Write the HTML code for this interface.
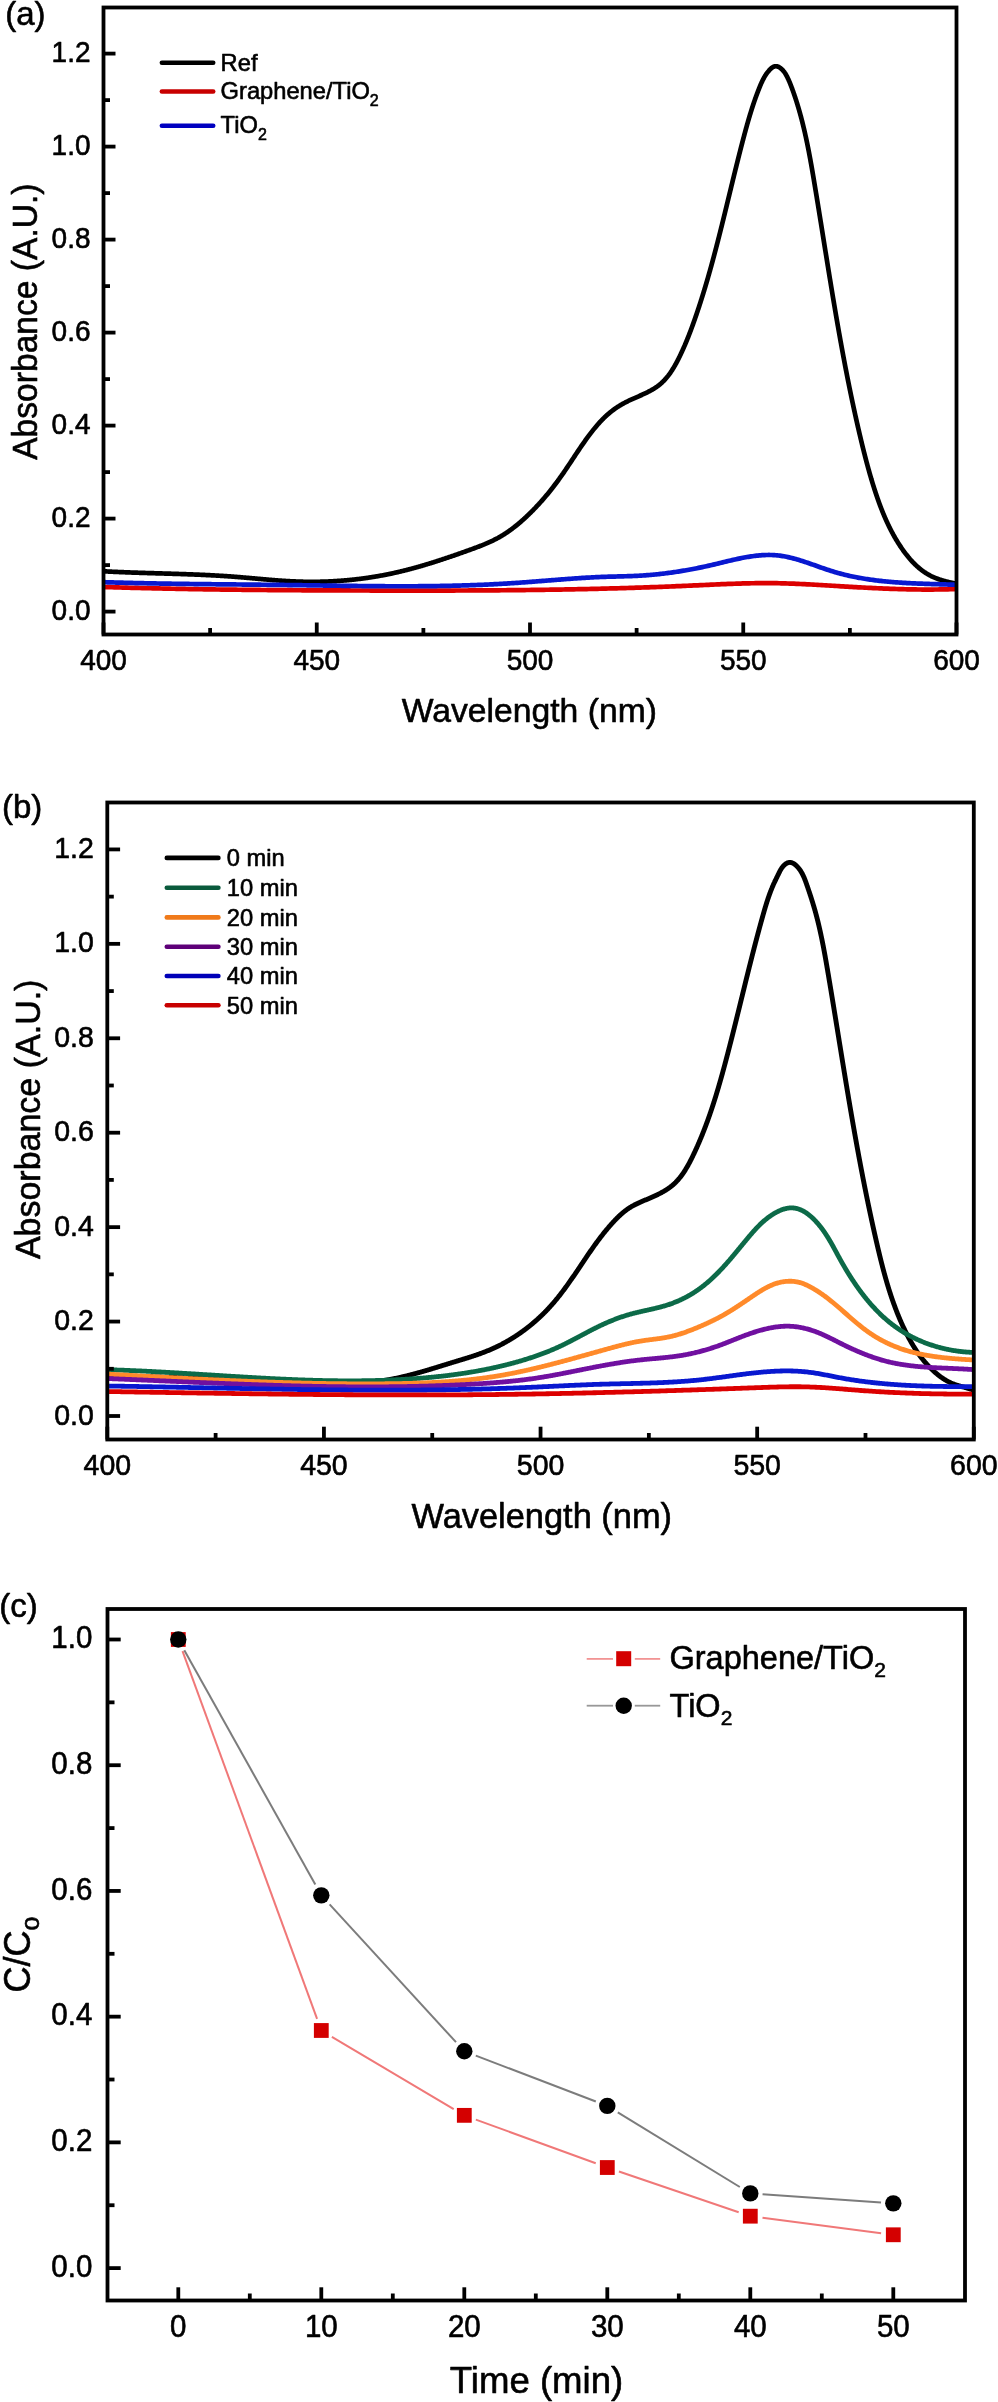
<!DOCTYPE html>
<html><head><meta charset="utf-8"><title>Figure</title>
<style>html,body{margin:0;padding:0;background:#fff;width:998px;height:2402px;overflow:hidden;font-family:"Liberation Sans",sans-serif}svg{display:block;filter:blur(0.45px)}</style>
</head><body>
<svg width="998" height="2402" viewBox="0 0 998 2402" font-family='&quot;Liberation Sans&quot;, sans-serif' fill="#000"><defs><clipPath id="ca"><rect x="103.50" y="7.50" width="853.00" height="627.00"/></clipPath><clipPath id="cb"><rect x="107.30" y="802.50" width="866.50" height="637.00"/></clipPath></defs><path d="M103.50 571.28L104.13 571.31L104.76 571.35L105.39 571.38L106.02 571.41L106.65 571.45L107.28 571.48L107.90 571.51L108.53 571.54L109.16 571.57L109.79 571.61L110.42 571.64L111.05 571.67L111.68 571.70L112.31 571.73L112.94 571.76L113.57 571.79L114.20 571.82L114.83 571.85L115.46 571.87L116.09 571.90L116.72 571.93L117.35 571.96L117.98 571.99L118.61 572.01L119.24 572.04L119.86 572.07L120.49 572.09L121.12 572.12L121.75 572.14L122.38 572.17L123.01 572.20L123.64 572.22L124.27 572.25L124.90 572.27L125.53 572.29L126.16 572.32L126.79 572.34L127.42 572.37L128.05 572.39L128.68 572.41L129.31 572.44L129.94 572.46L130.57 572.48L131.20 572.51L131.83 572.53L132.46 572.55L133.09 572.57L133.72 572.59L134.35 572.62L134.98 572.64L135.61 572.66L136.24 572.68L136.87 572.70L137.50 572.72L138.13 572.74L138.76 572.76L139.39 572.78L140.02 572.80L140.65 572.82L141.27 572.84L141.90 572.86L142.53 572.88L143.16 572.90L143.79 572.92L144.42 572.94L145.05 572.96L145.68 572.98L146.31 573.00L146.94 573.02L147.57 573.04L148.20 573.06L148.83 573.08L149.46 573.09L150.09 573.11L150.72 573.13L151.35 573.15L151.98 573.17L152.61 573.19L153.24 573.21L153.87 573.22L154.50 573.24L155.13 573.26L155.76 573.28L156.39 573.30L157.02 573.32L157.65 573.34L158.28 573.35L158.91 573.37L159.54 573.39L160.17 573.41L160.80 573.43L161.43 573.44L162.06 573.46L162.69 573.48L163.32 573.50L163.95 573.52L164.58 573.54L165.21 573.56L165.84 573.57L166.47 573.59L167.10 573.61L167.73 573.63L168.36 573.65L168.99 573.67L169.62 573.69L170.25 573.70L170.87 573.72L171.50 573.74L172.13 573.76L172.76 573.78L173.39 573.80L174.02 573.82L174.65 573.84L175.28 573.86L175.91 573.88L176.54 573.90L177.17 573.92L177.80 573.94L178.43 573.96L179.06 573.98L179.69 574.00L180.32 574.02L180.95 574.04L181.58 574.06L182.21 574.08L182.84 574.10L183.47 574.12L184.10 574.15L184.73 574.17L185.36 574.19L185.99 574.21L186.61 574.23L187.24 574.26L187.87 574.28L188.50 574.30L189.13 574.32L189.76 574.35L190.39 574.37L191.02 574.39L191.65 574.42L192.28 574.44L192.91 574.46L193.54 574.49L194.17 574.51L194.80 574.54L195.43 574.56L196.06 574.59L196.69 574.61L197.31 574.64L197.94 574.67L198.57 574.69L199.20 574.72L199.83 574.75L200.46 574.77L201.09 574.80L201.72 574.83L202.35 574.86L202.98 574.88L203.61 574.91L204.24 574.94L204.86 574.97L205.49 575.00L206.12 575.03L206.75 575.06L207.38 575.09L208.01 575.12L208.64 575.15L209.27 575.18L209.90 575.21L210.53 575.25L211.15 575.28L211.78 575.31L212.41 575.34L213.04 575.38L213.67 575.41L214.30 575.45L214.93 575.48L215.56 575.51L216.19 575.55L216.81 575.59L217.44 575.62L218.07 575.66L218.70 575.69L219.33 575.73L219.96 575.77L220.59 575.81L221.21 575.85L221.84 575.88L222.47 575.92L223.10 575.96L223.73 576.00L224.36 576.04L224.99 576.08L225.61 576.13L226.24 576.17L226.87 576.21L227.50 576.25L228.13 576.30L228.76 576.34L229.38 576.38L230.01 576.43L230.64 576.47L231.27 576.52L231.90 576.56L232.53 576.61L233.15 576.66L233.78 576.70L234.41 576.75L235.04 576.80L235.67 576.85L236.29 576.90L236.92 576.95L237.55 577.00L238.18 577.05L238.81 577.10L239.43 577.15L240.06 577.20L240.69 577.26L241.32 577.31L241.94 577.36L242.57 577.41L243.20 577.47L243.83 577.52L244.46 577.57L245.08 577.63L245.71 577.68L246.34 577.74L246.97 577.79L247.59 577.85L248.22 577.90L248.85 577.96L249.48 578.01L250.11 578.07L250.73 578.12L251.36 578.18L251.99 578.24L252.62 578.29L253.24 578.35L253.87 578.40L254.50 578.46L255.13 578.52L255.75 578.57L256.38 578.63L257.01 578.68L257.64 578.74L258.27 578.80L258.89 578.85L259.52 578.91L260.15 578.96L260.78 579.02L261.40 579.08L262.03 579.13L262.66 579.19L263.29 579.24L263.91 579.30L264.54 579.35L265.17 579.40L265.80 579.46L266.43 579.51L267.05 579.57L267.68 579.62L268.31 579.67L268.94 579.73L269.56 579.78L270.19 579.83L270.82 579.88L271.45 579.93L272.08 579.98L272.70 580.04L273.33 580.09L273.96 580.14L274.59 580.18L275.22 580.23L275.84 580.28L276.47 580.33L277.10 580.38L277.73 580.42L278.36 580.47L278.99 580.52L279.61 580.56L280.24 580.61L280.87 580.65L281.50 580.69L282.13 580.74L282.76 580.78L283.38 580.82L284.01 580.86L284.64 580.90L285.27 580.94L285.90 580.98L286.53 581.02L287.15 581.06L287.78 581.09L288.41 581.13L289.04 581.16L289.67 581.20L290.30 581.23L290.93 581.27L291.56 581.30L292.19 581.33L292.81 581.36L293.44 581.39L294.07 581.42L294.70 581.44L295.33 581.47L295.96 581.50L296.59 581.52L297.22 581.54L297.85 581.57L298.48 581.59L299.11 581.61L299.74 581.63L300.37 581.65L301.00 581.67L301.63 581.68L302.26 581.70L302.89 581.71L303.52 581.73L304.14 581.74L304.77 581.75L305.40 581.76L306.03 581.77L306.66 581.78L307.29 581.79L307.92 581.79L308.55 581.80L309.18 581.80L309.81 581.81L310.44 581.81L311.07 581.81L311.70 581.81L312.33 581.81L312.97 581.81L313.60 581.81L314.23 581.81L314.86 581.80L315.49 581.80L316.12 581.79L316.75 581.78L317.38 581.77L318.01 581.76L318.64 581.75L319.27 581.74L319.90 581.73L320.53 581.72L321.16 581.70L321.79 581.69L322.42 581.67L323.05 581.65L323.68 581.63L324.31 581.61L324.94 581.59L325.57 581.57L326.20 581.55L326.83 581.53L327.46 581.50L328.09 581.48L328.72 581.45L329.34 581.42L329.97 581.39L330.60 581.36L331.23 581.33L331.86 581.30L332.49 581.27L333.12 581.23L333.75 581.20L334.38 581.16L335.01 581.13L335.64 581.09L336.27 581.05L336.90 581.01L337.53 580.97L338.15 580.93L338.78 580.88L339.41 580.84L340.04 580.79L340.67 580.75L341.30 580.70L341.93 580.65L342.55 580.60L343.18 580.55L343.81 580.50L344.44 580.45L345.07 580.40L345.69 580.34L346.32 580.29L346.95 580.23L347.58 580.17L348.21 580.12L348.83 580.06L349.46 580.00L350.09 579.94L350.71 579.87L351.34 579.81L351.97 579.74L352.59 579.68L353.22 579.61L353.85 579.55L354.47 579.48L355.10 579.41L355.73 579.34L356.35 579.26L356.98 579.19L357.60 579.12L358.23 579.04L358.86 578.97L359.48 578.89L360.11 578.81L360.73 578.73L361.36 578.65L361.98 578.57L362.61 578.49L363.23 578.41L363.85 578.32L364.48 578.24L365.10 578.15L365.73 578.07L366.35 577.98L366.97 577.89L367.60 577.80L368.22 577.71L368.84 577.61L369.47 577.52L370.09 577.43L370.71 577.33L371.33 577.24L371.96 577.14L372.58 577.04L373.20 576.94L373.82 576.84L374.44 576.74L375.07 576.64L375.69 576.53L376.31 576.43L376.93 576.32L377.55 576.21L378.17 576.11L378.79 576.00L379.41 575.89L380.03 575.78L380.65 575.66L381.27 575.55L381.89 575.44L382.51 575.32L383.13 575.21L383.74 575.09L384.36 574.97L384.98 574.85L385.60 574.73L386.22 574.61L386.83 574.49L387.45 574.36L388.07 574.24L388.69 574.11L389.30 573.99L389.92 573.86L390.53 573.73L391.15 573.60L391.77 573.47L392.38 573.34L393.00 573.21L393.61 573.07L394.23 572.94L394.84 572.80L395.46 572.66L396.07 572.53L396.68 572.39L397.30 572.25L397.91 572.11L398.52 571.96L399.14 571.82L399.75 571.68L400.36 571.53L400.97 571.38L401.58 571.24L402.20 571.09L402.81 570.94L403.42 570.79L404.03 570.64L404.64 570.49L405.25 570.33L405.86 570.18L406.47 570.02L407.08 569.87L407.69 569.71L408.30 569.55L408.91 569.39L409.52 569.24L410.12 569.07L410.73 568.91L411.34 568.75L411.95 568.59L412.56 568.42L413.16 568.26L413.77 568.09L414.38 567.93L414.99 567.76L415.59 567.59L416.20 567.42L416.81 567.25L417.41 567.08L418.02 566.91L418.62 566.74L419.23 566.57L419.83 566.39L420.44 566.22L421.04 566.04L421.65 565.87L422.25 565.69L422.86 565.51L423.46 565.34L424.07 565.16L424.67 564.98L425.27 564.80L425.88 564.62L426.48 564.43L427.08 564.25L427.68 564.07L428.29 563.88L428.89 563.70L429.49 563.52L430.09 563.33L430.70 563.14L431.30 562.96L431.90 562.77L432.50 562.58L433.10 562.39L433.70 562.20L434.30 562.01L434.91 561.82L435.51 561.63L436.11 561.44L436.71 561.24L437.31 561.05L437.91 560.86L438.51 560.66L439.11 560.47L439.71 560.27L440.31 560.08L440.90 559.88L441.50 559.68L442.10 559.49L442.70 559.29L443.30 559.09L443.90 558.89L444.50 558.69L445.10 558.49L445.69 558.29L446.29 558.09L446.89 557.89L447.49 557.69L448.08 557.49L448.68 557.28L449.28 557.08L449.88 556.88L450.47 556.67L451.07 556.47L451.67 556.26L452.26 556.06L452.86 555.85L453.46 555.65L454.05 555.44L454.65 555.24L455.25 555.03L455.84 554.82L456.44 554.61L457.03 554.41L457.63 554.20L458.22 553.99L458.82 553.78L459.42 553.57L460.01 553.36L460.61 553.15L461.20 552.94L461.80 552.73L462.39 552.52L462.99 552.31L463.58 552.10L464.17 551.89L464.77 551.68L465.36 551.46L465.96 551.25L466.55 551.04L467.15 550.83L467.74 550.61L468.33 550.40L468.93 550.19L469.52 549.97L470.11 549.76L470.71 549.55L471.30 549.33L471.89 549.12L472.49 548.90L473.08 548.68L473.67 548.47L474.26 548.25L474.85 548.03L475.44 547.81L476.03 547.59L476.62 547.37L477.21 547.15L477.80 546.92L478.39 546.70L478.98 546.47L479.56 546.24L480.15 546.02L480.74 545.79L481.32 545.56L481.90 545.32L482.49 545.09L483.07 544.85L483.65 544.61L484.23 544.38L484.81 544.13L485.39 543.89L485.97 543.65L486.55 543.40L487.12 543.15L487.70 542.90L488.27 542.65L488.84 542.39L489.42 542.14L489.99 541.88L490.56 541.62L491.12 541.35L491.69 541.08L492.26 540.82L492.82 540.54L493.38 540.27L493.95 539.99L494.51 539.71L495.06 539.43L495.62 539.15L496.18 538.86L496.73 538.57L497.28 538.27L497.84 537.98L498.38 537.68L498.93 537.37L499.48 537.07L500.02 536.76L500.57 536.44L501.11 536.13L501.65 535.81L502.19 535.48L502.72 535.16L503.26 534.83L503.79 534.50L504.32 534.16L504.85 533.82L505.38 533.48L505.90 533.14L506.43 532.79L506.95 532.44L507.47 532.08L507.99 531.73L508.51 531.37L509.03 531.01L509.54 530.64L510.05 530.28L510.56 529.91L511.07 529.54L511.58 529.16L512.09 528.79L512.60 528.41L513.10 528.02L513.60 527.64L514.10 527.25L514.60 526.86L515.10 526.47L515.59 526.08L516.09 525.68L516.58 525.29L517.07 524.89L517.56 524.48L518.05 524.08L518.54 523.67L519.02 523.27L519.51 522.86L519.99 522.44L520.47 522.03L520.95 521.61L521.43 521.20L521.91 520.78L522.38 520.36L522.85 519.93L523.33 519.51L523.80 519.08L524.27 518.66L524.74 518.23L525.20 517.80L525.67 517.36L526.13 516.93L526.59 516.50L527.06 516.06L527.52 515.62L527.97 515.18L528.43 514.74L528.89 514.30L529.34 513.86L529.79 513.42L530.25 512.97L530.70 512.53L531.15 512.08L531.59 511.63L532.04 511.19L532.48 510.74L532.93 510.28L533.37 509.83L533.81 509.38L534.25 508.93L534.69 508.47L535.13 508.02L535.56 507.56L536.00 507.10L536.43 506.64L536.86 506.18L537.30 505.72L537.73 505.26L538.15 504.80L538.58 504.33L539.01 503.87L539.43 503.40L539.86 502.94L540.28 502.47L540.70 502.00L541.12 501.53L541.54 501.06L541.95 500.59L542.37 500.12L542.78 499.64L543.20 499.17L543.61 498.69L544.02 498.22L544.43 497.74L544.84 497.26L545.25 496.78L545.65 496.30L546.06 495.82L546.46 495.34L546.87 494.86L547.27 494.38L547.67 493.89L548.07 493.41L548.47 492.92L548.86 492.44L549.26 491.95L549.65 491.46L550.05 490.97L550.44 490.48L550.83 489.99L551.22 489.50L551.61 489.01L552.00 488.51L552.39 488.02L552.77 487.52L553.16 487.03L553.54 486.53L553.92 486.03L554.30 485.53L554.68 485.03L555.06 484.53L555.44 484.03L555.82 483.53L556.19 483.03L556.57 482.53L556.94 482.02L557.32 481.52L557.69 481.01L558.06 480.51L558.43 480.00L558.79 479.49L559.16 478.98L559.53 478.48L559.89 477.97L560.26 477.45L560.62 476.94L560.98 476.43L561.34 475.92L561.71 475.41L562.06 474.89L562.42 474.38L562.78 473.86L563.14 473.35L563.49 472.83L563.85 472.31L564.20 471.80L564.56 471.28L564.91 470.76L565.26 470.24L565.62 469.72L565.97 469.20L566.32 468.68L566.67 468.16L567.02 467.64L567.37 467.12L567.72 466.60L568.07 466.07L568.42 465.55L568.77 465.03L569.11 464.51L569.46 463.98L569.81 463.46L570.16 462.94L570.50 462.41L570.85 461.89L571.20 461.37L571.54 460.84L571.89 460.32L572.24 459.79L572.58 459.27L572.93 458.74L573.28 458.22L573.62 457.70L573.97 457.17L574.32 456.65L574.66 456.12L575.01 455.60L575.36 455.07L575.71 454.55L576.06 454.02L576.40 453.50L576.75 452.98L577.10 452.45L577.45 451.93L577.80 451.41L578.15 450.88L578.50 450.36L578.86 449.84L579.21 449.32L579.56 448.79L579.91 448.27L580.27 447.75L580.62 447.23L580.98 446.71L581.34 446.19L581.69 445.67L582.05 445.15L582.41 444.63L582.77 444.11L583.13 443.59L583.49 443.08L583.85 442.56L584.22 442.04L584.58 441.53L584.94 441.01L585.31 440.50L585.68 439.98L586.05 439.47L586.42 438.96L586.79 438.44L587.16 437.93L587.53 437.42L587.91 436.91L588.28 436.40L588.66 435.89L589.04 435.39L589.42 434.88L589.80 434.37L590.18 433.87L590.57 433.36L590.95 432.86L591.34 432.36L591.73 431.86L592.12 431.36L592.51 430.86L592.91 430.36L593.30 429.86L593.70 429.37L594.10 428.87L594.50 428.38L594.90 427.89L595.31 427.40L595.71 426.92L596.12 426.43L596.53 425.95L596.94 425.47L597.35 424.99L597.77 424.51L598.19 424.04L598.61 423.57L599.03 423.09L599.45 422.63L599.88 422.16L600.31 421.70L600.73 421.24L601.17 420.78L601.60 420.33L602.04 419.87L602.48 419.42L602.92 418.98L603.36 418.53L603.81 418.09L604.25 417.66L604.70 417.22L605.16 416.79L605.61 416.36L606.07 415.94L606.53 415.52L606.99 415.10L607.45 414.69L607.92 414.28L608.39 413.87L608.86 413.47L609.34 413.07L609.82 412.67L610.30 412.28L610.78 411.89L611.26 411.51L611.75 411.12L612.24 410.74L612.73 410.37L613.23 410.00L613.73 409.63L614.23 409.27L614.73 408.90L615.24 408.55L615.75 408.19L616.26 407.84L616.77 407.49L617.29 407.15L617.81 406.81L618.33 406.47L618.86 406.14L619.39 405.81L619.92 405.49L620.45 405.16L620.99 404.85L621.53 404.53L622.07 404.22L622.61 403.91L623.16 403.61L623.71 403.30L624.27 403.01L624.82 402.71L625.38 402.42L625.94 402.13L626.51 401.85L627.07 401.57L627.64 401.29L628.21 401.01L628.79 400.74L629.36 400.47L629.94 400.20L630.51 399.93L631.09 399.66L631.67 399.40L632.26 399.13L632.84 398.87L633.42 398.61L634.00 398.35L634.59 398.09L635.17 397.83L635.76 397.58L636.35 397.32L636.93 397.06L637.52 396.80L638.10 396.55L638.69 396.29L639.27 396.03L639.86 395.77L640.44 395.51L641.03 395.25L641.61 394.99L642.19 394.73L642.77 394.46L643.35 394.20L643.93 393.93L644.50 393.66L645.08 393.39L645.65 393.12L646.22 392.84L646.79 392.56L647.35 392.28L647.92 392.00L648.48 391.71L649.04 391.42L649.59 391.13L650.15 390.83L650.70 390.53L651.24 390.23L651.79 389.92L652.33 389.61L652.87 389.29L653.40 388.97L653.93 388.65L654.46 388.32L654.98 387.98L655.50 387.64L656.01 387.30L656.52 386.95L657.02 386.60L657.52 386.23L658.02 385.87L658.51 385.50L659.00 385.12L659.48 384.73L659.95 384.34L660.42 383.94L660.89 383.54L661.35 383.13L661.80 382.72L662.25 382.30L662.70 381.87L663.14 381.44L663.57 381.00L664.00 380.56L664.43 380.11L664.85 379.65L665.27 379.19L665.68 378.73L666.09 378.26L666.49 377.79L666.89 377.31L667.29 376.83L667.68 376.34L668.07 375.85L668.45 375.35L668.83 374.85L669.20 374.35L669.58 373.84L669.94 373.33L670.31 372.81L670.67 372.30L671.02 371.77L671.38 371.25L671.73 370.72L672.07 370.19L672.42 369.65L672.76 369.11L673.09 368.57L673.42 368.03L673.76 367.48L674.08 366.93L674.41 366.38L674.73 365.83L675.05 365.27L675.36 364.71L675.67 364.15L675.98 363.59L676.29 363.03L676.60 362.46L676.90 361.89L677.20 361.33L677.50 360.76L677.79 360.19L678.08 359.61L678.37 359.04L678.66 358.46L678.95 357.89L679.23 357.31L679.52 356.74L679.80 356.16L680.08 355.58L680.35 355.00L680.63 354.43L680.90 353.85L681.17 353.27L681.44 352.69L681.71 352.11L681.98 351.53L682.24 350.95L682.51 350.37L682.77 349.79L683.03 349.21L683.29 348.63L683.55 348.05L683.80 347.47L684.06 346.89L684.31 346.31L684.56 345.73L684.82 345.15L685.06 344.57L685.31 343.99L685.56 343.40L685.80 342.82L686.05 342.24L686.29 341.66L686.53 341.07L686.77 340.49L687.01 339.91L687.25 339.32L687.48 338.74L687.72 338.16L687.95 337.57L688.19 336.99L688.42 336.40L688.65 335.82L688.88 335.23L689.11 334.65L689.33 334.06L689.56 333.48L689.79 332.89L690.01 332.31L690.23 331.72L690.46 331.13L690.68 330.55L690.90 329.96L691.12 329.37L691.34 328.78L691.55 328.20L691.77 327.61L691.99 327.02L692.20 326.43L692.42 325.84L692.63 325.25L692.85 324.66L693.06 324.08L693.27 323.49L693.48 322.90L693.69 322.31L693.90 321.72L694.11 321.12L694.32 320.53L694.53 319.94L694.74 319.35L694.94 318.76L695.15 318.17L695.36 317.58L695.56 316.98L695.77 316.39L695.97 315.80L696.17 315.20L696.38 314.61L696.58 314.02L696.78 313.42L696.98 312.83L697.18 312.24L697.38 311.64L697.58 311.05L697.78 310.45L697.98 309.86L698.18 309.26L698.38 308.67L698.58 308.07L698.77 307.47L698.97 306.88L699.16 306.28L699.36 305.68L699.55 305.09L699.75 304.49L699.94 303.89L700.14 303.30L700.33 302.70L700.52 302.10L700.71 301.50L700.90 300.90L701.09 300.30L701.28 299.71L701.47 299.11L701.66 298.51L701.85 297.91L702.04 297.31L702.23 296.71L702.42 296.11L702.60 295.51L702.79 294.91L702.98 294.31L703.16 293.71L703.35 293.11L703.53 292.51L703.72 291.90L703.90 291.30L704.08 290.70L704.27 290.10L704.45 289.50L704.63 288.90L704.81 288.29L705.00 287.69L705.18 287.09L705.36 286.49L705.54 285.88L705.72 285.28L705.90 284.68L706.07 284.07L706.25 283.47L706.43 282.87L706.61 282.26L706.79 281.66L706.96 281.05L707.14 280.45L707.32 279.84L707.49 279.24L707.67 278.64L707.84 278.03L708.02 277.42L708.19 276.82L708.36 276.21L708.54 275.61L708.71 275.00L708.88 274.40L709.06 273.79L709.23 273.18L709.40 272.58L709.57 271.97L709.74 271.37L709.91 270.76L710.08 270.15L710.25 269.55L710.42 268.94L710.59 268.33L710.76 267.72L710.93 267.12L711.10 266.51L711.27 265.90L711.43 265.29L711.60 264.69L711.77 264.08L711.93 263.47L712.10 262.86L712.27 262.25L712.43 261.64L712.60 261.04L712.76 260.43L712.93 259.82L713.09 259.21L713.26 258.60L713.42 257.99L713.58 257.38L713.75 256.77L713.91 256.16L714.07 255.55L714.24 254.94L714.40 254.33L714.56 253.72L714.72 253.11L714.88 252.50L715.04 251.89L715.20 251.28L715.37 250.67L715.53 250.06L715.69 249.45L715.85 248.84L716.01 248.23L716.16 247.62L716.32 247.01L716.48 246.40L716.64 245.79L716.80 245.18L716.96 244.57L717.12 243.96L717.27 243.34L717.43 242.73L717.59 242.12L717.75 241.51L717.90 240.90L718.06 240.29L718.22 239.68L718.37 239.06L718.53 238.45L718.68 237.84L718.84 237.23L719.00 236.62L719.15 236.01L719.31 235.39L719.46 234.78L719.62 234.17L719.77 233.56L719.92 232.95L720.08 232.33L720.23 231.72L720.39 231.11L720.54 230.50L720.69 229.88L720.85 229.27L721.00 228.66L721.15 228.05L721.31 227.43L721.46 226.82L721.61 226.21L721.76 225.60L721.92 224.98L722.07 224.37L722.22 223.76L722.37 223.15L722.52 222.53L722.68 221.92L722.83 221.31L722.98 220.70L723.13 220.08L723.28 219.47L723.43 218.86L723.58 218.25L723.73 217.63L723.88 217.02L724.04 216.41L724.19 215.79L724.34 215.18L724.49 214.57L724.64 213.96L724.79 213.34L724.94 212.73L725.09 212.12L725.24 211.50L725.39 210.89L725.54 210.28L725.69 209.67L725.84 209.05L725.98 208.44L726.13 207.83L726.28 207.22L726.43 206.60L726.58 205.99L726.73 205.38L726.88 204.77L727.03 204.15L727.18 203.54L727.33 202.93L727.48 202.31L727.63 201.70L727.77 201.09L727.92 200.48L728.07 199.87L728.22 199.25L728.37 198.64L728.52 198.03L728.67 197.42L728.82 196.80L728.96 196.19L729.11 195.58L729.26 194.97L729.41 194.36L729.56 193.74L729.71 193.13L729.86 192.52L730.00 191.91L730.15 191.30L730.30 190.68L730.45 190.07L730.60 189.46L730.75 188.85L730.90 188.24L731.05 187.62L731.19 187.01L731.34 186.40L731.49 185.79L731.64 185.18L731.79 184.57L731.94 183.95L732.09 183.34L732.24 182.73L732.39 182.12L732.53 181.51L732.68 180.90L732.83 180.29L732.98 179.68L733.13 179.06L733.28 178.45L733.43 177.84L733.58 177.23L733.73 176.62L733.88 176.01L734.03 175.40L734.18 174.79L734.33 174.18L734.48 173.56L734.63 172.95L734.78 172.34L734.93 171.73L735.08 171.12L735.23 170.51L735.38 169.90L735.53 169.29L735.68 168.68L735.84 168.07L735.99 167.46L736.14 166.85L736.29 166.24L736.44 165.63L736.59 165.02L736.75 164.41L736.90 163.80L737.05 163.19L737.20 162.58L737.35 161.97L737.51 161.36L737.66 160.75L737.81 160.14L737.97 159.53L738.12 158.92L738.27 158.31L738.43 157.70L738.58 157.09L738.73 156.48L738.89 155.87L739.04 155.26L739.20 154.65L739.35 154.04L739.50 153.43L739.66 152.82L739.81 152.21L739.97 151.60L740.13 150.99L740.28 150.38L740.44 149.77L740.59 149.16L740.75 148.55L740.91 147.94L741.06 147.33L741.22 146.73L741.38 146.12L741.53 145.51L741.69 144.90L741.85 144.29L742.01 143.68L742.17 143.07L742.33 142.46L742.48 141.85L742.64 141.25L742.80 140.64L742.96 140.03L743.12 139.42L743.28 138.81L743.44 138.20L743.60 137.59L743.76 136.99L743.92 136.38L744.09 135.77L744.25 135.16L744.41 134.55L744.57 133.95L744.74 133.34L744.90 132.73L745.06 132.12L745.23 131.51L745.39 130.91L745.56 130.30L745.72 129.69L745.89 129.09L746.06 128.48L746.22 127.87L746.39 127.27L746.56 126.66L746.73 126.05L746.90 125.45L747.07 124.84L747.24 124.23L747.41 123.63L747.58 123.02L747.76 122.42L747.93 121.81L748.10 121.21L748.28 120.60L748.45 120.00L748.63 119.39L748.81 118.79L748.98 118.19L749.16 117.58L749.34 116.98L749.52 116.37L749.70 115.77L749.88 115.17L750.07 114.57L750.25 113.96L750.43 113.36L750.62 112.76L750.81 112.16L750.99 111.56L751.18 110.96L751.37 110.36L751.56 109.75L751.75 109.15L751.94 108.55L752.13 107.95L752.33 107.36L752.52 106.76L752.72 106.16L752.91 105.56L753.11 104.96L753.31 104.36L753.51 103.77L753.71 103.17L753.91 102.57L754.12 101.98L754.32 101.38L754.53 100.78L754.74 100.19L754.94 99.59L755.15 99.00L755.36 98.40L755.57 97.81L755.79 97.22L756.00 96.62L756.22 96.03L756.43 95.44L756.65 94.85L756.87 94.26L757.09 93.66L757.32 93.07L757.54 92.48L757.76 91.89L757.99 91.30L758.22 90.71L758.45 90.13L758.68 89.54L758.91 88.95L759.14 88.36L759.38 87.78L759.61 87.19L759.85 86.60L760.09 86.02L760.34 85.44L760.58 84.85L760.83 84.27L761.08 83.69L761.34 83.11L761.60 82.54L761.86 81.96L762.13 81.39L762.40 80.82L762.68 80.25L762.96 79.69L763.25 79.12L763.55 78.56L763.85 78.01L764.16 77.45L764.48 76.90L764.80 76.36L765.13 75.82L765.47 75.28L765.82 74.74L766.17 74.21L766.54 73.69L766.91 73.17L767.30 72.65L767.69 72.14L768.09 71.64L768.51 71.14L768.93 70.64L769.37 70.15L769.81 69.67L770.27 69.20L770.74 68.75L771.21 68.33L771.70 67.93L772.19 67.56L772.69 67.22L773.21 66.93L773.72 66.68L774.25 66.48L774.78 66.34L775.32 66.25L775.86 66.23L776.41 66.27L776.97 66.36L777.52 66.51L778.07 66.71L778.62 66.96L779.16 67.24L779.70 67.57L780.23 67.93L780.75 68.33L781.26 68.75L781.76 69.20L782.24 69.66L782.70 70.15L783.15 70.64L783.58 71.15L783.99 71.67L784.38 72.20L784.76 72.74L785.13 73.28L785.48 73.84L785.82 74.39L786.15 74.96L786.47 75.53L786.77 76.10L787.07 76.68L787.36 77.26L787.65 77.84L787.93 78.42L788.20 79.01L788.47 79.59L788.73 80.17L788.99 80.76L789.24 81.34L789.49 81.93L789.74 82.52L789.98 83.10L790.22 83.69L790.45 84.28L790.69 84.87L790.91 85.46L791.14 86.05L791.36 86.64L791.59 87.23L791.81 87.82L792.03 88.41L792.24 89.00L792.46 89.59L792.67 90.19L792.89 90.78L793.10 91.37L793.31 91.97L793.52 92.56L793.73 93.16L793.93 93.75L794.14 94.35L794.34 94.94L794.55 95.54L794.75 96.13L794.95 96.73L795.15 97.33L795.34 97.92L795.54 98.52L795.74 99.12L795.93 99.72L796.12 100.31L796.31 100.91L796.50 101.51L796.69 102.11L796.88 102.71L797.07 103.31L797.25 103.91L797.44 104.51L797.62 105.11L797.80 105.72L797.98 106.32L798.16 106.92L798.34 107.52L798.52 108.12L798.70 108.73L798.87 109.33L799.05 109.93L799.22 110.54L799.39 111.14L799.56 111.75L799.73 112.35L799.90 112.95L800.07 113.56L800.24 114.17L800.40 114.77L800.57 115.38L800.73 115.98L800.90 116.59L801.06 117.20L801.22 117.80L801.38 118.41L801.54 119.02L801.70 119.63L801.85 120.23L802.01 120.84L802.17 121.45L802.32 122.06L802.47 122.67L802.63 123.28L802.78 123.89L802.93 124.50L803.08 125.11L803.23 125.72L803.38 126.33L803.52 126.94L803.67 127.55L803.81 128.16L803.96 128.77L804.10 129.38L804.25 129.99L804.39 130.61L804.53 131.22L804.67 131.83L804.81 132.44L804.95 133.06L805.09 133.67L805.23 134.28L805.36 134.90L805.50 135.51L805.63 136.12L805.77 136.74L805.90 137.35L806.04 137.97L806.17 138.58L806.30 139.20L806.43 139.81L806.56 140.43L806.69 141.04L806.82 141.66L806.95 142.27L807.08 142.89L807.21 143.50L807.33 144.12L807.46 144.74L807.58 145.35L807.71 145.97L807.83 146.59L807.96 147.20L808.08 147.82L808.20 148.44L808.32 149.06L808.45 149.67L808.57 150.29L808.69 150.91L808.81 151.53L808.93 152.14L809.04 152.76L809.16 153.38L809.28 154.00L809.40 154.62L809.51 155.24L809.63 155.86L809.75 156.47L809.86 157.09L809.98 157.71L810.09 158.33L810.20 158.95L810.32 159.57L810.43 160.19L810.54 160.81L810.66 161.43L810.77 162.05L810.88 162.67L810.99 163.29L811.10 163.91L811.21 164.53L811.32 165.15L811.43 165.77L811.54 166.39L811.65 167.01L811.76 167.63L811.87 168.25L811.98 168.88L812.09 169.50L812.19 170.12L812.30 170.74L812.41 171.36L812.52 171.98L812.62 172.60L812.73 173.22L812.83 173.84L812.94 174.47L813.05 175.09L813.15 175.71L813.26 176.33L813.36 176.95L813.47 177.57L813.57 178.20L813.68 178.82L813.78 179.44L813.89 180.06L813.99 180.68L814.09 181.30L814.20 181.93L814.30 182.55L814.40 183.17L814.51 183.79L814.61 184.41L814.72 185.04L814.82 185.66L814.92 186.28L815.03 186.90L815.13 187.52L815.23 188.15L815.33 188.77L815.44 189.39L815.54 190.01L815.64 190.63L815.75 191.26L815.85 191.88L815.95 192.50L816.05 193.12L816.16 193.75L816.26 194.37L816.36 194.99L816.46 195.61L816.56 196.23L816.67 196.86L816.77 197.48L816.87 198.10L816.97 198.72L817.07 199.35L817.18 199.97L817.28 200.59L817.38 201.21L817.48 201.83L817.58 202.46L817.68 203.08L817.79 203.70L817.89 204.32L817.99 204.95L818.09 205.57L818.19 206.19L818.29 206.81L818.39 207.43L818.49 208.06L818.60 208.68L818.70 209.30L818.80 209.92L818.90 210.55L819.00 211.17L819.10 211.79L819.20 212.41L819.30 213.04L819.40 213.66L819.50 214.28L819.60 214.90L819.70 215.53L819.81 216.15L819.91 216.77L820.01 217.39L820.11 218.02L820.21 218.64L820.31 219.26L820.41 219.88L820.51 220.51L820.61 221.13L820.71 221.75L820.81 222.37L820.91 222.99L821.01 223.62L821.11 224.24L821.21 224.86L821.31 225.48L821.41 226.11L821.51 226.73L821.61 227.35L821.71 227.97L821.81 228.60L821.91 229.22L822.01 229.84L822.11 230.46L822.21 231.09L822.31 231.71L822.41 232.33L822.51 232.95L822.61 233.58L822.71 234.20L822.81 234.82L822.91 235.44L823.01 236.07L823.11 236.69L823.21 237.31L823.31 237.93L823.41 238.56L823.51 239.18L823.61 239.80L823.71 240.42L823.81 241.05L823.91 241.67L824.01 242.29L824.11 242.91L824.21 243.54L824.31 244.16L824.41 244.78L824.51 245.40L824.61 246.03L824.71 246.65L824.81 247.27L824.91 247.89L825.01 248.51L825.11 249.14L825.21 249.76L825.31 250.38L825.41 251.00L825.51 251.63L825.61 252.25L825.71 252.87L825.81 253.49L825.91 254.12L826.01 254.74L826.12 255.36L826.22 255.98L826.32 256.61L826.42 257.23L826.52 257.85L826.62 258.47L826.72 259.09L826.82 259.72L826.92 260.34L827.02 260.96L827.12 261.58L827.22 262.21L827.32 262.83L827.42 263.45L827.52 264.07L827.62 264.69L827.72 265.32L827.82 265.94L827.93 266.56L828.03 267.18L828.13 267.80L828.23 268.43L828.33 269.05L828.43 269.67L828.53 270.29L828.63 270.92L828.73 271.54L828.83 272.16L828.94 272.78L829.04 273.40L829.14 274.03L829.24 274.65L829.34 275.27L829.44 275.89L829.54 276.51L829.65 277.14L829.75 277.76L829.85 278.38L829.95 279.00L830.05 279.62L830.16 280.25L830.26 280.87L830.36 281.49L830.46 282.11L830.56 282.73L830.67 283.35L830.77 283.98L830.87 284.60L830.97 285.22L831.07 285.84L831.18 286.46L831.28 287.09L831.38 287.71L831.49 288.33L831.59 288.95L831.69 289.57L831.79 290.19L831.90 290.82L832.00 291.44L832.10 292.06L832.21 292.68L832.31 293.30L832.41 293.92L832.52 294.54L832.62 295.17L832.72 295.79L832.83 296.41L832.93 297.03L833.04 297.65L833.14 298.27L833.24 298.89L833.35 299.52L833.45 300.14L833.56 300.76L833.66 301.38L833.77 302.00L833.87 302.62L833.97 303.24L834.08 303.87L834.18 304.49L834.29 305.11L834.39 305.73L834.50 306.35L834.60 306.97L834.71 307.59L834.82 308.21L834.92 308.83L835.03 309.46L835.13 310.08L835.24 310.70L835.34 311.32L835.45 311.94L835.56 312.56L835.66 313.18L835.77 313.80L835.88 314.42L835.98 315.04L836.09 315.66L836.20 316.29L836.30 316.91L836.41 317.53L836.52 318.15L836.62 318.77L836.73 319.39L836.84 320.01L836.95 320.63L837.05 321.25L837.16 321.87L837.27 322.49L837.38 323.11L837.49 323.73L837.59 324.35L837.70 324.97L837.81 325.59L837.92 326.22L838.03 326.84L838.14 327.46L838.25 328.08L838.36 328.70L838.46 329.32L838.57 329.94L838.68 330.56L838.79 331.18L838.90 331.80L839.01 332.42L839.12 333.04L839.23 333.66L839.34 334.28L839.45 334.90L839.56 335.52L839.68 336.14L839.79 336.76L839.90 337.38L840.01 338.00L840.12 338.62L840.23 339.24L840.34 339.86L840.45 340.48L840.57 341.10L840.68 341.72L840.79 342.34L840.90 342.96L841.02 343.57L841.13 344.19L841.24 344.81L841.35 345.43L841.47 346.05L841.58 346.67L841.69 347.29L841.81 347.91L841.92 348.53L842.03 349.15L842.15 349.77L842.26 350.39L842.38 351.01L842.49 351.63L842.61 352.25L842.72 352.86L842.84 353.48L842.95 354.10L843.07 354.72L843.18 355.34L843.30 355.96L843.41 356.58L843.53 357.20L843.65 357.82L843.76 358.43L843.88 359.05L844.00 359.67L844.11 360.29L844.23 360.91L844.35 361.53L844.46 362.15L844.58 362.77L844.70 363.38L844.82 364.00L844.93 364.62L845.05 365.24L845.17 365.86L845.29 366.48L845.41 367.09L845.53 367.71L845.65 368.33L845.77 368.95L845.89 369.57L846.01 370.18L846.13 370.80L846.25 371.42L846.37 372.04L846.49 372.66L846.61 373.27L846.73 373.89L846.85 374.51L846.97 375.13L847.09 375.75L847.21 376.36L847.34 376.98L847.46 377.60L847.58 378.22L847.70 378.83L847.82 379.45L847.95 380.07L848.07 380.69L848.19 381.30L848.32 381.92L848.44 382.54L848.56 383.15L848.69 383.77L848.81 384.39L848.94 385.01L849.06 385.62L849.19 386.24L849.31 386.86L849.44 387.47L849.56 388.09L849.69 388.71L849.81 389.32L849.94 389.94L850.07 390.56L850.19 391.17L850.32 391.79L850.45 392.41L850.57 393.02L850.70 393.64L850.83 394.26L850.96 394.87L851.09 395.49L851.21 396.11L851.34 396.72L851.47 397.34L851.60 397.95L851.73 398.57L851.86 399.19L851.99 399.80L852.12 400.42L852.25 401.03L852.38 401.65L852.51 402.27L852.64 402.88L852.77 403.50L852.90 404.11L853.04 404.73L853.17 405.34L853.30 405.96L853.43 406.57L853.56 407.19L853.70 407.81L853.83 408.42L853.96 409.04L854.10 409.65L854.23 410.27L854.37 410.88L854.50 411.50L854.63 412.11L854.77 412.73L854.90 413.34L855.04 413.96L855.17 414.57L855.31 415.19L855.45 415.80L855.58 416.42L855.72 417.03L855.86 417.64L855.99 418.26L856.13 418.87L856.27 419.49L856.41 420.10L856.54 420.72L856.68 421.33L856.82 421.94L856.96 422.56L857.10 423.17L857.24 423.79L857.38 424.40L857.52 425.01L857.66 425.63L857.80 426.24L857.94 426.86L858.08 427.47L858.22 428.08L858.36 428.70L858.50 429.31L858.65 429.92L858.79 430.54L858.93 431.15L859.07 431.76L859.22 432.38L859.36 432.99L859.50 433.60L859.65 434.22L859.79 434.83L859.94 435.44L860.08 436.06L860.23 436.67L860.37 437.28L860.52 437.89L860.66 438.51L860.81 439.12L860.96 439.73L861.10 440.34L861.25 440.96L861.40 441.57L861.55 442.18L861.70 442.79L861.84 443.41L861.99 444.02L862.14 444.63L862.29 445.24L862.44 445.85L862.59 446.47L862.74 447.08L862.89 447.69L863.04 448.30L863.19 448.91L863.35 449.52L863.50 450.13L863.65 450.75L863.81 451.36L863.96 451.97L864.11 452.58L864.27 453.19L864.42 453.80L864.58 454.41L864.73 455.02L864.89 455.63L865.05 456.24L865.20 456.85L865.36 457.46L865.52 458.07L865.68 458.68L865.84 459.29L866.00 459.90L866.16 460.51L866.32 461.12L866.48 461.73L866.64 462.34L866.80 462.95L866.97 463.55L867.13 464.16L867.29 464.77L867.46 465.38L867.62 465.99L867.79 466.60L867.95 467.20L868.12 467.81L868.29 468.42L868.46 469.03L868.63 469.63L868.80 470.24L868.97 470.85L869.14 471.45L869.31 472.06L869.48 472.67L869.65 473.27L869.82 473.88L870.00 474.48L870.17 475.09L870.35 475.69L870.52 476.30L870.70 476.90L870.88 477.51L871.06 478.11L871.24 478.72L871.41 479.32L871.60 479.93L871.78 480.53L871.96 481.13L872.14 481.74L872.32 482.34L872.51 482.94L872.69 483.55L872.88 484.15L873.06 484.75L873.25 485.35L873.44 485.95L873.63 486.56L873.82 487.16L874.01 487.76L874.20 488.36L874.39 488.96L874.58 489.56L874.78 490.16L874.97 490.76L875.17 491.36L875.37 491.96L875.56 492.56L875.76 493.16L875.96 493.76L876.16 494.35L876.36 494.95L876.56 495.55L876.77 496.15L876.97 496.74L877.18 497.34L877.38 497.94L877.59 498.53L877.80 499.13L878.01 499.72L878.22 500.32L878.43 500.91L878.64 501.51L878.86 502.10L879.07 502.69L879.29 503.28L879.50 503.88L879.72 504.47L879.94 505.06L880.16 505.65L880.39 506.24L880.61 506.83L880.83 507.42L881.06 508.01L881.29 508.59L881.52 509.18L881.75 509.77L881.98 510.35L882.21 510.94L882.44 511.52L882.68 512.11L882.92 512.69L883.15 513.27L883.39 513.86L883.64 514.44L883.88 515.02L884.12 515.60L884.37 516.18L884.61 516.76L884.86 517.33L885.11 517.91L885.37 518.49L885.62 519.06L885.87 519.64L886.13 520.21L886.39 520.79L886.65 521.36L886.91 521.93L887.17 522.50L887.44 523.07L887.70 523.64L887.97 524.21L888.24 524.78L888.51 525.34L888.79 525.91L889.06 526.47L889.34 527.04L889.62 527.60L889.90 528.16L890.18 528.72L890.46 529.28L890.75 529.84L891.04 530.40L891.33 530.96L891.62 531.52L891.91 532.07L892.21 532.63L892.50 533.18L892.80 533.73L893.10 534.28L893.41 534.83L893.71 535.38L894.02 535.93L894.33 536.48L894.64 537.02L894.95 537.57L895.27 538.11L895.58 538.65L895.90 539.20L896.23 539.74L896.55 540.28L896.87 540.81L897.20 541.35L897.53 541.89L897.86 542.42L898.20 542.95L898.54 543.49L898.88 544.02L899.22 544.55L899.56 545.07L899.91 545.60L900.25 546.13L900.60 546.65L900.96 547.17L901.31 547.70L901.67 548.22L902.03 548.74L902.39 549.25L902.75 549.77L903.12 550.29L903.49 550.80L903.86 551.31L904.24 551.82L904.61 552.33L904.99 552.84L905.37 553.34L905.76 553.85L906.15 554.35L906.53 554.85L906.93 555.34L907.32 555.84L907.72 556.33L908.12 556.82L908.52 557.31L908.93 557.79L909.34 558.28L909.75 558.76L910.17 559.23L910.58 559.71L911.00 560.18L911.43 560.65L911.85 561.11L912.28 561.58L912.72 562.03L913.15 562.49L913.59 562.94L914.03 563.39L914.48 563.84L914.93 564.28L915.38 564.71L915.83 565.15L916.29 565.58L916.75 566.00L917.22 566.43L917.69 566.84L918.16 567.26L918.63 567.67L919.11 568.07L919.59 568.47L920.08 568.87L920.57 569.26L921.06 569.65L921.56 570.03L922.05 570.41L922.56 570.78L923.06 571.15L923.58 571.51L924.09 571.87L924.61 572.22L925.13 572.57L925.66 572.91L926.18 573.25L926.72 573.58L927.26 573.91L927.80 574.23L928.34 574.54L928.89 574.85L929.44 575.15L930.00 575.45L930.56 575.74L931.13 576.02L931.69 576.30L932.27 576.57L932.84 576.84L933.42 577.10L934.00 577.36L934.59 577.61L935.17 577.85L935.77 578.09L936.36 578.33L936.95 578.56L937.55 578.78L938.15 579.00L938.75 579.22L939.36 579.43L939.96 579.63L940.57 579.83L941.18 580.03L941.79 580.22L942.40 580.41L943.01 580.59L943.62 580.77L944.24 580.94L944.85 581.11L945.47 581.27L946.08 581.44L946.70 581.59L947.31 581.75L947.93 581.89L948.54 582.04L949.16 582.18L949.77 582.32L950.39 582.45L951.00 582.58L951.61 582.71L952.22 582.84L952.84 582.96L953.44 583.07L954.05 583.19L954.66 583.30L955.26 583.41L955.87 583.51L956.47 583.62" fill="none" stroke="#000000" stroke-width="4.70" stroke-linejoin="round" stroke-linecap="round" clip-path="url(#ca)"/><path d="M103.50 587.01L105.64 587.07L107.78 587.14L109.91 587.20L112.05 587.27L114.19 587.33L116.33 587.39L118.47 587.45L120.61 587.51L122.74 587.57L124.88 587.63L127.02 587.69L129.16 587.75L131.30 587.80L133.43 587.86L135.57 587.91L137.71 587.97L139.85 588.02L141.99 588.07L144.12 588.12L146.26 588.17L148.40 588.23L150.54 588.27L152.68 588.32L154.82 588.37L156.95 588.42L159.09 588.47L161.23 588.51L163.37 588.56L165.51 588.60L167.65 588.65L169.78 588.69L171.92 588.73L174.06 588.77L176.20 588.81L178.34 588.85L180.47 588.89L182.61 588.93L184.75 588.97L186.89 589.01L189.03 589.05L191.17 589.08L193.30 589.12L195.44 589.16L197.58 589.19L199.72 589.23L201.86 589.26L204.00 589.29L206.13 589.32L208.27 589.36L210.41 589.39L212.55 589.42L214.69 589.45L216.83 589.48L218.96 589.51L221.10 589.54L223.24 589.56L225.38 589.59L227.52 589.62L229.66 589.65L231.80 589.67L233.93 589.70L236.07 589.72L238.21 589.75L240.35 589.77L242.49 589.79L244.63 589.82L246.76 589.84L248.90 589.86L251.04 589.88L253.18 589.90L255.32 589.92L257.46 589.94L259.60 589.96L261.73 589.98L263.87 590.00L266.01 590.02L268.15 590.04L270.29 590.06L272.43 590.07L274.56 590.09L276.70 590.11L278.84 590.12L280.98 590.14L283.12 590.15L285.26 590.17L287.40 590.18L289.53 590.20L291.67 590.21L293.81 590.23L295.95 590.24L298.09 590.25L300.23 590.26L302.37 590.28L304.50 590.29L306.64 590.30L308.78 590.31L310.92 590.32L313.06 590.33L315.20 590.34L317.34 590.35L319.48 590.36L321.61 590.37L323.75 590.38L325.89 590.39L328.03 590.40L330.17 590.41L332.31 590.42L334.45 590.42L336.58 590.43L338.72 590.44L340.86 590.45L343.00 590.45L345.14 590.46L347.28 590.47L349.42 590.47L351.56 590.48L353.69 590.48L355.83 590.49L357.97 590.50L360.11 590.50L362.25 590.51L364.39 590.51L366.53 590.52L368.66 590.52L370.80 590.53L372.94 590.53L375.08 590.54L377.22 590.54L379.36 590.54L381.50 590.55L383.64 590.55L385.77 590.56L387.91 590.56L390.05 590.56L392.19 590.56L394.33 590.57L396.47 590.57L398.61 590.57L400.75 590.57L402.89 590.58L405.02 590.58L407.16 590.58L409.30 590.58L411.44 590.58L413.58 590.58L415.72 590.58L417.86 590.58L420.00 590.58L422.13 590.58L424.27 590.58L426.41 590.58L428.55 590.58L430.69 590.57L432.83 590.57L434.97 590.57L437.11 590.57L439.24 590.56L441.38 590.56L443.52 590.55L445.66 590.55L447.80 590.54L449.94 590.54L452.08 590.53L454.22 590.53L456.35 590.52L458.49 590.51L460.63 590.51L462.77 590.50L464.91 590.49L467.05 590.48L469.19 590.47L471.33 590.46L473.46 590.45L475.60 590.44L477.74 590.43L479.88 590.42L482.02 590.41L484.16 590.39L486.30 590.38L488.43 590.37L490.57 590.35L492.71 590.34L494.85 590.32L496.99 590.30L499.13 590.29L501.27 590.27L503.41 590.25L505.54 590.23L507.68 590.22L509.82 590.20L511.96 590.18L514.10 590.16L516.24 590.13L518.38 590.11L520.51 590.09L522.65 590.07L524.79 590.04L526.93 590.02L529.07 589.99L531.21 589.97L533.34 589.94L535.48 589.91L537.62 589.88L539.76 589.86L541.90 589.83L544.04 589.80L546.17 589.76L548.31 589.73L550.45 589.70L552.59 589.67L554.73 589.63L556.87 589.60L559.00 589.56L561.14 589.53L563.28 589.49L565.42 589.45L567.56 589.41L569.70 589.37L571.83 589.33L573.97 589.29L576.11 589.25L578.25 589.21L580.39 589.17L582.52 589.12L584.66 589.08L586.80 589.03L588.94 588.98L591.08 588.94L593.21 588.89L595.35 588.84L597.49 588.79L599.63 588.74L601.77 588.68L603.90 588.63L606.04 588.58L608.18 588.52L610.32 588.47L612.46 588.41L614.59 588.35L616.73 588.29L618.87 588.23L621.01 588.17L623.15 588.11L625.28 588.05L627.42 587.98L629.56 587.92L631.70 587.85L633.83 587.79L635.97 587.72L638.11 587.65L640.25 587.58L642.38 587.51L644.52 587.44L646.66 587.36L648.80 587.29L650.93 587.21L653.07 587.14L655.21 587.06L657.35 586.98L659.48 586.90L661.62 586.82L663.76 586.74L665.90 586.66L668.03 586.57L670.17 586.49L672.31 586.40L674.44 586.31L676.58 586.22L678.72 586.13L680.86 586.04L682.99 585.95L685.13 585.86L687.27 585.76L689.40 585.67L691.54 585.57L693.68 585.47L695.81 585.37L697.95 585.28L700.09 585.18L702.22 585.08L704.36 584.98L706.50 584.88L708.63 584.78L710.77 584.68L712.91 584.59L715.04 584.49L717.18 584.40L719.32 584.31L721.45 584.22L723.59 584.13L725.73 584.04L727.86 583.96L730.00 583.88L732.14 583.80L734.27 583.73L736.41 583.66L738.55 583.59L740.68 583.53L742.82 583.47L744.95 583.41L747.09 583.36L749.23 583.31L751.36 583.27L753.50 583.23L755.64 583.20L757.77 583.18L759.91 583.16L762.04 583.14L764.18 583.13L766.32 583.13L768.45 583.13L770.59 583.14L772.72 583.16L774.86 583.19L777.00 583.22L779.13 583.26L781.27 583.30L783.40 583.36L785.54 583.41L787.68 583.48L789.81 583.55L791.95 583.63L794.08 583.71L796.22 583.79L798.35 583.88L800.49 583.98L802.63 584.08L804.76 584.18L806.90 584.29L809.03 584.40L811.17 584.51L813.30 584.63L815.44 584.75L817.58 584.87L819.71 584.99L821.85 585.12L823.98 585.24L826.12 585.37L828.25 585.50L830.39 585.63L832.53 585.76L834.66 585.89L836.80 586.02L838.93 586.15L841.07 586.28L843.21 586.41L845.34 586.54L847.48 586.67L849.61 586.80L851.75 586.92L853.89 587.04L856.02 587.17L858.16 587.29L860.29 587.40L862.43 587.52L864.57 587.63L866.70 587.75L868.84 587.86L870.98 587.96L873.11 588.07L875.25 588.17L877.38 588.27L879.52 588.37L881.66 588.46L883.79 588.55L885.93 588.64L888.07 588.72L890.21 588.80L892.34 588.88L894.48 588.95L896.62 589.02L898.75 589.09L900.89 589.15L903.03 589.21L905.17 589.26L907.30 589.31L909.44 589.36L911.58 589.40L913.72 589.44L915.86 589.47L917.99 589.49L920.13 589.52L922.27 589.53L924.41 589.54L926.55 589.55L928.69 589.55L930.83 589.55L932.96 589.54L935.10 589.52L937.24 589.50L939.38 589.47L941.52 589.44L943.66 589.40L945.80 589.35L947.94 589.30L950.08 589.24L952.22 589.17L954.36 589.10L956.50 589.02" fill="none" stroke="#dc0000" stroke-width="4.70" stroke-linejoin="round" stroke-linecap="round" clip-path="url(#ca)"/><path d="M103.49 582.16L104.87 582.20L106.25 582.25L107.63 582.29L109.00 582.33L110.38 582.37L111.76 582.41L113.14 582.46L114.51 582.50L115.89 582.53L117.27 582.57L118.64 582.61L120.02 582.65L121.40 582.69L122.77 582.72L124.15 582.76L125.53 582.79L126.90 582.83L128.28 582.86L129.66 582.90L131.03 582.93L132.41 582.96L133.79 583.00L135.16 583.03L136.54 583.06L137.92 583.09L139.29 583.12L140.67 583.15L142.04 583.18L143.42 583.21L144.80 583.24L146.17 583.27L147.55 583.30L148.93 583.32L150.30 583.35L151.68 583.38L153.05 583.40L154.43 583.43L155.80 583.45L157.18 583.48L158.56 583.50L159.93 583.53L161.31 583.55L162.68 583.58L164.06 583.60L165.44 583.62L166.81 583.64L168.19 583.67L169.56 583.69L170.94 583.71L172.31 583.73L173.69 583.75L175.06 583.77L176.44 583.79L177.82 583.81L179.19 583.83L180.57 583.85L181.94 583.87L183.32 583.89L184.69 583.91L186.07 583.93L187.44 583.94L188.82 583.96L190.20 583.98L191.57 584.00L192.95 584.01L194.32 584.03L195.70 584.05L197.07 584.06L198.45 584.08L199.82 584.10L201.20 584.11L202.57 584.13L203.95 584.14L205.32 584.16L206.70 584.17L208.07 584.19L209.45 584.20L210.83 584.22L212.20 584.23L213.58 584.25L214.95 584.26L216.33 584.28L217.70 584.29L219.08 584.31L220.45 584.32L221.83 584.33L223.20 584.35L224.58 584.36L225.95 584.38L227.33 584.39L228.71 584.40L230.08 584.42L231.46 584.43L232.83 584.44L234.21 584.46L235.58 584.47L236.96 584.48L238.33 584.50L239.71 584.51L241.08 584.52L242.46 584.54L243.84 584.55L245.21 584.56L246.59 584.58L247.96 584.59L249.34 584.60L250.71 584.62L252.09 584.63L253.46 584.65L254.84 584.66L256.22 584.67L257.59 584.69L258.97 584.70L260.34 584.72L261.72 584.73L263.10 584.74L264.47 584.76L265.85 584.77L267.22 584.79L268.60 584.80L269.98 584.82L271.35 584.83L272.73 584.85L274.10 584.86L275.48 584.88L276.86 584.89L278.23 584.91L279.61 584.93L280.98 584.94L282.36 584.96L283.74 584.97L285.11 584.99L286.49 585.01L287.87 585.03L289.24 585.04L290.62 585.06L292.00 585.08L293.37 585.10L294.75 585.11L296.13 585.13L297.50 585.15L298.88 585.17L300.26 585.19L301.63 585.21L303.01 585.23L304.39 585.25L305.76 585.27L307.14 585.29L308.52 585.31L309.90 585.33L311.27 585.35L312.65 585.37L314.03 585.39L315.40 585.41L316.78 585.43L318.16 585.45L319.54 585.47L320.91 585.49L322.29 585.51L323.67 585.53L325.04 585.55L326.42 585.57L327.80 585.59L329.18 585.61L330.55 585.63L331.93 585.65L333.31 585.67L334.69 585.69L336.06 585.71L337.44 585.73L338.82 585.74L340.20 585.76L341.57 585.78L342.95 585.80L344.33 585.82L345.71 585.84L347.08 585.85L348.46 585.87L349.84 585.89L351.22 585.91L352.59 585.92L353.97 585.94L355.35 585.96L356.73 585.97L358.10 585.99L359.48 586.01L360.86 586.02L362.24 586.04L363.61 586.05L364.99 586.06L366.37 586.08L367.75 586.09L369.12 586.10L370.50 586.12L371.88 586.13L373.26 586.14L374.63 586.15L376.01 586.16L377.39 586.17L378.77 586.18L380.14 586.19L381.52 586.20L382.90 586.21L384.28 586.22L385.65 586.23L387.03 586.23L388.41 586.24L389.79 586.25L391.16 586.25L392.54 586.26L393.92 586.26L395.29 586.26L396.67 586.27L398.05 586.27L399.43 586.27L400.80 586.27L402.18 586.27L403.56 586.27L404.93 586.27L406.31 586.27L407.69 586.27L409.06 586.26L410.44 586.26L411.82 586.25L413.19 586.25L414.57 586.24L415.95 586.24L417.32 586.23L418.70 586.22L420.08 586.21L421.45 586.20L422.83 586.19L424.21 586.18L425.58 586.16L426.96 586.15L428.34 586.14L429.71 586.12L431.09 586.11L432.47 586.09L433.84 586.07L435.22 586.05L436.59 586.03L437.97 586.01L439.35 585.99L440.72 585.97L442.10 585.94L443.47 585.92L444.85 585.89L446.22 585.87L447.60 585.84L448.98 585.81L450.35 585.78L451.73 585.75L453.10 585.72L454.48 585.69L455.85 585.65L457.23 585.62L458.60 585.58L459.98 585.54L461.35 585.51L462.73 585.47L464.10 585.42L465.48 585.38L466.85 585.34L468.23 585.30L469.60 585.25L470.98 585.20L472.35 585.16L473.72 585.11L475.10 585.06L476.47 585.00L477.85 584.95L479.22 584.90L480.59 584.84L481.97 584.79L483.34 584.73L484.72 584.67L486.09 584.61L487.46 584.55L488.84 584.48L490.21 584.42L491.58 584.35L492.96 584.28L494.33 584.21L495.70 584.14L497.08 584.07L498.45 584.00L499.82 583.92L501.19 583.85L502.57 583.77L503.94 583.69L505.31 583.61L506.68 583.53L508.06 583.45L509.43 583.36L510.80 583.27L512.17 583.19L513.54 583.10L514.91 583.00L516.29 582.91L517.66 582.82L519.03 582.72L520.40 582.63L521.77 582.53L523.14 582.43L524.51 582.33L525.88 582.23L527.26 582.12L528.63 582.02L530.00 581.92L531.37 581.81L532.74 581.70L534.11 581.60L535.48 581.49L536.85 581.38L538.22 581.27L539.59 581.17L540.97 581.06L542.34 580.95L543.71 580.84L545.08 580.73L546.45 580.62L547.82 580.51L549.19 580.40L550.56 580.29L551.93 580.18L553.31 580.08L554.68 579.97L556.05 579.86L557.42 579.75L558.79 579.64L560.17 579.54L561.54 579.43L562.91 579.33L564.28 579.22L565.65 579.12L567.03 579.02L568.40 578.92L569.77 578.82L571.15 578.72L572.52 578.62L573.89 578.52L575.27 578.43L576.64 578.33L578.02 578.24L579.39 578.15L580.76 578.06L582.14 577.97L583.51 577.89L584.89 577.80L586.27 577.72L587.64 577.64L589.02 577.56L590.39 577.49L591.77 577.41L593.15 577.34L594.52 577.27L595.90 577.21L597.28 577.14L598.66 577.08L600.04 577.02L601.42 576.96L602.79 576.91L604.17 576.86L605.55 576.81L606.93 576.76L608.31 576.72L609.69 576.68L611.08 576.64L612.46 576.60L613.84 576.56L615.22 576.53L616.60 576.49L617.98 576.45L619.36 576.42L620.74 576.38L622.12 576.35L623.50 576.31L624.88 576.27L626.26 576.23L627.64 576.19L629.02 576.14L630.40 576.09L631.77 576.04L633.15 575.99L634.52 575.93L635.90 575.87L637.27 575.80L638.65 575.73L640.02 575.66L641.39 575.58L642.76 575.49L644.13 575.40L645.50 575.31L646.87 575.21L648.24 575.10L649.60 574.99L650.97 574.88L652.33 574.76L653.70 574.63L655.06 574.50L656.42 574.37L657.78 574.23L659.14 574.08L660.50 573.94L661.86 573.78L663.22 573.62L664.58 573.46L665.94 573.29L667.29 573.12L668.65 572.94L670.01 572.76L671.36 572.57L672.72 572.38L674.07 572.19L675.43 571.99L676.78 571.78L678.13 571.57L679.48 571.36L680.84 571.14L682.19 570.92L683.54 570.69L684.89 570.46L686.24 570.23L687.59 569.99L688.94 569.74L690.29 569.49L691.64 569.24L692.99 568.99L694.34 568.72L695.69 568.46L697.04 568.19L698.39 567.92L699.74 567.64L701.09 567.36L702.44 567.08L703.79 566.79L705.13 566.49L706.48 566.20L707.83 565.90L709.18 565.59L710.53 565.28L711.88 564.97L713.23 564.65L714.58 564.34L715.93 564.01L717.28 563.69L718.62 563.36L719.97 563.03L721.32 562.71L722.68 562.38L724.03 562.05L725.38 561.72L726.73 561.40L728.08 561.07L729.43 560.75L730.79 560.43L732.14 560.12L733.49 559.81L734.85 559.50L736.20 559.20L737.56 558.91L738.92 558.62L740.27 558.34L741.63 558.06L742.99 557.80L744.35 557.54L745.71 557.29L747.07 557.05L748.43 556.82L749.79 556.60L751.16 556.40L752.52 556.20L753.89 556.02L755.26 555.85L756.62 555.69L757.99 555.55L759.36 555.42L760.74 555.30L762.11 555.20L763.48 555.12L764.85 555.05L766.23 555.01L767.60 554.98L768.97 554.97L770.34 554.98L771.71 555.01L773.07 555.06L774.43 555.14L775.79 555.24L777.15 555.36L778.50 555.51L779.85 555.67L781.19 555.86L782.53 556.07L783.87 556.29L785.21 556.54L786.54 556.80L787.88 557.08L789.20 557.38L790.53 557.69L791.86 558.01L793.18 558.35L794.50 558.71L795.82 559.07L797.14 559.45L798.45 559.84L799.77 560.24L801.08 560.65L802.39 561.07L803.70 561.49L805.01 561.92L806.32 562.36L807.63 562.81L808.94 563.26L810.25 563.71L811.55 564.17L812.86 564.63L814.17 565.09L815.47 565.56L816.78 566.02L818.09 566.49L819.40 566.95L820.71 567.41L822.01 567.87L823.32 568.32L824.63 568.78L825.94 569.22L827.26 569.66L828.57 570.10L829.89 570.53L831.20 570.95L832.52 571.36L833.84 571.76L835.16 572.16L836.48 572.54L837.81 572.92L839.14 573.28L840.46 573.64L841.79 573.99L843.12 574.33L844.46 574.67L845.79 574.99L847.12 575.31L848.46 575.62L849.80 575.92L851.14 576.21L852.48 576.50L853.82 576.78L855.16 577.05L856.51 577.31L857.86 577.57L859.20 577.82L860.55 578.06L861.90 578.30L863.25 578.53L864.60 578.75L865.96 578.96L867.31 579.17L868.67 579.38L870.02 579.58L871.38 579.77L872.74 579.95L874.10 580.13L875.46 580.31L876.82 580.48L878.18 580.64L879.54 580.80L880.91 580.95L882.27 581.10L883.64 581.24L885.00 581.38L886.37 581.51L887.74 581.64L889.10 581.77L890.47 581.89L891.84 582.00L893.21 582.12L894.58 582.22L895.95 582.33L897.33 582.43L898.70 582.52L900.07 582.62L901.45 582.71L902.82 582.79L904.19 582.88L905.57 582.95L906.94 583.03L908.32 583.11L909.70 583.18L911.07 583.25L912.45 583.31L913.82 583.38L915.20 583.44L916.58 583.50L917.96 583.55L919.33 583.61L920.71 583.66L922.09 583.72L923.47 583.77L924.85 583.81L926.22 583.86L927.60 583.91L928.98 583.95L930.36 584.00L931.74 584.04L933.12 584.08L934.49 584.13L935.87 584.17L937.25 584.21L938.63 584.25L940.00 584.29L941.38 584.33L942.76 584.37L944.14 584.41L945.51 584.45L946.89 584.49L948.26 584.54L949.64 584.58L951.01 584.62L952.39 584.66L953.76 584.71L955.14 584.76L956.51 584.80" fill="none" stroke="#0818d0" stroke-width="4.70" stroke-linejoin="round" stroke-linecap="round" clip-path="url(#ca)"/><g stroke="#000" stroke-width="3.8" stroke-linecap="butt"><line x1="103.50" y1="634.50" x2="103.50" y2="622.50"/><line x1="316.75" y1="634.50" x2="316.75" y2="622.50"/><line x1="530.00" y1="634.50" x2="530.00" y2="622.50"/><line x1="743.25" y1="634.50" x2="743.25" y2="622.50"/><line x1="956.50" y1="634.50" x2="956.50" y2="622.50"/><line x1="210.12" y1="634.50" x2="210.12" y2="628.00"/><line x1="423.38" y1="634.50" x2="423.38" y2="628.00"/><line x1="636.62" y1="634.50" x2="636.62" y2="628.00"/><line x1="849.88" y1="634.50" x2="849.88" y2="628.00"/><line x1="103.50" y1="611.60" x2="115.50" y2="611.60"/><line x1="103.50" y1="518.60" x2="115.50" y2="518.60"/><line x1="103.50" y1="425.60" x2="115.50" y2="425.60"/><line x1="103.50" y1="332.60" x2="115.50" y2="332.60"/><line x1="103.50" y1="239.60" x2="115.50" y2="239.60"/><line x1="103.50" y1="146.60" x2="115.50" y2="146.60"/><line x1="103.50" y1="53.60" x2="115.50" y2="53.60"/><line x1="103.50" y1="565.10" x2="110.00" y2="565.10"/><line x1="103.50" y1="472.10" x2="110.00" y2="472.10"/><line x1="103.50" y1="379.10" x2="110.00" y2="379.10"/><line x1="103.50" y1="286.10" x2="110.00" y2="286.10"/><line x1="103.50" y1="193.10" x2="110.00" y2="193.10"/><line x1="103.50" y1="100.10" x2="110.00" y2="100.10"/><rect x="103.50" y="7.50" width="853.00" height="627.00" fill="none"/></g><line x1="161.9" y1="62.70" x2="213.2" y2="62.70" stroke="#000000" stroke-width="4.6" stroke-linecap="round"/><line x1="161.9" y1="91.50" x2="213.2" y2="91.50" stroke="#c80000" stroke-width="4.6" stroke-linecap="round"/><line x1="161.9" y1="125.80" x2="213.2" y2="125.80" stroke="#0000c0" stroke-width="4.6" stroke-linecap="round"/><path d="M107.31 1375.08L107.90 1375.11L108.50 1375.14L109.10 1375.17L109.69 1375.20L110.29 1375.23L110.88 1375.25L111.48 1375.28L112.08 1375.31L112.67 1375.34L113.27 1375.36L113.87 1375.39L114.46 1375.42L115.06 1375.45L115.66 1375.47L116.25 1375.50L116.85 1375.52L117.45 1375.55L118.04 1375.58L118.64 1375.60L119.24 1375.63L119.83 1375.65L120.43 1375.68L121.03 1375.70L121.62 1375.72L122.22 1375.75L122.82 1375.77L123.41 1375.80L124.01 1375.82L124.61 1375.84L125.21 1375.87L125.80 1375.89L126.40 1375.91L127.00 1375.94L127.59 1375.96L128.19 1375.98L128.79 1376.00L129.39 1376.03L129.98 1376.05L130.58 1376.07L131.18 1376.09L131.77 1376.11L132.37 1376.14L132.97 1376.16L133.57 1376.18L134.16 1376.20L134.76 1376.22L135.36 1376.24L135.96 1376.26L136.55 1376.28L137.15 1376.30L137.75 1376.33L138.35 1376.35L138.94 1376.37L139.54 1376.39L140.14 1376.41L140.74 1376.43L141.34 1376.45L141.93 1376.47L142.53 1376.49L143.13 1376.51L143.73 1376.53L144.32 1376.54L144.92 1376.56L145.52 1376.58L146.12 1376.60L146.72 1376.62L147.31 1376.64L147.91 1376.66L148.51 1376.68L149.11 1376.70L149.70 1376.72L150.30 1376.74L150.90 1376.76L151.50 1376.77L152.10 1376.79L152.69 1376.81L153.29 1376.83L153.89 1376.85L154.49 1376.87L155.09 1376.89L155.68 1376.91L156.28 1376.92L156.88 1376.94L157.48 1376.96L158.08 1376.98L158.67 1377.00L159.27 1377.02L159.87 1377.04L160.47 1377.05L161.07 1377.07L161.66 1377.09L162.26 1377.11L162.86 1377.13L163.46 1377.15L164.06 1377.17L164.65 1377.18L165.25 1377.20L165.85 1377.22L166.45 1377.24L167.05 1377.26L167.64 1377.28L168.24 1377.30L168.84 1377.32L169.44 1377.33L170.04 1377.35L170.64 1377.37L171.23 1377.39L171.83 1377.41L172.43 1377.43L173.03 1377.45L173.63 1377.47L174.22 1377.49L174.82 1377.51L175.42 1377.53L176.02 1377.55L176.62 1377.57L177.21 1377.58L177.81 1377.60L178.41 1377.62L179.01 1377.64L179.61 1377.66L180.20 1377.68L180.80 1377.70L181.40 1377.73L182.00 1377.75L182.60 1377.77L183.19 1377.79L183.79 1377.81L184.39 1377.83L184.99 1377.85L185.59 1377.87L186.18 1377.89L186.78 1377.91L187.38 1377.93L187.98 1377.96L188.58 1377.98L189.17 1378.00L189.77 1378.02L190.37 1378.04L190.97 1378.07L191.57 1378.09L192.16 1378.11L192.76 1378.13L193.36 1378.16L193.96 1378.18L194.55 1378.20L195.15 1378.23L195.75 1378.25L196.35 1378.27L196.95 1378.30L197.54 1378.32L198.14 1378.35L198.74 1378.37L199.34 1378.40L199.93 1378.42L200.53 1378.45L201.13 1378.47L201.73 1378.50L202.32 1378.52L202.92 1378.55L203.52 1378.57L204.12 1378.60L204.71 1378.63L205.31 1378.65L205.91 1378.68L206.51 1378.71L207.10 1378.73L207.70 1378.76L208.30 1378.79L208.90 1378.82L209.49 1378.84L210.09 1378.87L210.69 1378.90L211.29 1378.93L211.88 1378.96L212.48 1378.99L213.08 1379.02L213.67 1379.05L214.27 1379.08L214.87 1379.11L215.47 1379.14L216.06 1379.17L216.66 1379.20L217.26 1379.23L217.85 1379.27L218.45 1379.30L219.05 1379.33L219.64 1379.36L220.24 1379.39L220.84 1379.43L221.43 1379.46L222.03 1379.50L222.63 1379.53L223.22 1379.56L223.82 1379.60L224.42 1379.63L225.01 1379.67L225.61 1379.70L226.21 1379.74L226.80 1379.78L227.40 1379.81L228.00 1379.85L228.59 1379.89L229.19 1379.92L229.79 1379.96L230.38 1380.00L230.98 1380.04L231.57 1380.08L232.17 1380.12L232.77 1380.15L233.36 1380.19L233.96 1380.23L234.56 1380.28L235.15 1380.32L235.75 1380.36L236.34 1380.40L236.94 1380.44L237.53 1380.48L238.13 1380.53L238.73 1380.57L239.32 1380.61L239.92 1380.66L240.51 1380.70L241.11 1380.74L241.70 1380.79L242.30 1380.83L242.89 1380.88L243.49 1380.93L244.09 1380.97L244.68 1381.02L245.28 1381.07L245.87 1381.11L246.47 1381.16L247.06 1381.21L247.66 1381.26L248.25 1381.30L248.85 1381.35L249.44 1381.40L250.04 1381.45L250.63 1381.50L251.23 1381.55L251.82 1381.60L252.42 1381.65L253.01 1381.70L253.61 1381.74L254.20 1381.79L254.80 1381.84L255.39 1381.89L255.99 1381.95L256.58 1382.00L257.18 1382.05L257.77 1382.10L258.37 1382.15L258.96 1382.20L259.56 1382.25L260.15 1382.30L260.75 1382.35L261.34 1382.40L261.94 1382.45L262.53 1382.50L263.13 1382.55L263.72 1382.60L264.32 1382.65L264.91 1382.70L265.50 1382.75L266.10 1382.80L266.69 1382.85L267.29 1382.90L267.88 1382.95L268.48 1383.00L269.07 1383.05L269.67 1383.10L270.26 1383.15L270.86 1383.20L271.45 1383.25L272.05 1383.30L272.64 1383.35L273.24 1383.40L273.83 1383.44L274.43 1383.49L275.02 1383.54L275.62 1383.59L276.21 1383.63L276.81 1383.68L277.40 1383.73L278.00 1383.77L278.59 1383.82L279.19 1383.87L279.78 1383.91L280.38 1383.96L280.98 1384.00L281.57 1384.05L282.17 1384.09L282.76 1384.13L283.36 1384.18L283.95 1384.22L284.55 1384.26L285.14 1384.30L285.74 1384.35L286.33 1384.39L286.93 1384.43L287.53 1384.47L288.12 1384.51L288.72 1384.55L289.31 1384.59L289.91 1384.62L290.51 1384.66L291.10 1384.70L291.70 1384.73L292.29 1384.77L292.89 1384.81L293.49 1384.84L294.08 1384.88L294.68 1384.91L295.28 1384.94L295.87 1384.97L296.47 1385.01L297.07 1385.04L297.66 1385.07L298.26 1385.10L298.86 1385.13L299.45 1385.16L300.05 1385.18L300.65 1385.21L301.24 1385.24L301.84 1385.26L302.44 1385.29L303.03 1385.31L303.63 1385.34L304.23 1385.36L304.83 1385.38L305.42 1385.40L306.02 1385.42L306.62 1385.44L307.22 1385.46L307.82 1385.48L308.41 1385.50L309.01 1385.51L309.61 1385.53L310.21 1385.54L310.81 1385.56L311.40 1385.57L312.00 1385.58L312.60 1385.59L313.20 1385.61L313.80 1385.61L314.40 1385.62L315.00 1385.63L315.59 1385.64L316.19 1385.65L316.79 1385.65L317.39 1385.66L317.99 1385.66L318.59 1385.66L319.19 1385.67L319.79 1385.67L320.38 1385.67L320.98 1385.67L321.58 1385.67L322.18 1385.67L322.78 1385.66L323.38 1385.66L323.98 1385.66L324.58 1385.65L325.18 1385.65L325.77 1385.64L326.37 1385.63L326.97 1385.62L327.57 1385.61L328.17 1385.60L328.77 1385.59L329.37 1385.58L329.97 1385.57L330.57 1385.55L331.17 1385.54L331.76 1385.52L332.36 1385.51L332.96 1385.49L333.56 1385.47L334.16 1385.45L334.76 1385.43L335.36 1385.41L335.96 1385.39L336.55 1385.37L337.15 1385.35L337.75 1385.32L338.35 1385.30L338.95 1385.27L339.55 1385.24L340.15 1385.21L340.74 1385.19L341.34 1385.16L341.94 1385.13L342.54 1385.09L343.14 1385.06L343.74 1385.03L344.33 1384.99L344.93 1384.96L345.53 1384.92L346.13 1384.89L346.72 1384.85L347.32 1384.81L347.92 1384.77L348.52 1384.73L349.11 1384.69L349.71 1384.64L350.31 1384.60L350.91 1384.56L351.50 1384.51L352.10 1384.46L352.70 1384.42L353.29 1384.37L353.89 1384.32L354.49 1384.27L355.08 1384.22L355.68 1384.17L356.28 1384.11L356.87 1384.06L357.47 1384.00L358.07 1383.95L358.66 1383.89L359.26 1383.83L359.85 1383.78L360.45 1383.72L361.04 1383.65L361.64 1383.59L362.23 1383.53L362.83 1383.47L363.42 1383.40L364.02 1383.34L364.61 1383.27L365.21 1383.20L365.80 1383.13L366.40 1383.06L366.99 1382.99L367.59 1382.92L368.18 1382.85L368.77 1382.78L369.37 1382.70L369.96 1382.63L370.55 1382.55L371.15 1382.47L371.74 1382.39L372.33 1382.31L372.92 1382.23L373.52 1382.15L374.11 1382.07L374.70 1381.99L375.29 1381.90L375.88 1381.82L376.48 1381.73L377.07 1381.64L377.66 1381.55L378.25 1381.46L378.84 1381.37L379.43 1381.28L380.02 1381.19L380.61 1381.09L381.20 1381.00L381.79 1380.90L382.38 1380.81L382.97 1380.71L383.56 1380.61L384.15 1380.51L384.74 1380.41L385.32 1380.30L385.91 1380.20L386.50 1380.10L387.09 1379.99L387.68 1379.89L388.26 1379.78L388.85 1379.67L389.44 1379.56L390.02 1379.45L390.61 1379.34L391.20 1379.22L391.78 1379.11L392.37 1379.00L392.95 1378.88L393.54 1378.76L394.13 1378.64L394.71 1378.52L395.29 1378.40L395.88 1378.28L396.46 1378.16L397.05 1378.04L397.63 1377.91L398.21 1377.79L398.80 1377.66L399.38 1377.53L399.96 1377.40L400.54 1377.27L401.13 1377.14L401.71 1377.01L402.29 1376.87L402.87 1376.74L403.45 1376.60L404.03 1376.47L404.61 1376.33L405.19 1376.19L405.77 1376.05L406.35 1375.91L406.93 1375.77L407.51 1375.62L408.09 1375.48L408.67 1375.33L409.25 1375.19L409.82 1375.04L410.40 1374.89L410.98 1374.74L411.56 1374.59L412.13 1374.44L412.71 1374.29L413.29 1374.13L413.86 1373.98L414.44 1373.83L415.02 1373.67L415.59 1373.51L416.17 1373.36L416.74 1373.20L417.32 1373.04L417.89 1372.88L418.47 1372.72L419.04 1372.56L419.62 1372.40L420.19 1372.23L420.77 1372.07L421.34 1371.91L421.91 1371.74L422.49 1371.58L423.06 1371.41L423.63 1371.25L424.21 1371.08L424.78 1370.91L425.35 1370.74L425.93 1370.58L426.50 1370.41L427.07 1370.24L427.65 1370.07L428.22 1369.90L428.79 1369.73L429.36 1369.55L429.94 1369.38L430.51 1369.21L431.08 1369.04L431.65 1368.86L432.22 1368.69L432.80 1368.52L433.37 1368.34L433.94 1368.17L434.51 1368.00L435.08 1367.82L435.66 1367.65L436.23 1367.47L436.80 1367.29L437.37 1367.12L437.94 1366.94L438.52 1366.77L439.09 1366.59L439.66 1366.41L440.23 1366.24L440.80 1366.06L441.37 1365.88L441.95 1365.71L442.52 1365.53L443.09 1365.35L443.66 1365.18L444.23 1365.00L444.81 1364.82L445.38 1364.65L445.95 1364.47L446.52 1364.29L447.09 1364.12L447.67 1363.94L448.24 1363.76L448.81 1363.59L449.38 1363.41L449.96 1363.23L450.53 1363.06L451.10 1362.88L451.68 1362.71L452.25 1362.53L452.82 1362.36L453.39 1362.18L453.97 1362.01L454.54 1361.83L455.11 1361.66L455.69 1361.48L456.26 1361.31L456.84 1361.14L457.41 1360.96L457.98 1360.79L458.56 1360.61L459.13 1360.44L459.70 1360.27L460.28 1360.09L460.85 1359.92L461.42 1359.74L462.00 1359.57L462.57 1359.39L463.14 1359.22L463.72 1359.04L464.29 1358.86L464.86 1358.69L465.44 1358.51L466.01 1358.33L466.58 1358.15L467.15 1357.97L467.72 1357.79L468.29 1357.61L468.87 1357.43L469.44 1357.25L470.01 1357.07L470.58 1356.89L471.15 1356.70L471.72 1356.52L472.28 1356.33L472.85 1356.15L473.42 1355.96L473.99 1355.77L474.56 1355.58L475.12 1355.39L475.69 1355.20L476.26 1355.00L476.82 1354.81L477.39 1354.61L477.95 1354.42L478.51 1354.22L479.08 1354.02L479.64 1353.82L480.20 1353.62L480.76 1353.41L481.32 1353.21L481.89 1353.00L482.44 1352.79L483.00 1352.59L483.56 1352.37L484.12 1352.16L484.68 1351.95L485.23 1351.73L485.79 1351.51L486.34 1351.29L486.90 1351.07L487.45 1350.85L488.00 1350.62L488.55 1350.40L489.10 1350.17L489.65 1349.93L490.20 1349.70L490.75 1349.47L491.30 1349.23L491.85 1348.99L492.39 1348.75L492.94 1348.50L493.48 1348.26L494.02 1348.01L494.56 1347.76L495.11 1347.51L495.65 1347.26L496.18 1347.00L496.72 1346.74L497.26 1346.48L497.80 1346.22L498.33 1345.96L498.87 1345.69L499.40 1345.43L499.93 1345.16L500.47 1344.89L501.00 1344.61L501.53 1344.34L502.05 1344.06L502.58 1343.78L503.11 1343.50L503.64 1343.22L504.16 1342.94L504.68 1342.65L505.21 1342.36L505.73 1342.07L506.25 1341.78L506.77 1341.48L507.29 1341.19L507.81 1340.89L508.32 1340.59L508.84 1340.29L509.35 1339.99L509.87 1339.68L510.38 1339.38L510.89 1339.07L511.40 1338.76L511.91 1338.44L512.42 1338.13L512.93 1337.81L513.43 1337.50L513.94 1337.18L514.44 1336.86L514.94 1336.53L515.45 1336.21L515.95 1335.88L516.45 1335.55L516.94 1335.22L517.44 1334.89L517.94 1334.56L518.43 1334.22L518.93 1333.89L519.42 1333.55L519.91 1333.21L520.40 1332.87L520.89 1332.52L521.38 1332.18L521.87 1331.83L522.35 1331.48L522.84 1331.13L523.32 1330.78L523.80 1330.42L524.28 1330.07L524.76 1329.71L525.24 1329.35L525.72 1328.99L526.19 1328.63L526.67 1328.27L527.14 1327.90L527.62 1327.53L528.09 1327.17L528.56 1326.80L529.03 1326.42L529.49 1326.05L529.96 1325.68L530.42 1325.30L530.89 1324.92L531.35 1324.54L531.81 1324.16L532.27 1323.78L532.73 1323.39L533.19 1323.01L533.64 1322.62L534.10 1322.23L534.55 1321.84L535.00 1321.45L535.45 1321.06L535.90 1320.66L536.35 1320.26L536.80 1319.87L537.24 1319.47L537.69 1319.07L538.13 1318.66L538.57 1318.26L539.01 1317.86L539.45 1317.45L539.89 1317.04L540.32 1316.63L540.76 1316.22L541.19 1315.81L541.62 1315.39L542.05 1314.98L542.48 1314.56L542.91 1314.14L543.34 1313.72L543.76 1313.30L544.18 1312.88L544.61 1312.46L545.03 1312.03L545.45 1311.60L545.86 1311.18L546.28 1310.75L546.69 1310.32L547.11 1309.88L547.52 1309.45L547.93 1309.02L548.34 1308.58L548.75 1308.14L549.15 1307.70L549.56 1307.26L549.96 1306.82L550.36 1306.38L550.76 1305.94L551.16 1305.49L551.56 1305.04L551.95 1304.60L552.35 1304.15L552.74 1303.70L553.13 1303.24L553.52 1302.79L553.91 1302.34L554.29 1301.88L554.68 1301.43L555.06 1300.97L555.45 1300.51L555.83 1300.05L556.21 1299.59L556.59 1299.13L556.97 1298.67L557.34 1298.20L557.72 1297.74L558.09 1297.27L558.47 1296.81L558.84 1296.34L559.21 1295.87L559.58 1295.40L559.95 1294.93L560.31 1294.46L560.68 1293.98L561.05 1293.51L561.41 1293.04L561.77 1292.56L562.14 1292.09L562.50 1291.61L562.86 1291.13L563.22 1290.65L563.58 1290.17L563.93 1289.69L564.29 1289.21L564.65 1288.73L565.00 1288.25L565.35 1287.77L565.71 1287.28L566.06 1286.80L566.41 1286.32L566.76 1285.83L567.11 1285.35L567.46 1284.86L567.81 1284.37L568.16 1283.88L568.50 1283.40L568.85 1282.91L569.20 1282.42L569.54 1281.93L569.89 1281.44L570.23 1280.95L570.57 1280.46L570.92 1279.96L571.26 1279.47L571.60 1278.98L571.94 1278.49L572.28 1277.99L572.62 1277.50L572.96 1277.01L573.30 1276.51L573.64 1276.02L573.98 1275.52L574.32 1275.03L574.65 1274.53L574.99 1274.04L575.33 1273.54L575.66 1273.05L576.00 1272.55L576.34 1272.05L576.67 1271.56L577.01 1271.06L577.34 1270.56L577.68 1270.07L578.01 1269.57L578.35 1269.07L578.68 1268.57L579.02 1268.08L579.35 1267.58L579.68 1267.08L580.02 1266.59L580.35 1266.09L580.68 1265.59L581.02 1265.09L581.35 1264.60L581.68 1264.10L582.02 1263.60L582.35 1263.10L582.69 1262.61L583.02 1262.11L583.35 1261.61L583.69 1261.12L584.02 1260.62L584.35 1260.13L584.69 1259.63L585.02 1259.13L585.36 1258.64L585.69 1258.14L586.03 1257.65L586.36 1257.15L586.70 1256.66L587.03 1256.17L587.37 1255.67L587.70 1255.18L588.04 1254.69L588.38 1254.19L588.72 1253.70L589.05 1253.21L589.39 1252.72L589.73 1252.23L590.07 1251.74L590.41 1251.25L590.75 1250.76L591.09 1250.27L591.43 1249.78L591.77 1249.30L592.11 1248.81L592.45 1248.32L592.79 1247.84L593.14 1247.35L593.48 1246.87L593.82 1246.38L594.17 1245.90L594.52 1245.41L594.86 1244.93L595.21 1244.45L595.56 1243.97L595.91 1243.49L596.26 1243.01L596.61 1242.53L596.96 1242.05L597.31 1241.57L597.66 1241.10L598.01 1240.62L598.37 1240.14L598.72 1239.67L599.08 1239.19L599.44 1238.72L599.80 1238.25L600.16 1237.77L600.52 1237.30L600.88 1236.83L601.24 1236.36L601.60 1235.89L601.97 1235.42L602.34 1234.96L602.70 1234.49L603.07 1234.02L603.44 1233.56L603.81 1233.09L604.18 1232.63L604.56 1232.16L604.93 1231.70L605.31 1231.24L605.68 1230.78L606.06 1230.32L606.44 1229.86L606.83 1229.40L607.21 1228.94L607.59 1228.49L607.98 1228.03L608.37 1227.58L608.75 1227.12L609.15 1226.67L609.54 1226.22L609.93 1225.76L610.33 1225.31L610.72 1224.86L611.12 1224.41L611.52 1223.97L611.92 1223.52L612.33 1223.07L612.73 1222.63L613.14 1222.18L613.55 1221.74L613.96 1221.30L614.37 1220.86L614.79 1220.42L615.20 1219.99L615.62 1219.55L616.04 1219.12L616.47 1218.69L616.89 1218.26L617.32 1217.84L617.75 1217.41L618.18 1216.99L618.61 1216.57L619.05 1216.16L619.48 1215.75L619.92 1215.34L620.37 1214.93L620.81 1214.53L621.26 1214.13L621.71 1213.73L622.16 1213.34L622.61 1212.95L623.07 1212.57L623.53 1212.19L623.99 1211.81L624.46 1211.44L624.92 1211.07L625.39 1210.71L625.87 1210.35L626.34 1209.99L626.82 1209.64L627.30 1209.30L627.78 1208.96L628.27 1208.63L628.76 1208.30L629.25 1207.97L629.75 1207.65L630.25 1207.34L630.75 1207.04L631.25 1206.73L631.76 1206.44L632.27 1206.15L632.78 1205.86L633.30 1205.58L633.81 1205.30L634.33 1205.02L634.86 1204.75L635.38 1204.49L635.91 1204.23L636.44 1203.97L636.97 1203.71L637.50 1203.46L638.03 1203.21L638.57 1202.96L639.11 1202.71L639.65 1202.47L640.19 1202.23L640.74 1201.99L641.28 1201.75L641.83 1201.51L642.37 1201.28L642.92 1201.04L643.47 1200.81L644.02 1200.58L644.58 1200.34L645.13 1200.11L645.68 1199.88L646.24 1199.64L646.80 1199.41L647.35 1199.18L647.91 1198.94L648.47 1198.70L649.03 1198.47L649.58 1198.23L650.14 1197.99L650.70 1197.75L651.26 1197.50L651.82 1197.26L652.38 1197.01L652.93 1196.76L653.49 1196.51L654.05 1196.26L654.60 1196.01L655.16 1195.75L655.71 1195.49L656.27 1195.23L656.82 1194.97L657.37 1194.71L657.91 1194.44L658.46 1194.17L659.01 1193.89L659.55 1193.62L660.09 1193.34L660.63 1193.06L661.17 1192.77L661.70 1192.48L662.23 1192.19L662.76 1191.90L663.29 1191.60L663.81 1191.30L664.33 1190.99L664.85 1190.68L665.36 1190.37L665.87 1190.05L666.38 1189.73L666.89 1189.41L667.39 1189.08L667.88 1188.75L668.37 1188.41L668.86 1188.07L669.35 1187.72L669.82 1187.37L670.30 1187.02L670.77 1186.66L671.24 1186.30L671.70 1185.93L672.15 1185.55L672.60 1185.18L673.05 1184.79L673.49 1184.40L673.92 1184.01L674.36 1183.61L674.78 1183.21L675.20 1182.80L675.62 1182.39L676.03 1181.97L676.44 1181.55L676.84 1181.13L677.24 1180.70L677.64 1180.27L678.03 1179.83L678.41 1179.39L678.80 1178.94L679.17 1178.49L679.55 1178.04L679.92 1177.58L680.28 1177.13L680.65 1176.66L681.01 1176.19L681.36 1175.72L681.71 1175.25L682.06 1174.77L682.40 1174.30L682.75 1173.81L683.08 1173.33L683.42 1172.84L683.75 1172.35L684.08 1171.85L684.40 1171.35L684.72 1170.86L685.04 1170.35L685.36 1169.85L685.67 1169.34L685.98 1168.83L686.29 1168.32L686.59 1167.81L686.90 1167.29L687.20 1166.77L687.50 1166.25L687.79 1165.73L688.08 1165.21L688.37 1164.68L688.66 1164.16L688.95 1163.63L689.23 1163.10L689.51 1162.57L689.79 1162.03L690.07 1161.50L690.35 1160.96L690.62 1160.43L690.90 1159.89L691.17 1159.35L691.44 1158.81L691.71 1158.27L691.98 1157.73L692.24 1157.19L692.51 1156.65L692.77 1156.10L693.03 1155.56L693.29 1155.02L693.55 1154.47L693.81 1153.93L694.07 1153.39L694.33 1152.84L694.58 1152.30L694.84 1151.75L695.09 1151.20L695.34 1150.66L695.59 1150.11L695.84 1149.56L696.09 1149.02L696.34 1148.47L696.59 1147.92L696.84 1147.37L697.08 1146.82L697.33 1146.28L697.57 1145.73L697.81 1145.18L698.05 1144.63L698.29 1144.08L698.53 1143.53L698.77 1142.98L699.01 1142.42L699.25 1141.87L699.48 1141.32L699.72 1140.77L699.95 1140.22L700.18 1139.66L700.41 1139.11L700.65 1138.56L700.88 1138.00L701.11 1137.45L701.33 1136.90L701.56 1136.34L701.79 1135.79L702.01 1135.23L702.24 1134.68L702.46 1134.12L702.68 1133.57L702.91 1133.01L703.13 1132.45L703.35 1131.90L703.57 1131.34L703.79 1130.78L704.00 1130.22L704.22 1129.67L704.44 1129.11L704.65 1128.55L704.87 1127.99L705.08 1127.43L705.29 1126.87L705.51 1126.31L705.72 1125.75L705.93 1125.19L706.14 1124.63L706.35 1124.07L706.55 1123.51L706.76 1122.95L706.97 1122.39L707.17 1121.83L707.38 1121.27L707.58 1120.71L707.79 1120.14L707.99 1119.58L708.19 1119.02L708.39 1118.46L708.59 1117.89L708.79 1117.33L708.99 1116.77L709.19 1116.20L709.39 1115.64L709.59 1115.07L709.78 1114.51L709.98 1113.94L710.17 1113.38L710.37 1112.81L710.56 1112.25L710.75 1111.68L710.95 1111.12L711.14 1110.55L711.33 1109.99L711.52 1109.42L711.71 1108.85L711.90 1108.29L712.08 1107.72L712.27 1107.15L712.46 1106.58L712.65 1106.02L712.83 1105.45L713.02 1104.88L713.20 1104.31L713.38 1103.74L713.57 1103.18L713.75 1102.61L713.93 1102.04L714.11 1101.47L714.30 1100.90L714.48 1100.33L714.66 1099.76L714.84 1099.19L715.01 1098.62L715.19 1098.05L715.37 1097.48L715.55 1096.91L715.72 1096.34L715.90 1095.77L716.08 1095.20L716.25 1094.62L716.42 1094.05L716.60 1093.48L716.77 1092.91L716.95 1092.34L717.12 1091.77L717.29 1091.19L717.46 1090.62L717.63 1090.05L717.80 1089.48L717.97 1088.90L718.14 1088.33L718.31 1087.76L718.48 1087.19L718.65 1086.61L718.82 1086.04L718.98 1085.46L719.15 1084.89L719.32 1084.32L719.48 1083.74L719.65 1083.17L719.81 1082.60L719.98 1082.02L720.14 1081.45L720.31 1080.87L720.47 1080.30L720.63 1079.72L720.80 1079.15L720.96 1078.57L721.12 1078.00L721.28 1077.42L721.45 1076.85L721.61 1076.27L721.77 1075.70L721.93 1075.12L722.09 1074.54L722.25 1073.97L722.41 1073.39L722.57 1072.82L722.72 1072.24L722.88 1071.66L723.04 1071.09L723.20 1070.51L723.36 1069.94L723.51 1069.36L723.67 1068.78L723.83 1068.21L723.98 1067.63L724.14 1067.05L724.30 1066.47L724.45 1065.90L724.61 1065.32L724.76 1064.74L724.92 1064.17L725.07 1063.59L725.23 1063.01L725.38 1062.43L725.53 1061.86L725.69 1061.28L725.84 1060.70L725.99 1060.12L726.15 1059.55L726.30 1058.97L726.45 1058.39L726.60 1057.81L726.76 1057.23L726.91 1056.66L727.06 1056.08L727.21 1055.50L727.36 1054.92L727.52 1054.34L727.67 1053.77L727.82 1053.19L727.97 1052.61L728.12 1052.03L728.27 1051.45L728.42 1050.87L728.57 1050.30L728.72 1049.72L728.87 1049.14L729.02 1048.56L729.17 1047.98L729.32 1047.40L729.47 1046.82L729.62 1046.25L729.76 1045.67L729.91 1045.09L730.06 1044.51L730.21 1043.93L730.36 1043.35L730.51 1042.77L730.65 1042.19L730.80 1041.61L730.95 1041.03L731.10 1040.46L731.24 1039.88L731.39 1039.30L731.54 1038.72L731.69 1038.14L731.83 1037.56L731.98 1036.98L732.13 1036.40L732.27 1035.82L732.42 1035.24L732.57 1034.66L732.71 1034.08L732.86 1033.50L733.00 1032.92L733.15 1032.34L733.30 1031.76L733.44 1031.18L733.59 1030.60L733.73 1030.02L733.88 1029.45L734.02 1028.87L734.17 1028.29L734.31 1027.71L734.46 1027.13L734.60 1026.55L734.75 1025.97L734.89 1025.39L735.04 1024.81L735.18 1024.23L735.32 1023.65L735.47 1023.07L735.61 1022.49L735.76 1021.91L735.90 1021.33L736.05 1020.75L736.19 1020.17L736.33 1019.59L736.48 1019.01L736.62 1018.43L736.76 1017.85L736.91 1017.26L737.05 1016.68L737.20 1016.10L737.34 1015.52L737.48 1014.94L737.63 1014.36L737.77 1013.78L737.91 1013.20L738.06 1012.62L738.20 1012.04L738.34 1011.46L738.48 1010.88L738.63 1010.30L738.77 1009.72L738.91 1009.14L739.06 1008.56L739.20 1007.98L739.34 1007.40L739.48 1006.82L739.63 1006.24L739.77 1005.66L739.91 1005.08L740.06 1004.50L740.20 1003.92L740.34 1003.34L740.48 1002.76L740.63 1002.17L740.77 1001.59L740.91 1001.01L741.05 1000.43L741.20 999.85L741.34 999.27L741.48 998.69L741.63 998.11L741.77 997.53L741.91 996.95L742.05 996.37L742.20 995.79L742.34 995.21L742.48 994.63L742.62 994.05L742.77 993.47L742.91 992.89L743.05 992.31L743.20 991.72L743.34 991.14L743.48 990.56L743.62 989.98L743.77 989.40L743.91 988.82L744.05 988.24L744.20 987.66L744.34 987.08L744.48 986.50L744.62 985.92L744.77 985.34L744.91 984.76L745.05 984.18L745.20 983.60L745.34 983.02L745.48 982.44L745.63 981.86L745.77 981.28L745.91 980.69L746.06 980.11L746.20 979.53L746.35 978.95L746.49 978.37L746.63 977.79L746.78 977.21L746.92 976.63L747.07 976.05L747.21 975.47L747.35 974.89L747.50 974.31L747.64 973.73L747.79 973.15L747.93 972.57L748.08 971.99L748.22 971.41L748.37 970.83L748.51 970.25L748.66 969.67L748.80 969.09L748.95 968.51L749.09 967.93L749.24 967.35L749.38 966.77L749.53 966.19L749.67 965.61L749.82 965.03L749.96 964.45L750.11 963.87L750.26 963.29L750.40 962.71L750.55 962.13L750.70 961.55L750.84 960.97L750.99 960.39L751.14 959.81L751.28 959.23L751.43 958.65L751.58 958.07L751.73 957.49L751.87 956.91L752.02 956.33L752.17 955.75L752.32 955.17L752.46 954.59L752.61 954.01L752.76 953.43L752.91 952.86L753.06 952.28L753.21 951.70L753.36 951.12L753.51 950.54L753.65 949.96L753.80 949.38L753.95 948.80L754.10 948.22L754.25 947.64L754.40 947.06L754.55 946.48L754.70 945.91L754.85 945.33L755.01 944.75L755.16 944.17L755.31 943.59L755.46 943.01L755.61 942.43L755.76 941.85L755.91 941.28L756.07 940.70L756.22 940.12L756.37 939.54L756.52 938.96L756.68 938.38L756.83 937.80L756.98 937.23L757.14 936.65L757.29 936.07L757.44 935.49L757.60 934.91L757.75 934.33L757.91 933.76L758.06 933.18L758.22 932.60L758.37 932.02L758.53 931.45L758.68 930.87L758.84 930.29L758.99 929.71L759.15 929.13L759.31 928.56L759.46 927.98L759.62 927.40L759.78 926.82L759.93 926.25L760.09 925.67L760.25 925.09L760.41 924.51L760.57 923.94L760.72 923.36L760.88 922.78L761.04 922.21L761.20 921.63L761.36 921.05L761.52 920.48L761.68 919.90L761.84 919.32L762.00 918.75L762.16 918.17L762.32 917.59L762.48 917.02L762.65 916.44L762.81 915.86L762.97 915.29L763.13 914.71L763.30 914.13L763.46 913.56L763.62 912.98L763.79 912.41L763.95 911.83L764.12 911.26L764.28 910.68L764.45 910.11L764.62 909.53L764.79 908.96L764.96 908.39L765.13 907.81L765.30 907.24L765.47 906.67L765.64 906.10L765.82 905.53L765.99 904.95L766.17 904.38L766.34 903.81L766.52 903.24L766.70 902.68L766.88 902.11L767.06 901.54L767.25 900.97L767.43 900.41L767.62 899.84L767.80 899.28L767.99 898.71L768.18 898.15L768.37 897.59L768.57 897.02L768.76 896.46L768.96 895.90L769.15 895.34L769.35 894.79L769.56 894.23L769.76 893.67L769.96 893.11L770.17 892.56L770.38 892.01L770.59 891.45L770.80 890.90L771.02 890.35L771.23 889.80L771.45 889.25L771.67 888.70L771.90 888.16L772.12 887.61L772.35 887.07L772.58 886.52L772.81 885.98L773.05 885.44L773.28 884.90L773.52 884.36L773.76 883.83L774.01 883.29L774.26 882.76L774.50 882.22L774.76 881.69L775.01 881.15L775.26 880.62L775.52 880.08L775.78 879.55L776.04 879.01L776.30 878.47L776.57 877.93L776.83 877.39L777.10 876.84L777.37 876.29L777.64 875.74L777.91 875.19L778.18 874.63L778.46 874.07L778.73 873.50L779.01 872.93L779.29 872.37L779.58 871.80L779.87 871.23L780.17 870.67L780.48 870.12L780.79 869.56L781.12 869.02L781.46 868.49L781.80 867.97L782.16 867.45L782.54 866.95L782.93 866.47L783.34 866.00L783.76 865.55L784.19 865.12L784.65 864.71L785.11 864.33L785.58 863.97L786.07 863.64L786.56 863.35L787.07 863.09L787.58 862.87L788.09 862.69L788.61 862.55L789.13 862.45L789.65 862.41L790.18 862.41L790.70 862.46L791.22 862.56L791.74 862.71L792.25 862.89L792.77 863.12L793.27 863.38L793.77 863.67L794.27 863.99L794.76 864.34L795.24 864.71L795.71 865.10L796.17 865.51L796.62 865.94L797.06 866.38L797.48 866.82L797.90 867.28L798.30 867.74L798.69 868.21L799.07 868.68L799.43 869.16L799.79 869.65L800.13 870.14L800.47 870.64L800.80 871.15L801.11 871.66L801.42 872.18L801.72 872.70L802.01 873.22L802.29 873.75L802.57 874.29L802.84 874.83L803.10 875.37L803.35 875.92L803.60 876.46L803.84 877.02L804.08 877.57L804.31 878.13L804.54 878.69L804.76 879.25L804.98 879.82L805.20 880.38L805.41 880.95L805.62 881.52L805.83 882.09L806.04 882.66L806.24 883.23L806.44 883.80L806.64 884.37L806.84 884.94L807.04 885.51L807.24 886.09L807.44 886.66L807.64 887.23L807.83 887.80L808.03 888.37L808.22 888.94L808.42 889.51L808.61 890.08L808.80 890.65L809.00 891.22L809.19 891.79L809.38 892.36L809.57 892.93L809.76 893.50L809.95 894.07L810.13 894.64L810.32 895.21L810.51 895.78L810.69 896.35L810.88 896.92L811.06 897.49L811.24 898.06L811.42 898.63L811.61 899.20L811.79 899.77L811.96 900.34L812.14 900.91L812.32 901.48L812.50 902.05L812.67 902.62L812.85 903.19L813.02 903.76L813.19 904.33L813.37 904.90L813.54 905.47L813.71 906.04L813.87 906.62L814.04 907.19L814.21 907.76L814.38 908.33L814.54 908.90L814.70 909.48L814.87 910.05L815.03 910.62L815.19 911.20L815.35 911.77L815.51 912.35L815.67 912.92L815.82 913.50L815.98 914.07L816.13 914.65L816.29 915.22L816.44 915.80L816.59 916.37L816.74 916.95L816.89 917.53L817.04 918.11L817.19 918.68L817.33 919.26L817.48 919.84L817.62 920.42L817.77 920.99L817.91 921.57L818.05 922.15L818.20 922.73L818.34 923.31L818.48 923.89L818.61 924.47L818.75 925.05L818.89 925.63L819.03 926.21L819.16 926.79L819.30 927.37L819.43 927.96L819.56 928.54L819.69 929.12L819.83 929.70L819.96 930.28L820.09 930.87L820.22 931.45L820.34 932.03L820.47 932.61L820.60 933.20L820.72 933.78L820.85 934.36L820.98 934.95L821.10 935.53L821.22 936.12L821.35 936.70L821.47 937.28L821.59 937.87L821.71 938.45L821.83 939.04L821.95 939.62L822.07 940.21L822.19 940.80L822.31 941.38L822.42 941.97L822.54 942.55L822.66 943.14L822.77 943.73L822.89 944.31L823.00 944.90L823.12 945.48L823.23 946.07L823.34 946.66L823.45 947.25L823.57 947.83L823.68 948.42L823.79 949.01L823.90 949.60L824.01 950.18L824.12 950.77L824.23 951.36L824.34 951.95L824.45 952.53L824.55 953.12L824.66 953.71L824.77 954.30L824.88 954.89L824.98 955.48L825.09 956.07L825.20 956.65L825.30 957.24L825.41 957.83L825.51 958.42L825.62 959.01L825.72 959.60L825.82 960.19L825.93 960.78L826.03 961.37L826.13 961.96L826.24 962.55L826.34 963.14L826.44 963.73L826.54 964.31L826.65 964.90L826.75 965.49L826.85 966.08L826.95 966.67L827.05 967.26L827.15 967.85L827.26 968.44L827.36 969.03L827.46 969.62L827.56 970.21L827.66 970.80L827.76 971.39L827.86 971.98L827.96 972.57L828.06 973.16L828.16 973.75L828.26 974.34L828.36 974.93L828.46 975.52L828.56 976.11L828.66 976.70L828.76 977.29L828.86 977.88L828.96 978.47L829.05 979.06L829.15 979.65L829.25 980.24L829.35 980.83L829.45 981.42L829.55 982.01L829.65 982.60L829.75 983.19L829.85 983.78L829.94 984.37L830.04 984.96L830.14 985.55L830.24 986.14L830.34 986.73L830.44 987.32L830.54 987.91L830.63 988.50L830.73 989.09L830.83 989.68L830.93 990.27L831.03 990.86L831.12 991.45L831.22 992.04L831.32 992.63L831.42 993.22L831.51 993.81L831.61 994.40L831.71 994.99L831.81 995.58L831.91 996.17L832.00 996.76L832.10 997.35L832.20 997.94L832.29 998.53L832.39 999.12L832.49 999.71L832.59 1000.30L832.68 1000.89L832.78 1001.48L832.88 1002.07L832.97 1002.66L833.07 1003.25L833.17 1003.84L833.26 1004.43L833.36 1005.02L833.46 1005.61L833.55 1006.20L833.65 1006.79L833.75 1007.38L833.84 1007.98L833.94 1008.57L834.04 1009.16L834.13 1009.75L834.23 1010.34L834.33 1010.93L834.42 1011.52L834.52 1012.11L834.62 1012.70L834.71 1013.29L834.81 1013.88L834.90 1014.47L835.00 1015.06L835.10 1015.65L835.19 1016.24L835.29 1016.83L835.39 1017.42L835.48 1018.01L835.58 1018.60L835.67 1019.19L835.77 1019.78L835.87 1020.37L835.96 1020.96L836.06 1021.55L836.15 1022.14L836.25 1022.73L836.34 1023.32L836.44 1023.91L836.54 1024.50L836.63 1025.09L836.73 1025.68L836.82 1026.27L836.92 1026.86L837.02 1027.45L837.11 1028.04L837.21 1028.63L837.30 1029.22L837.40 1029.81L837.49 1030.40L837.59 1030.99L837.68 1031.58L837.78 1032.17L837.88 1032.76L837.97 1033.35L838.07 1033.94L838.16 1034.53L838.26 1035.12L838.35 1035.71L838.45 1036.30L838.55 1036.89L838.64 1037.48L838.74 1038.07L838.83 1038.66L838.93 1039.25L839.02 1039.84L839.12 1040.43L839.21 1041.02L839.31 1041.61L839.41 1042.20L839.50 1042.79L839.60 1043.38L839.69 1043.97L839.79 1044.56L839.88 1045.15L839.98 1045.74L840.08 1046.33L840.17 1046.92L840.27 1047.51L840.36 1048.10L840.46 1048.69L840.55 1049.28L840.65 1049.87L840.75 1050.46L840.84 1051.05L840.94 1051.64L841.03 1052.23L841.13 1052.82L841.22 1053.41L841.32 1054.00L841.42 1054.59L841.51 1055.18L841.61 1055.77L841.70 1056.36L841.80 1056.95L841.90 1057.54L841.99 1058.13L842.09 1058.72L842.18 1059.31L842.28 1059.90L842.38 1060.49L842.47 1061.08L842.57 1061.67L842.66 1062.26L842.76 1062.85L842.86 1063.44L842.95 1064.03L843.05 1064.62L843.15 1065.21L843.24 1065.80L843.34 1066.38L843.43 1066.97L843.53 1067.56L843.63 1068.15L843.72 1068.74L843.82 1069.33L843.92 1069.92L844.01 1070.51L844.11 1071.10L844.21 1071.69L844.30 1072.28L844.40 1072.87L844.50 1073.46L844.59 1074.05L844.69 1074.64L844.79 1075.23L844.89 1075.82L844.98 1076.41L845.08 1077.00L845.18 1077.59L845.27 1078.18L845.37 1078.77L845.47 1079.36L845.57 1079.95L845.66 1080.54L845.76 1081.13L845.86 1081.72L845.96 1082.31L846.05 1082.90L846.15 1083.49L846.25 1084.08L846.35 1084.67L846.44 1085.26L846.54 1085.85L846.64 1086.44L846.74 1087.03L846.84 1087.61L846.93 1088.20L847.03 1088.79L847.13 1089.38L847.23 1089.97L847.33 1090.56L847.43 1091.15L847.52 1091.74L847.62 1092.33L847.72 1092.92L847.82 1093.51L847.92 1094.10L848.02 1094.69L848.12 1095.28L848.22 1095.87L848.31 1096.46L848.41 1097.05L848.51 1097.64L848.61 1098.23L848.71 1098.82L848.81 1099.41L848.91 1099.99L849.01 1100.58L849.11 1101.17L849.21 1101.76L849.31 1102.35L849.41 1102.94L849.51 1103.53L849.61 1104.12L849.71 1104.71L849.81 1105.30L849.91 1105.89L850.01 1106.48L850.11 1107.07L850.21 1107.66L850.31 1108.25L850.41 1108.84L850.51 1109.42L850.61 1110.01L850.71 1110.60L850.82 1111.19L850.92 1111.78L851.02 1112.37L851.12 1112.96L851.22 1113.55L851.32 1114.14L851.42 1114.73L851.52 1115.32L851.63 1115.91L851.73 1116.49L851.83 1117.08L851.93 1117.67L852.03 1118.26L852.14 1118.85L852.24 1119.44L852.34 1120.03L852.44 1120.62L852.55 1121.21L852.65 1121.80L852.75 1122.39L852.85 1122.97L852.96 1123.56L853.06 1124.15L853.16 1124.74L853.27 1125.33L853.37 1125.92L853.47 1126.51L853.58 1127.10L853.68 1127.69L853.78 1128.27L853.89 1128.86L853.99 1129.45L854.10 1130.04L854.20 1130.63L854.30 1131.22L854.41 1131.81L854.51 1132.40L854.62 1132.99L854.72 1133.57L854.83 1134.16L854.93 1134.75L855.04 1135.34L855.14 1135.93L855.25 1136.52L855.35 1137.11L855.46 1137.69L855.56 1138.28L855.67 1138.87L855.77 1139.46L855.88 1140.05L855.99 1140.64L856.09 1141.23L856.20 1141.81L856.30 1142.40L856.41 1142.99L856.52 1143.58L856.62 1144.17L856.73 1144.76L856.84 1145.34L856.95 1145.93L857.05 1146.52L857.16 1147.11L857.27 1147.70L857.37 1148.29L857.48 1148.87L857.59 1149.46L857.70 1150.05L857.81 1150.64L857.91 1151.23L858.02 1151.81L858.13 1152.40L858.24 1152.99L858.35 1153.58L858.46 1154.17L858.57 1154.76L858.67 1155.34L858.78 1155.93L858.89 1156.52L859.00 1157.11L859.11 1157.69L859.22 1158.28L859.33 1158.87L859.44 1159.46L859.55 1160.05L859.66 1160.63L859.77 1161.22L859.88 1161.81L859.99 1162.40L860.10 1162.98L860.21 1163.57L860.32 1164.16L860.44 1164.75L860.55 1165.34L860.66 1165.92L860.77 1166.51L860.88 1167.10L860.99 1167.69L861.11 1168.27L861.22 1168.86L861.33 1169.45L861.44 1170.03L861.55 1170.62L861.67 1171.21L861.78 1171.80L861.89 1172.38L862.01 1172.97L862.12 1173.56L862.23 1174.15L862.35 1174.73L862.46 1175.32L862.57 1175.91L862.69 1176.49L862.80 1177.08L862.92 1177.67L863.03 1178.26L863.14 1178.84L863.26 1179.43L863.37 1180.02L863.49 1180.60L863.60 1181.19L863.72 1181.78L863.84 1182.36L863.95 1182.95L864.07 1183.54L864.18 1184.12L864.30 1184.71L864.41 1185.30L864.53 1185.88L864.65 1186.47L864.76 1187.06L864.88 1187.64L865.00 1188.23L865.12 1188.82L865.23 1189.40L865.35 1189.99L865.47 1190.58L865.59 1191.16L865.70 1191.75L865.82 1192.33L865.94 1192.92L866.06 1193.51L866.18 1194.09L866.30 1194.68L866.42 1195.27L866.53 1195.85L866.65 1196.44L866.77 1197.02L866.89 1197.61L867.01 1198.20L867.13 1198.78L867.25 1199.37L867.37 1199.95L867.49 1200.54L867.61 1201.12L867.74 1201.71L867.86 1202.30L867.98 1202.88L868.10 1203.47L868.22 1204.05L868.34 1204.64L868.46 1205.22L868.59 1205.81L868.71 1206.39L868.83 1206.98L868.95 1207.57L869.08 1208.15L869.20 1208.74L869.32 1209.32L869.45 1209.91L869.57 1210.49L869.69 1211.08L869.82 1211.66L869.94 1212.25L870.06 1212.83L870.19 1213.42L870.31 1214.00L870.44 1214.59L870.56 1215.17L870.69 1215.76L870.81 1216.34L870.94 1216.93L871.07 1217.51L871.19 1218.10L871.32 1218.68L871.44 1219.27L871.57 1219.85L871.70 1220.43L871.82 1221.02L871.95 1221.60L872.08 1222.19L872.21 1222.77L872.33 1223.36L872.46 1223.94L872.59 1224.53L872.72 1225.11L872.85 1225.69L872.97 1226.28L873.10 1226.86L873.23 1227.45L873.36 1228.03L873.49 1228.61L873.62 1229.20L873.75 1229.78L873.88 1230.37L874.01 1230.95L874.14 1231.53L874.27 1232.12L874.40 1232.70L874.53 1233.29L874.66 1233.87L874.79 1234.45L874.93 1235.04L875.06 1235.62L875.19 1236.20L875.32 1236.79L875.45 1237.37L875.59 1237.95L875.72 1238.54L875.85 1239.12L875.99 1239.70L876.12 1240.29L876.25 1240.87L876.39 1241.45L876.52 1242.03L876.66 1242.62L876.79 1243.20L876.93 1243.78L877.06 1244.37L877.20 1244.95L877.33 1245.53L877.47 1246.11L877.60 1246.70L877.74 1247.28L877.88 1247.86L878.01 1248.44L878.15 1249.03L878.29 1249.61L878.42 1250.19L878.56 1250.77L878.70 1251.35L878.84 1251.94L878.98 1252.52L879.12 1253.10L879.26 1253.68L879.40 1254.26L879.54 1254.84L879.68 1255.43L879.82 1256.01L879.96 1256.59L880.11 1257.17L880.25 1257.75L880.39 1258.33L880.53 1258.91L880.68 1259.49L880.82 1260.07L880.97 1260.65L881.11 1261.23L881.26 1261.81L881.41 1262.39L881.55 1262.97L881.70 1263.55L881.85 1264.13L882.00 1264.71L882.14 1265.29L882.29 1265.86L882.44 1266.44L882.59 1267.02L882.74 1267.60L882.90 1268.18L883.05 1268.76L883.20 1269.33L883.35 1269.91L883.51 1270.49L883.66 1271.07L883.82 1271.64L883.97 1272.22L884.13 1272.80L884.28 1273.37L884.44 1273.95L884.60 1274.52L884.76 1275.10L884.92 1275.67L885.08 1276.25L885.24 1276.83L885.40 1277.40L885.56 1277.97L885.73 1278.55L885.89 1279.12L886.05 1279.70L886.22 1280.27L886.38 1280.84L886.55 1281.42L886.72 1281.99L886.88 1282.56L887.05 1283.13L887.22 1283.71L887.39 1284.28L887.56 1284.85L887.74 1285.42L887.91 1285.99L888.08 1286.56L888.26 1287.13L888.43 1287.70L888.61 1288.27L888.78 1288.84L888.96 1289.41L889.14 1289.98L889.32 1290.55L889.50 1291.12L889.68 1291.69L889.86 1292.26L890.04 1292.82L890.23 1293.39L890.41 1293.96L890.60 1294.52L890.78 1295.09L890.97 1295.66L891.16 1296.22L891.35 1296.79L891.54 1297.35L891.73 1297.92L891.92 1298.48L892.11 1299.05L892.31 1299.61L892.50 1300.17L892.70 1300.74L892.90 1301.30L893.09 1301.86L893.29 1302.42L893.49 1302.98L893.70 1303.55L893.90 1304.11L894.10 1304.67L894.31 1305.23L894.51 1305.79L894.72 1306.35L894.92 1306.91L895.13 1307.46L895.34 1308.02L895.55 1308.58L895.77 1309.14L895.98 1309.69L896.19 1310.25L896.41 1310.81L896.62 1311.36L896.84 1311.92L897.06 1312.47L897.28 1313.03L897.50 1313.58L897.72 1314.14L897.95 1314.69L898.17 1315.24L898.40 1315.80L898.63 1316.35L898.85 1316.90L899.08 1317.45L899.32 1318.00L899.55 1318.55L899.78 1319.10L900.02 1319.65L900.25 1320.20L900.49 1320.75L900.73 1321.30L900.97 1321.84L901.21 1322.39L901.45 1322.94L901.69 1323.48L901.94 1324.03L902.19 1324.58L902.43 1325.12L902.68 1325.66L902.93 1326.21L903.18 1326.75L903.44 1327.29L903.69 1327.84L903.95 1328.38L904.21 1328.92L904.46 1329.46L904.73 1330.00L904.99 1330.54L905.25 1331.08L905.51 1331.62L905.78 1332.16L906.05 1332.69L906.32 1333.23L906.59 1333.76L906.86 1334.30L907.14 1334.83L907.41 1335.37L907.69 1335.90L907.97 1336.43L908.25 1336.96L908.53 1337.49L908.81 1338.02L909.10 1338.55L909.39 1339.07L909.68 1339.60L909.97 1340.12L910.26 1340.65L910.55 1341.17L910.85 1341.69L911.15 1342.21L911.45 1342.73L911.75 1343.25L912.05 1343.76L912.36 1344.28L912.66 1344.79L912.97 1345.30L913.28 1345.82L913.60 1346.33L913.91 1346.83L914.23 1347.34L914.55 1347.85L914.87 1348.35L915.19 1348.86L915.51 1349.36L915.84 1349.86L916.17 1350.36L916.50 1350.85L916.83 1351.35L917.17 1351.84L917.51 1352.34L917.85 1352.83L918.19 1353.31L918.53 1353.80L918.88 1354.29L919.23 1354.77L919.58 1355.25L919.93 1355.73L920.28 1356.21L920.64 1356.69L921.00 1357.16L921.36 1357.64L921.73 1358.11L922.09 1358.58L922.46 1359.04L922.83 1359.51L923.21 1359.97L923.58 1360.43L923.96 1360.89L924.34 1361.35L924.72 1361.80L925.11 1362.26L925.50 1362.71L925.89 1363.16L926.28 1363.60L926.68 1364.05L927.08 1364.49L927.48 1364.93L927.88 1365.36L928.29 1365.80L928.69 1366.23L929.10 1366.66L929.52 1367.09L929.93 1367.52L930.35 1367.94L930.78 1368.36L931.20 1368.78L931.63 1369.19L932.06 1369.61L932.49 1370.02L932.92 1370.42L933.36 1370.83L933.80 1371.23L934.25 1371.63L934.69 1372.03L935.14 1372.42L935.59 1372.81L936.05 1373.20L936.51 1373.59L936.97 1373.97L937.43 1374.35L937.90 1374.73L938.37 1375.10L938.84 1375.47L939.31 1375.83L939.79 1376.20L940.27 1376.55L940.76 1376.91L941.24 1377.26L941.73 1377.60L942.22 1377.94L942.72 1378.28L943.22 1378.61L943.72 1378.94L944.22 1379.26L944.73 1379.58L945.24 1379.89L945.75 1380.19L946.27 1380.50L946.78 1380.79L947.31 1381.08L947.83 1381.37L948.36 1381.65L948.89 1381.92L949.42 1382.19L949.95 1382.45L950.49 1382.71L951.03 1382.96L951.58 1383.20L952.13 1383.44L952.68 1383.67L953.23 1383.89L953.79 1384.11L954.35 1384.32L954.91 1384.52L955.47 1384.72L956.04 1384.91L956.61 1385.10L957.18 1385.28L957.75 1385.46L958.33 1385.63L958.90 1385.80L959.48 1385.97L960.06 1386.13L960.64 1386.29L961.22 1386.45L961.80 1386.61L962.38 1386.77L962.96 1386.92L963.54 1387.08L964.12 1387.23L964.70 1387.39L965.28 1387.55L965.86 1387.71L966.44 1387.87L967.02 1388.03L967.59 1388.20L968.17 1388.37L968.74 1388.54L969.31 1388.72L969.88 1388.90L970.44 1389.09L971.01 1389.28L971.57 1389.48L972.13 1389.69L972.68 1389.90L973.23 1390.12L973.78 1390.34" fill="none" stroke="#000000" stroke-width="4.90" stroke-linejoin="round" stroke-linecap="round" clip-path="url(#cb)"/><path d="M107.32 1369.71L108.05 1369.73L108.77 1369.76L109.49 1369.78L110.22 1369.80L110.94 1369.82L111.66 1369.84L112.39 1369.86L113.11 1369.89L113.83 1369.91L114.56 1369.93L115.28 1369.96L116.00 1369.98L116.73 1370.01L117.45 1370.03L118.17 1370.06L118.90 1370.08L119.62 1370.11L120.34 1370.13L121.07 1370.16L121.79 1370.19L122.52 1370.21L123.24 1370.24L123.96 1370.27L124.69 1370.29L125.41 1370.32L126.14 1370.35L126.86 1370.38L127.58 1370.41L128.31 1370.44L129.03 1370.47L129.76 1370.50L130.48 1370.53L131.20 1370.56L131.93 1370.59L132.65 1370.62L133.38 1370.65L134.10 1370.68L134.82 1370.71L135.55 1370.75L136.27 1370.78L137.00 1370.81L137.72 1370.84L138.45 1370.88L139.17 1370.91L139.89 1370.94L140.62 1370.98L141.34 1371.01L142.07 1371.05L142.79 1371.08L143.52 1371.11L144.24 1371.15L144.96 1371.18L145.69 1371.22L146.41 1371.26L147.14 1371.29L147.86 1371.33L148.59 1371.36L149.31 1371.40L150.04 1371.44L150.76 1371.47L151.49 1371.51L152.21 1371.55L152.94 1371.59L153.66 1371.62L154.38 1371.66L155.11 1371.70L155.83 1371.74L156.56 1371.78L157.28 1371.82L158.01 1371.85L158.73 1371.89L159.46 1371.93L160.18 1371.97L160.91 1372.01L161.63 1372.05L162.36 1372.09L163.08 1372.13L163.81 1372.17L164.53 1372.21L165.26 1372.25L165.98 1372.29L166.71 1372.33L167.43 1372.37L168.16 1372.42L168.88 1372.46L169.61 1372.50L170.33 1372.54L171.06 1372.58L171.78 1372.62L172.51 1372.67L173.23 1372.71L173.96 1372.75L174.69 1372.79L175.41 1372.84L176.14 1372.88L176.86 1372.92L177.59 1372.96L178.31 1373.01L179.04 1373.05L179.76 1373.09L180.49 1373.14L181.21 1373.18L181.94 1373.22L182.66 1373.27L183.39 1373.31L184.12 1373.35L184.84 1373.40L185.57 1373.44L186.29 1373.49L187.02 1373.53L187.74 1373.58L188.47 1373.62L189.19 1373.66L189.92 1373.71L190.64 1373.75L191.37 1373.80L192.10 1373.84L192.82 1373.89L193.55 1373.93L194.27 1373.98L195.00 1374.02L195.72 1374.07L196.45 1374.11L197.18 1374.16L197.90 1374.20L198.63 1374.25L199.35 1374.29L200.08 1374.34L200.80 1374.38L201.53 1374.43L202.26 1374.47L202.98 1374.52L203.71 1374.57L204.43 1374.61L205.16 1374.66L205.88 1374.70L206.61 1374.75L207.34 1374.79L208.06 1374.84L208.79 1374.88L209.51 1374.93L210.24 1374.98L210.97 1375.02L211.69 1375.07L212.42 1375.11L213.14 1375.16L213.87 1375.20L214.60 1375.25L215.32 1375.29L216.05 1375.34L216.77 1375.39L217.50 1375.43L218.23 1375.48L218.95 1375.52L219.68 1375.57L220.40 1375.61L221.13 1375.66L221.86 1375.70L222.58 1375.75L223.31 1375.79L224.03 1375.84L224.76 1375.88L225.49 1375.93L226.21 1375.97L226.94 1376.02L227.66 1376.06L228.39 1376.11L229.12 1376.15L229.84 1376.20L230.57 1376.24L231.29 1376.29L232.02 1376.33L232.75 1376.38L233.47 1376.42L234.20 1376.47L234.93 1376.51L235.65 1376.55L236.38 1376.60L237.10 1376.64L237.83 1376.69L238.56 1376.73L239.28 1376.77L240.01 1376.82L240.73 1376.86L241.46 1376.90L242.19 1376.95L242.91 1376.99L243.64 1377.03L244.37 1377.08L245.09 1377.12L245.82 1377.16L246.54 1377.21L247.27 1377.25L248.00 1377.29L248.72 1377.33L249.45 1377.38L250.18 1377.42L250.90 1377.46L251.63 1377.50L252.35 1377.54L253.08 1377.58L253.81 1377.63L254.53 1377.67L255.26 1377.71L255.99 1377.75L256.71 1377.79L257.44 1377.83L258.16 1377.87L258.89 1377.91L259.62 1377.95L260.34 1377.99L261.07 1378.03L261.80 1378.07L262.52 1378.11L263.25 1378.15L263.97 1378.19L264.70 1378.23L265.43 1378.27L266.15 1378.30L266.88 1378.34L267.61 1378.38L268.33 1378.42L269.06 1378.46L269.78 1378.49L270.51 1378.53L271.24 1378.57L271.96 1378.60L272.69 1378.64L273.42 1378.68L274.14 1378.71L274.87 1378.75L275.60 1378.79L276.32 1378.82L277.05 1378.86L277.77 1378.89L278.50 1378.93L279.23 1378.96L279.95 1379.00L280.68 1379.03L281.41 1379.06L282.13 1379.10L282.86 1379.13L283.58 1379.17L284.31 1379.20L285.04 1379.23L285.76 1379.26L286.49 1379.30L287.22 1379.33L287.94 1379.36L288.67 1379.39L289.39 1379.42L290.12 1379.45L290.85 1379.48L291.57 1379.51L292.30 1379.54L293.03 1379.57L293.75 1379.60L294.48 1379.63L295.20 1379.66L295.93 1379.69L296.66 1379.72L297.38 1379.75L298.11 1379.78L298.83 1379.80L299.56 1379.83L300.29 1379.86L301.01 1379.88L301.74 1379.91L302.47 1379.94L303.19 1379.96L303.92 1379.99L304.64 1380.01L305.37 1380.04L306.10 1380.06L306.82 1380.09L307.55 1380.11L308.27 1380.13L309.00 1380.16L309.73 1380.18L310.45 1380.20L311.18 1380.22L311.90 1380.24L312.63 1380.27L313.36 1380.29L314.08 1380.31L314.81 1380.33L315.54 1380.35L316.26 1380.37L316.99 1380.39L317.71 1380.41L318.44 1380.42L319.17 1380.44L319.89 1380.46L320.62 1380.48L321.34 1380.50L322.07 1380.51L322.79 1380.53L323.52 1380.54L324.25 1380.56L324.97 1380.57L325.70 1380.59L326.42 1380.60L327.15 1380.62L327.88 1380.63L328.60 1380.64L329.33 1380.66L330.05 1380.67L330.78 1380.68L331.51 1380.69L332.23 1380.70L332.96 1380.72L333.68 1380.73L334.41 1380.74L335.13 1380.74L335.86 1380.75L336.59 1380.76L337.31 1380.77L338.04 1380.78L338.76 1380.79L339.49 1380.79L340.21 1380.80L340.94 1380.80L341.67 1380.81L342.39 1380.82L343.12 1380.82L343.84 1380.82L344.57 1380.83L345.29 1380.83L346.02 1380.83L346.74 1380.84L347.47 1380.84L348.20 1380.84L348.92 1380.84L349.65 1380.84L350.37 1380.84L351.10 1380.84L351.82 1380.84L352.55 1380.84L353.27 1380.84L354.00 1380.83L354.72 1380.83L355.45 1380.83L356.18 1380.82L356.90 1380.82L357.63 1380.81L358.35 1380.81L359.08 1380.80L359.80 1380.80L360.53 1380.79L361.25 1380.78L361.98 1380.77L362.70 1380.77L363.43 1380.76L364.15 1380.75L364.88 1380.74L365.60 1380.73L366.33 1380.72L367.05 1380.70L367.78 1380.69L368.50 1380.68L369.23 1380.67L369.95 1380.65L370.68 1380.64L371.40 1380.62L372.13 1380.61L372.85 1380.59L373.58 1380.58L374.30 1380.56L375.03 1380.54L375.75 1380.52L376.48 1380.50L377.20 1380.48L377.93 1380.46L378.65 1380.44L379.38 1380.42L380.10 1380.40L380.83 1380.38L381.55 1380.36L382.28 1380.33L383.00 1380.31L383.73 1380.28L384.45 1380.26L385.18 1380.23L385.90 1380.21L386.63 1380.18L387.35 1380.15L388.07 1380.12L388.80 1380.10L389.52 1380.07L390.25 1380.04L390.97 1380.01L391.70 1379.97L392.42 1379.94L393.15 1379.91L393.87 1379.88L394.60 1379.84L395.32 1379.81L396.04 1379.77L396.77 1379.74L397.49 1379.70L398.22 1379.67L398.94 1379.63L399.67 1379.59L400.39 1379.55L401.11 1379.51L401.84 1379.47L402.56 1379.43L403.29 1379.39L404.01 1379.35L404.73 1379.31L405.46 1379.26L406.18 1379.22L406.91 1379.17L407.63 1379.13L408.35 1379.08L409.08 1379.03L409.80 1378.99L410.53 1378.94L411.25 1378.89L411.97 1378.84L412.70 1378.79L413.42 1378.74L414.15 1378.69L414.87 1378.64L415.59 1378.58L416.32 1378.53L417.04 1378.48L417.76 1378.42L418.49 1378.36L419.21 1378.31L419.93 1378.25L420.66 1378.19L421.38 1378.13L422.10 1378.08L422.83 1378.02L423.55 1377.95L424.28 1377.89L425.00 1377.83L425.72 1377.77L426.45 1377.70L427.17 1377.64L427.89 1377.57L428.61 1377.51L429.34 1377.44L430.06 1377.37L430.78 1377.31L431.51 1377.24L432.23 1377.17L432.95 1377.10L433.68 1377.02L434.40 1376.95L435.12 1376.88L435.84 1376.81L436.57 1376.73L437.29 1376.66L438.01 1376.58L438.73 1376.50L439.46 1376.42L440.18 1376.35L440.90 1376.27L441.62 1376.19L442.35 1376.11L443.07 1376.02L443.79 1375.94L444.51 1375.86L445.23 1375.77L445.95 1375.69L446.68 1375.60L447.40 1375.51L448.12 1375.42L448.84 1375.34L449.56 1375.25L450.28 1375.15L451.00 1375.06L451.72 1374.97L452.44 1374.88L453.16 1374.78L453.88 1374.69L454.60 1374.59L455.32 1374.49L456.04 1374.39L456.76 1374.30L457.48 1374.20L458.20 1374.09L458.92 1373.99L459.64 1373.89L460.36 1373.79L461.08 1373.68L461.80 1373.57L462.52 1373.47L463.24 1373.36L463.96 1373.25L464.67 1373.14L465.39 1373.03L466.11 1372.92L466.83 1372.81L467.54 1372.69L468.26 1372.58L468.98 1372.46L469.70 1372.34L470.41 1372.23L471.13 1372.11L471.85 1371.99L472.56 1371.87L473.28 1371.74L473.99 1371.62L474.71 1371.50L475.43 1371.37L476.14 1371.24L476.86 1371.12L477.57 1370.99L478.29 1370.86L479.00 1370.73L479.71 1370.59L480.43 1370.46L481.14 1370.33L481.86 1370.19L482.57 1370.06L483.28 1369.92L484.00 1369.78L484.71 1369.64L485.42 1369.50L486.13 1369.36L486.85 1369.21L487.56 1369.07L488.27 1368.92L488.98 1368.78L489.69 1368.63L490.40 1368.48L491.11 1368.33L491.82 1368.18L492.53 1368.03L493.24 1367.87L493.95 1367.72L494.66 1367.56L495.37 1367.40L496.08 1367.24L496.79 1367.08L497.50 1366.92L498.20 1366.76L498.91 1366.60L499.62 1366.43L500.33 1366.27L501.03 1366.10L501.74 1365.93L502.45 1365.76L503.15 1365.59L503.86 1365.42L504.56 1365.24L505.27 1365.07L505.97 1364.89L506.68 1364.72L507.38 1364.54L508.08 1364.36L508.79 1364.18L509.49 1363.99L510.19 1363.81L510.90 1363.62L511.60 1363.44L512.30 1363.25L513.00 1363.06L513.70 1362.87L514.40 1362.68L515.11 1362.48L515.81 1362.29L516.51 1362.09L517.21 1361.90L517.90 1361.70L518.60 1361.50L519.30 1361.30L520.00 1361.09L520.70 1360.89L521.40 1360.68L522.09 1360.48L522.79 1360.27L523.49 1360.06L524.18 1359.85L524.88 1359.63L525.57 1359.42L526.27 1359.20L526.96 1358.99L527.65 1358.77L528.35 1358.55L529.04 1358.33L529.73 1358.10L530.42 1357.88L531.11 1357.65L531.81 1357.42L532.50 1357.19L533.19 1356.96L533.87 1356.73L534.56 1356.49L535.25 1356.26L535.94 1356.02L536.62 1355.78L537.31 1355.54L538.00 1355.30L538.68 1355.05L539.36 1354.81L540.05 1354.56L540.73 1354.31L541.41 1354.06L542.09 1353.80L542.77 1353.55L543.45 1353.29L544.13 1353.03L544.81 1352.77L545.49 1352.51L546.16 1352.24L546.84 1351.98L547.52 1351.71L548.19 1351.44L548.86 1351.17L549.54 1350.89L550.21 1350.62L550.88 1350.34L551.55 1350.06L552.22 1349.78L552.89 1349.49L553.55 1349.21L554.22 1348.92L554.89 1348.63L555.55 1348.34L556.21 1348.04L556.88 1347.75L557.54 1347.45L558.20 1347.15L558.86 1346.85L559.52 1346.54L560.18 1346.23L560.83 1345.93L561.49 1345.61L562.14 1345.30L562.80 1344.99L563.45 1344.67L564.10 1344.35L564.75 1344.03L565.40 1343.71L566.05 1343.39L566.70 1343.06L567.35 1342.73L568.00 1342.41L568.65 1342.08L569.29 1341.75L569.94 1341.42L570.58 1341.08L571.23 1340.75L571.87 1340.41L572.52 1340.08L573.16 1339.74L573.80 1339.40L574.45 1339.07L575.09 1338.73L575.73 1338.39L576.37 1338.05L577.02 1337.71L577.66 1337.37L578.30 1337.02L578.94 1336.68L579.58 1336.34L580.22 1336.00L580.86 1335.66L581.51 1335.31L582.15 1334.97L582.79 1334.63L583.43 1334.29L584.07 1333.95L584.71 1333.61L585.35 1333.27L586.00 1332.93L586.64 1332.59L587.28 1332.25L587.92 1331.91L588.57 1331.57L589.21 1331.23L589.86 1330.90L590.50 1330.56L591.15 1330.23L591.79 1329.89L592.44 1329.56L593.08 1329.23L593.73 1328.90L594.38 1328.57L595.03 1328.25L595.68 1327.92L596.33 1327.60L596.98 1327.28L597.63 1326.95L598.28 1326.64L598.94 1326.32L599.59 1326.00L600.25 1325.69L600.90 1325.38L601.56 1325.07L602.22 1324.76L602.88 1324.46L603.54 1324.15L604.20 1323.85L604.86 1323.55L605.53 1323.26L606.19 1322.96L606.86 1322.67L607.52 1322.38L608.19 1322.09L608.86 1321.81L609.52 1321.52L610.19 1321.24L610.86 1320.96L611.54 1320.69L612.21 1320.42L612.88 1320.14L613.56 1319.88L614.23 1319.61L614.91 1319.35L615.58 1319.09L616.26 1318.83L616.94 1318.58L617.62 1318.32L618.30 1318.07L618.98 1317.83L619.67 1317.58L620.35 1317.34L621.03 1317.10L621.72 1316.87L622.41 1316.64L623.09 1316.41L623.78 1316.18L624.47 1315.96L625.16 1315.74L625.85 1315.52L626.54 1315.31L627.23 1315.10L627.93 1314.89L628.62 1314.69L629.31 1314.49L630.01 1314.29L630.71 1314.09L631.40 1313.90L632.10 1313.72L632.80 1313.53L633.50 1313.35L634.20 1313.17L634.90 1312.99L635.61 1312.82L636.31 1312.65L637.01 1312.47L637.71 1312.31L638.42 1312.14L639.12 1311.97L639.83 1311.81L640.53 1311.65L641.24 1311.49L641.94 1311.33L642.65 1311.17L643.36 1311.01L644.06 1310.85L644.77 1310.69L645.48 1310.54L646.18 1310.38L646.89 1310.22L647.60 1310.07L648.30 1309.91L649.01 1309.75L649.72 1309.59L650.43 1309.43L651.13 1309.28L651.84 1309.11L652.54 1308.95L653.25 1308.79L653.96 1308.63L654.66 1308.46L655.37 1308.29L656.07 1308.12L656.77 1307.95L657.48 1307.78L658.18 1307.60L658.88 1307.43L659.59 1307.24L660.29 1307.06L660.99 1306.88L661.69 1306.69L662.39 1306.49L663.08 1306.30L663.78 1306.10L664.48 1305.90L665.17 1305.69L665.87 1305.48L666.56 1305.27L667.26 1305.05L667.95 1304.83L668.64 1304.60L669.33 1304.37L670.02 1304.13L670.71 1303.89L671.39 1303.65L672.08 1303.40L672.76 1303.14L673.44 1302.88L674.13 1302.62L674.81 1302.35L675.48 1302.08L676.16 1301.80L676.84 1301.52L677.51 1301.23L678.18 1300.94L678.85 1300.64L679.52 1300.34L680.19 1300.04L680.85 1299.73L681.51 1299.41L682.17 1299.10L682.83 1298.77L683.49 1298.45L684.15 1298.12L684.80 1297.78L685.45 1297.45L686.10 1297.10L686.74 1296.76L687.39 1296.41L688.03 1296.05L688.67 1295.69L689.30 1295.33L689.94 1294.96L690.57 1294.59L691.20 1294.22L691.82 1293.84L692.45 1293.46L693.07 1293.08L693.69 1292.69L694.30 1292.30L694.91 1291.90L695.52 1291.50L696.13 1291.10L696.73 1290.69L697.33 1290.28L697.93 1289.87L698.53 1289.45L699.12 1289.03L699.70 1288.61L700.29 1288.18L700.87 1287.75L701.45 1287.32L702.03 1286.88L702.60 1286.44L703.17 1286.00L703.74 1285.55L704.30 1285.11L704.86 1284.65L705.42 1284.20L705.98 1283.74L706.53 1283.28L707.08 1282.82L707.63 1282.35L708.18 1281.88L708.72 1281.41L709.26 1280.94L709.80 1280.46L710.34 1279.98L710.87 1279.50L711.40 1279.02L711.93 1278.53L712.46 1278.04L712.99 1277.55L713.51 1277.06L714.03 1276.56L714.55 1276.06L715.07 1275.56L715.58 1275.06L716.09 1274.55L716.61 1274.05L717.11 1273.54L717.62 1273.03L718.13 1272.51L718.63 1272.00L719.13 1271.48L719.63 1270.96L720.13 1270.44L720.63 1269.92L721.13 1269.39L721.62 1268.86L722.11 1268.34L722.60 1267.81L723.09 1267.28L723.58 1266.74L724.07 1266.21L724.55 1265.67L725.04 1265.13L725.52 1264.59L726.00 1264.05L726.48 1263.51L726.96 1262.97L727.44 1262.42L727.92 1261.88L728.40 1261.33L728.87 1260.78L729.35 1260.24L729.82 1259.68L730.29 1259.13L730.77 1258.58L731.24 1258.03L731.71 1257.47L732.18 1256.92L732.65 1256.36L733.12 1255.81L733.58 1255.25L734.05 1254.69L734.52 1254.13L734.99 1253.57L735.45 1253.01L735.92 1252.45L736.38 1251.89L736.85 1251.33L737.31 1250.76L737.78 1250.20L738.24 1249.64L738.71 1249.07L739.17 1248.51L739.64 1247.95L740.10 1247.38L740.56 1246.82L741.03 1246.25L741.49 1245.69L741.96 1245.12L742.42 1244.56L742.89 1243.99L743.35 1243.42L743.82 1242.86L744.28 1242.29L744.75 1241.73L745.21 1241.16L745.68 1240.60L746.15 1240.04L746.62 1239.47L747.08 1238.91L747.55 1238.35L748.02 1237.78L748.49 1237.22L748.96 1236.66L749.44 1236.10L749.91 1235.54L750.39 1234.99L750.86 1234.43L751.34 1233.88L751.82 1233.32L752.30 1232.77L752.78 1232.22L753.27 1231.68L753.75 1231.13L754.24 1230.59L754.73 1230.05L755.22 1229.51L755.72 1228.98L756.22 1228.45L756.71 1227.92L757.22 1227.39L757.72 1226.87L758.23 1226.35L758.74 1225.84L759.25 1225.33L759.77 1224.82L760.29 1224.31L760.81 1223.81L761.34 1223.32L761.86 1222.82L762.40 1222.34L762.93 1221.85L763.47 1221.37L764.02 1220.90L764.56 1220.43L765.11 1219.97L765.67 1219.51L766.23 1219.05L766.79 1218.60L767.36 1218.16L767.93 1217.72L768.51 1217.29L769.09 1216.86L769.68 1216.44L770.27 1216.03L770.86 1215.62L771.46 1215.22L772.07 1214.82L772.68 1214.44L773.29 1214.05L773.92 1213.68L774.54 1213.31L775.17 1212.95L775.81 1212.60L776.46 1212.25L777.10 1211.91L777.76 1211.58L778.42 1211.26L779.08 1210.95L779.75 1210.65L780.42 1210.36L781.10 1210.08L781.78 1209.82L782.46 1209.57L783.15 1209.33L783.84 1209.11L784.53 1208.91L785.23 1208.72L785.92 1208.55L786.62 1208.39L787.32 1208.26L788.02 1208.14L788.72 1208.05L789.42 1207.97L790.12 1207.92L790.83 1207.89L791.53 1207.88L792.23 1207.90L792.93 1207.93L793.63 1207.99L794.32 1208.07L795.01 1208.17L795.70 1208.29L796.39 1208.44L797.07 1208.60L797.75 1208.79L798.42 1208.99L799.09 1209.22L799.76 1209.47L800.42 1209.73L801.08 1210.01L801.73 1210.31L802.37 1210.63L803.01 1210.96L803.65 1211.31L804.28 1211.68L804.91 1212.05L805.53 1212.45L806.15 1212.85L806.76 1213.27L807.36 1213.70L807.96 1214.15L808.55 1214.60L809.14 1215.06L809.72 1215.54L810.30 1216.02L810.87 1216.51L811.43 1217.01L811.99 1217.52L812.54 1218.03L813.09 1218.55L813.63 1219.08L814.16 1219.61L814.69 1220.14L815.21 1220.68L815.72 1221.22L816.23 1221.77L816.73 1222.32L817.22 1222.87L817.71 1223.42L818.19 1223.98L818.67 1224.54L819.14 1225.10L819.60 1225.67L820.06 1226.24L820.51 1226.81L820.96 1227.38L821.40 1227.96L821.84 1228.54L822.28 1229.12L822.70 1229.70L823.13 1230.29L823.55 1230.88L823.96 1231.47L824.37 1232.06L824.78 1232.65L825.18 1233.25L825.58 1233.85L825.97 1234.45L826.37 1235.05L826.75 1235.66L827.14 1236.26L827.52 1236.87L827.90 1237.48L828.27 1238.09L828.64 1238.70L829.01 1239.32L829.38 1239.94L829.75 1240.55L830.11 1241.17L830.47 1241.79L830.83 1242.41L831.18 1243.03L831.54 1243.66L831.89 1244.28L832.24 1244.91L832.59 1245.53L832.94 1246.16L833.29 1246.79L833.63 1247.42L833.98 1248.05L834.32 1248.68L834.67 1249.31L835.01 1249.94L835.35 1250.57L835.69 1251.20L836.04 1251.84L836.38 1252.47L836.72 1253.10L837.07 1253.74L837.41 1254.37L837.75 1255.01L838.10 1255.64L838.44 1256.28L838.79 1256.91L839.14 1257.54L839.48 1258.18L839.83 1258.81L840.18 1259.45L840.54 1260.08L840.89 1260.71L841.25 1261.34L841.60 1261.98L841.96 1262.61L842.32 1263.24L842.68 1263.87L843.04 1264.50L843.41 1265.13L843.77 1265.76L844.14 1266.39L844.51 1267.02L844.88 1267.65L845.25 1268.28L845.62 1268.90L846.00 1269.53L846.37 1270.16L846.75 1270.78L847.13 1271.41L847.51 1272.03L847.89 1272.65L848.27 1273.27L848.66 1273.90L849.04 1274.52L849.43 1275.14L849.82 1275.75L850.21 1276.37L850.61 1276.99L851.00 1277.61L851.40 1278.22L851.80 1278.83L852.20 1279.45L852.60 1280.06L853.00 1280.67L853.41 1281.28L853.81 1281.89L854.22 1282.50L854.63 1283.10L855.04 1283.71L855.45 1284.31L855.87 1284.91L856.29 1285.51L856.71 1286.11L857.13 1286.71L857.55 1287.31L857.97 1287.91L858.40 1288.50L858.83 1289.09L859.25 1289.69L859.69 1290.28L860.12 1290.87L860.55 1291.45L860.99 1292.04L861.43 1292.62L861.87 1293.20L862.31 1293.79L862.76 1294.36L863.20 1294.94L863.65 1295.52L864.10 1296.09L864.55 1296.67L865.01 1297.24L865.46 1297.80L865.92 1298.37L866.38 1298.94L866.84 1299.50L867.30 1300.06L867.77 1300.62L868.24 1301.18L868.71 1301.73L869.18 1302.29L869.65 1302.84L870.13 1303.39L870.60 1303.94L871.08 1304.48L871.57 1305.03L872.05 1305.57L872.54 1306.11L873.02 1306.64L873.51 1307.18L874.01 1307.71L874.50 1308.24L875.00 1308.77L875.49 1309.29L876.00 1309.82L876.50 1310.34L877.00 1310.86L877.51 1311.37L878.02 1311.89L878.53 1312.40L879.05 1312.91L879.56 1313.41L880.08 1313.92L880.60 1314.42L881.12 1314.92L881.65 1315.41L882.17 1315.91L882.70 1316.40L883.23 1316.89L883.77 1317.37L884.30 1317.85L884.84 1318.33L885.38 1318.81L885.93 1319.29L886.47 1319.76L887.02 1320.23L887.57 1320.69L888.12 1321.15L888.68 1321.61L889.23 1322.07L889.79 1322.53L890.36 1322.98L890.92 1323.42L891.49 1323.87L892.06 1324.31L892.63 1324.75L893.20 1325.19L893.78 1325.62L894.36 1326.05L894.94 1326.47L895.52 1326.90L896.11 1327.32L896.70 1327.73L897.29 1328.15L897.88 1328.56L898.48 1328.96L899.08 1329.37L899.68 1329.77L900.28 1330.16L900.89 1330.56L901.50 1330.94L902.11 1331.33L902.72 1331.71L903.34 1332.09L903.96 1332.47L904.58 1332.84L905.20 1333.21L905.83 1333.58L906.45 1333.94L907.08 1334.30L907.71 1334.65L908.35 1335.00L908.99 1335.35L909.62 1335.70L910.26 1336.04L910.91 1336.38L911.55 1336.71L912.20 1337.04L912.85 1337.37L913.50 1337.69L914.15 1338.01L914.81 1338.33L915.46 1338.65L916.12 1338.96L916.78 1339.26L917.44 1339.57L918.11 1339.87L918.77 1340.16L919.44 1340.46L920.11 1340.75L920.78 1341.03L921.45 1341.31L922.12 1341.59L922.80 1341.87L923.48 1342.14L924.15 1342.41L924.83 1342.67L925.51 1342.94L926.20 1343.19L926.88 1343.45L927.57 1343.70L928.25 1343.95L928.94 1344.19L929.63 1344.43L930.32 1344.67L931.01 1344.90L931.71 1345.13L932.40 1345.36L933.10 1345.58L933.79 1345.80L934.49 1346.02L935.19 1346.23L935.89 1346.44L936.59 1346.64L937.29 1346.85L938.00 1347.04L938.70 1347.24L939.40 1347.43L940.11 1347.62L940.82 1347.80L941.52 1347.98L942.23 1348.16L942.94 1348.33L943.65 1348.50L944.36 1348.67L945.07 1348.83L945.78 1348.99L946.49 1349.15L947.21 1349.30L947.92 1349.45L948.63 1349.59L949.35 1349.74L950.06 1349.87L950.78 1350.01L951.50 1350.14L952.21 1350.27L952.93 1350.39L953.65 1350.51L954.36 1350.63L955.08 1350.74L955.80 1350.85L956.52 1350.95L957.24 1351.06L957.95 1351.16L958.67 1351.25L959.39 1351.34L960.11 1351.43L960.83 1351.51L961.55 1351.59L962.27 1351.67L962.99 1351.74L963.71 1351.81L964.43 1351.88L965.14 1351.94L965.86 1352.00L966.58 1352.06L967.30 1352.11L968.02 1352.16L968.74 1352.20L969.46 1352.24L970.17 1352.28L970.89 1352.31L971.61 1352.34L972.32 1352.37L973.04 1352.39L973.76 1352.41" fill="none" stroke="#0c6a48" stroke-width="4.80" stroke-linejoin="round" stroke-linecap="round" clip-path="url(#cb)"/><path d="M107.28 1374.08L108.06 1374.13L108.83 1374.17L109.60 1374.22L110.38 1374.26L111.15 1374.31L111.92 1374.35L112.70 1374.39L113.47 1374.44L114.24 1374.48L115.02 1374.53L115.79 1374.57L116.56 1374.62L117.34 1374.66L118.11 1374.70L118.88 1374.75L119.66 1374.79L120.43 1374.84L121.20 1374.88L121.98 1374.93L122.75 1374.97L123.52 1375.01L124.30 1375.06L125.07 1375.10L125.84 1375.15L126.62 1375.19L127.39 1375.23L128.16 1375.28L128.94 1375.32L129.71 1375.36L130.48 1375.41L131.25 1375.45L132.03 1375.50L132.80 1375.54L133.57 1375.58L134.34 1375.63L135.12 1375.67L135.89 1375.71L136.66 1375.76L137.44 1375.80L138.21 1375.84L138.98 1375.89L139.75 1375.93L140.53 1375.98L141.30 1376.02L142.07 1376.06L142.84 1376.10L143.62 1376.15L144.39 1376.19L145.16 1376.23L145.93 1376.28L146.70 1376.32L147.48 1376.36L148.25 1376.41L149.02 1376.45L149.79 1376.49L150.57 1376.53L151.34 1376.58L152.11 1376.62L152.88 1376.66L153.65 1376.71L154.43 1376.75L155.20 1376.79L155.97 1376.83L156.74 1376.88L157.51 1376.92L158.29 1376.96L159.06 1377.00L159.83 1377.04L160.60 1377.09L161.37 1377.13L162.15 1377.17L162.92 1377.21L163.69 1377.25L164.46 1377.30L165.23 1377.34L166.00 1377.38L166.78 1377.42L167.55 1377.46L168.32 1377.50L169.09 1377.55L169.86 1377.59L170.64 1377.63L171.41 1377.67L172.18 1377.71L172.95 1377.75L173.72 1377.79L174.49 1377.83L175.26 1377.87L176.04 1377.91L176.81 1377.96L177.58 1378.00L178.35 1378.04L179.12 1378.08L179.89 1378.12L180.67 1378.16L181.44 1378.20L182.21 1378.24L182.98 1378.28L183.75 1378.32L184.52 1378.36L185.29 1378.40L186.06 1378.44L186.84 1378.48L187.61 1378.52L188.38 1378.56L189.15 1378.60L189.92 1378.64L190.69 1378.67L191.46 1378.71L192.24 1378.75L193.01 1378.79L193.78 1378.83L194.55 1378.87L195.32 1378.91L196.09 1378.95L196.86 1378.98L197.63 1379.02L198.40 1379.06L199.18 1379.10L199.95 1379.14L200.72 1379.18L201.49 1379.21L202.26 1379.25L203.03 1379.29L203.80 1379.33L204.57 1379.36L205.34 1379.40L206.12 1379.44L206.89 1379.48L207.66 1379.51L208.43 1379.55L209.20 1379.59L209.97 1379.62L210.74 1379.66L211.51 1379.70L212.28 1379.73L213.05 1379.77L213.83 1379.81L214.60 1379.84L215.37 1379.88L216.14 1379.91L216.91 1379.95L217.68 1379.99L218.45 1380.02L219.22 1380.06L219.99 1380.09L220.76 1380.13L221.54 1380.16L222.31 1380.20L223.08 1380.23L223.85 1380.27L224.62 1380.30L225.39 1380.34L226.16 1380.37L226.93 1380.41L227.70 1380.44L228.47 1380.47L229.24 1380.51L230.02 1380.54L230.79 1380.58L231.56 1380.61L232.33 1380.64L233.10 1380.68L233.87 1380.71L234.64 1380.74L235.41 1380.77L236.18 1380.81L236.95 1380.84L237.72 1380.87L238.50 1380.91L239.27 1380.94L240.04 1380.97L240.81 1381.00L241.58 1381.03L242.35 1381.06L243.12 1381.10L243.89 1381.13L244.66 1381.16L245.43 1381.19L246.20 1381.22L246.98 1381.25L247.75 1381.28L248.52 1381.31L249.29 1381.34L250.06 1381.37L250.83 1381.40L251.60 1381.43L252.37 1381.46L253.14 1381.49L253.91 1381.52L254.68 1381.55L255.46 1381.58L256.23 1381.61L257.00 1381.64L257.77 1381.67L258.54 1381.70L259.31 1381.73L260.08 1381.75L260.85 1381.78L261.62 1381.81L262.39 1381.84L263.17 1381.87L263.94 1381.89L264.71 1381.92L265.48 1381.95L266.25 1381.98L267.02 1382.00L267.79 1382.03L268.56 1382.06L269.33 1382.08L270.11 1382.11L270.88 1382.13L271.65 1382.16L272.42 1382.19L273.19 1382.21L273.96 1382.24L274.73 1382.26L275.50 1382.29L276.27 1382.31L277.05 1382.34L277.82 1382.36L278.59 1382.39L279.36 1382.41L280.13 1382.43L280.90 1382.46L281.67 1382.48L282.44 1382.51L283.22 1382.53L283.99 1382.55L284.76 1382.58L285.53 1382.60L286.30 1382.62L287.07 1382.64L287.84 1382.67L288.61 1382.69L289.39 1382.71L290.16 1382.73L290.93 1382.75L291.70 1382.77L292.47 1382.80L293.24 1382.82L294.01 1382.84L294.79 1382.86L295.56 1382.88L296.33 1382.90L297.10 1382.92L297.87 1382.94L298.64 1382.96L299.41 1382.98L300.19 1383.00L300.96 1383.02L301.73 1383.03L302.50 1383.05L303.27 1383.07L304.04 1383.09L304.82 1383.11L305.59 1383.13L306.36 1383.14L307.13 1383.16L307.90 1383.18L308.68 1383.20L309.45 1383.21L310.22 1383.23L310.99 1383.25L311.76 1383.26L312.53 1383.28L313.31 1383.29L314.08 1383.31L314.85 1383.33L315.62 1383.34L316.39 1383.36L317.17 1383.37L317.94 1383.39L318.71 1383.40L319.48 1383.41L320.25 1383.43L321.03 1383.44L321.80 1383.46L322.57 1383.47L323.34 1383.48L324.12 1383.50L324.89 1383.51L325.66 1383.52L326.43 1383.53L327.20 1383.54L327.98 1383.56L328.75 1383.57L329.52 1383.58L330.29 1383.59L331.07 1383.60L331.84 1383.61L332.61 1383.62L333.38 1383.63L334.16 1383.64L334.93 1383.65L335.70 1383.66L336.47 1383.67L337.25 1383.68L338.02 1383.69L338.79 1383.70L339.56 1383.71L340.34 1383.72L341.11 1383.72L341.88 1383.73L342.66 1383.74L343.43 1383.75L344.20 1383.75L344.97 1383.76L345.75 1383.77L346.52 1383.77L347.29 1383.78L348.07 1383.79L348.84 1383.79L349.61 1383.80L350.39 1383.80L351.16 1383.81L351.93 1383.81L352.71 1383.82L353.48 1383.82L354.25 1383.82L355.02 1383.83L355.80 1383.83L356.57 1383.83L357.34 1383.84L358.12 1383.84L358.89 1383.84L359.67 1383.85L360.44 1383.85L361.21 1383.85L361.99 1383.85L362.76 1383.85L363.53 1383.85L364.31 1383.85L365.08 1383.85L365.85 1383.85L366.63 1383.85L367.40 1383.85L368.18 1383.85L368.95 1383.85L369.72 1383.85L370.50 1383.85L371.27 1383.85L372.05 1383.85L372.82 1383.84L373.59 1383.84L374.37 1383.84L375.14 1383.84L375.92 1383.83L376.69 1383.83L377.47 1383.83L378.24 1383.82L379.01 1383.82L379.79 1383.81L380.56 1383.81L381.34 1383.80L382.11 1383.80L382.89 1383.79L383.66 1383.79L384.44 1383.78L385.21 1383.77L385.98 1383.77L386.76 1383.76L387.53 1383.75L388.31 1383.74L389.08 1383.74L389.86 1383.73L390.63 1383.72L391.41 1383.71L392.18 1383.70L392.96 1383.69L393.73 1383.68L394.51 1383.67L395.28 1383.66L396.06 1383.65L396.83 1383.63L397.61 1383.62L398.38 1383.61L399.16 1383.59L399.93 1383.58L400.71 1383.57L401.48 1383.55L402.26 1383.54L403.03 1383.52L403.81 1383.51L404.58 1383.49L405.36 1383.47L406.13 1383.46L406.91 1383.44L407.68 1383.42L408.45 1383.40L409.23 1383.38L410.00 1383.36L410.78 1383.34L411.55 1383.32L412.33 1383.30L413.10 1383.27L413.88 1383.25L414.65 1383.23L415.43 1383.20L416.20 1383.18L416.97 1383.16L417.75 1383.13L418.52 1383.10L419.30 1383.08L420.07 1383.05L420.85 1383.02L421.62 1382.99L422.39 1382.96L423.17 1382.93L423.94 1382.90L424.72 1382.87L425.49 1382.84L426.26 1382.81L427.04 1382.77L427.81 1382.74L428.58 1382.71L429.36 1382.67L430.13 1382.63L430.90 1382.60L431.68 1382.56L432.45 1382.52L433.22 1382.48L434.00 1382.44L434.77 1382.40L435.54 1382.36L436.32 1382.32L437.09 1382.28L437.86 1382.23L438.63 1382.19L439.41 1382.14L440.18 1382.10L440.95 1382.05L441.72 1382.01L442.50 1381.96L443.27 1381.91L444.04 1381.86L444.81 1381.81L445.58 1381.76L446.36 1381.70L447.13 1381.65L447.90 1381.60L448.67 1381.54L449.44 1381.49L450.21 1381.43L450.98 1381.37L451.75 1381.31L452.52 1381.25L453.30 1381.19L454.07 1381.13L454.84 1381.07L455.61 1381.01L456.38 1380.94L457.15 1380.88L457.92 1380.81L458.69 1380.75L459.46 1380.68L460.23 1380.61L460.99 1380.54L461.76 1380.47L462.53 1380.40L463.30 1380.33L464.07 1380.25L464.84 1380.18L465.61 1380.10L466.38 1380.03L467.14 1379.95L467.91 1379.87L468.68 1379.79L469.45 1379.71L470.22 1379.63L470.98 1379.55L471.75 1379.46L472.52 1379.38L473.28 1379.29L474.05 1379.20L474.82 1379.12L475.58 1379.03L476.35 1378.94L477.12 1378.85L477.88 1378.75L478.65 1378.66L479.41 1378.56L480.18 1378.47L480.95 1378.37L481.71 1378.27L482.48 1378.17L483.24 1378.07L484.00 1377.97L484.77 1377.87L485.53 1377.76L486.30 1377.66L487.06 1377.55L487.82 1377.44L488.59 1377.34L489.35 1377.23L490.11 1377.11L490.88 1377.00L491.64 1376.89L492.40 1376.77L493.16 1376.66L493.93 1376.54L494.69 1376.42L495.45 1376.30L496.21 1376.18L496.97 1376.06L497.73 1375.93L498.49 1375.81L499.25 1375.68L500.01 1375.55L500.77 1375.42L501.53 1375.29L502.29 1375.16L503.05 1375.03L503.81 1374.89L504.57 1374.76L505.33 1374.62L506.09 1374.48L506.85 1374.34L507.61 1374.20L508.36 1374.06L509.12 1373.92L509.88 1373.77L510.64 1373.63L511.39 1373.48L512.15 1373.33L512.91 1373.18L513.66 1373.03L514.42 1372.88L515.18 1372.73L515.93 1372.58L516.69 1372.42L517.44 1372.27L518.20 1372.11L518.95 1371.95L519.71 1371.79L520.46 1371.63L521.22 1371.47L521.97 1371.31L522.73 1371.15L523.48 1370.99L524.24 1370.82L524.99 1370.65L525.74 1370.49L526.50 1370.32L527.25 1370.15L528.00 1369.98L528.76 1369.81L529.51 1369.64L530.26 1369.47L531.01 1369.30L531.77 1369.12L532.52 1368.95L533.27 1368.77L534.02 1368.59L534.77 1368.42L535.53 1368.24L536.28 1368.06L537.03 1367.88L537.78 1367.70L538.53 1367.52L539.28 1367.34L540.03 1367.15L540.78 1366.97L541.53 1366.79L542.28 1366.60L543.03 1366.42L543.78 1366.23L544.53 1366.04L545.28 1365.85L546.03 1365.67L546.78 1365.48L547.53 1365.29L548.28 1365.10L549.03 1364.91L549.78 1364.72L550.53 1364.52L551.27 1364.33L552.02 1364.14L552.77 1363.94L553.52 1363.75L554.27 1363.55L555.01 1363.36L555.76 1363.16L556.51 1362.97L557.26 1362.77L558.01 1362.57L558.75 1362.37L559.50 1362.18L560.25 1361.98L561.00 1361.78L561.74 1361.58L562.49 1361.38L563.24 1361.18L563.98 1360.98L564.73 1360.77L565.48 1360.57L566.22 1360.37L566.97 1360.17L567.72 1359.97L568.46 1359.76L569.21 1359.56L569.95 1359.36L570.70 1359.15L571.45 1358.95L572.19 1358.74L572.94 1358.54L573.68 1358.33L574.43 1358.13L575.17 1357.92L575.92 1357.72L576.66 1357.51L577.41 1357.30L578.15 1357.10L578.90 1356.89L579.64 1356.68L580.39 1356.48L581.13 1356.27L581.88 1356.06L582.62 1355.86L583.37 1355.65L584.11 1355.44L584.86 1355.23L585.60 1355.02L586.35 1354.82L587.09 1354.61L587.84 1354.40L588.58 1354.19L589.32 1353.99L590.07 1353.78L590.81 1353.57L591.56 1353.36L592.30 1353.15L593.05 1352.95L593.79 1352.74L594.53 1352.53L595.28 1352.32L596.02 1352.11L596.77 1351.91L597.51 1351.70L598.25 1351.49L599.00 1351.28L599.74 1351.08L600.48 1350.87L601.23 1350.66L601.97 1350.46L602.72 1350.25L603.46 1350.04L604.20 1349.84L604.95 1349.63L605.69 1349.43L606.43 1349.22L607.18 1349.02L607.92 1348.81L608.66 1348.61L609.41 1348.40L610.15 1348.20L610.90 1347.99L611.64 1347.79L612.38 1347.59L613.13 1347.38L613.87 1347.18L614.61 1346.98L615.36 1346.78L616.10 1346.58L616.85 1346.38L617.59 1346.19L618.34 1345.99L619.08 1345.79L619.83 1345.60L620.57 1345.41L621.32 1345.22L622.06 1345.03L622.81 1344.84L623.56 1344.65L624.31 1344.47L625.05 1344.29L625.80 1344.11L626.55 1343.93L627.30 1343.75L628.05 1343.58L628.80 1343.40L629.55 1343.23L630.30 1343.07L631.06 1342.90L631.81 1342.74L632.56 1342.58L633.32 1342.43L634.07 1342.27L634.83 1342.12L635.59 1341.97L636.34 1341.83L637.10 1341.69L637.86 1341.55L638.62 1341.42L639.38 1341.28L640.14 1341.16L640.91 1341.03L641.67 1340.91L642.43 1340.79L643.20 1340.68L643.97 1340.57L644.73 1340.46L645.50 1340.35L646.27 1340.24L647.03 1340.14L647.80 1340.04L648.57 1339.93L649.34 1339.83L650.11 1339.73L650.88 1339.63L651.65 1339.53L652.42 1339.44L653.19 1339.34L653.96 1339.24L654.73 1339.14L655.50 1339.04L656.26 1338.93L657.03 1338.83L657.80 1338.72L658.57 1338.62L659.34 1338.51L660.10 1338.40L660.87 1338.28L661.63 1338.17L662.40 1338.05L663.16 1337.93L663.93 1337.80L664.69 1337.67L665.45 1337.54L666.21 1337.40L666.97 1337.26L667.73 1337.11L668.48 1336.96L669.24 1336.80L669.99 1336.64L670.75 1336.48L671.50 1336.30L672.25 1336.13L673.00 1335.94L673.74 1335.76L674.49 1335.56L675.23 1335.37L675.98 1335.16L676.72 1334.96L677.46 1334.75L678.20 1334.53L678.94 1334.31L679.68 1334.09L680.42 1333.86L681.15 1333.62L681.88 1333.39L682.62 1333.15L683.35 1332.90L684.08 1332.65L684.81 1332.40L685.54 1332.15L686.27 1331.89L687.00 1331.62L687.72 1331.36L688.45 1331.09L689.17 1330.82L689.90 1330.55L690.62 1330.27L691.34 1329.99L692.06 1329.71L692.78 1329.42L693.50 1329.13L694.22 1328.85L694.94 1328.55L695.66 1328.26L696.37 1327.96L697.09 1327.67L697.80 1327.37L698.52 1327.07L699.23 1326.76L699.95 1326.46L700.66 1326.15L701.37 1325.85L702.08 1325.54L702.79 1325.23L703.50 1324.92L704.21 1324.60L704.92 1324.29L705.63 1323.97L706.33 1323.65L707.04 1323.33L707.74 1323.01L708.44 1322.69L709.15 1322.36L709.85 1322.03L710.55 1321.70L711.24 1321.37L711.94 1321.03L712.64 1320.70L713.33 1320.36L714.02 1320.02L714.71 1319.67L715.40 1319.33L716.09 1318.98L716.78 1318.63L717.46 1318.27L718.14 1317.92L718.82 1317.56L719.50 1317.20L720.18 1316.83L720.85 1316.47L721.53 1316.10L722.20 1315.72L722.87 1315.35L723.53 1314.97L724.20 1314.59L724.87 1314.21L725.53 1313.82L726.19 1313.44L726.85 1313.05L727.51 1312.66L728.16 1312.26L728.82 1311.86L729.47 1311.47L730.13 1311.07L730.78 1310.66L731.43 1310.26L732.08 1309.85L732.73 1309.44L733.38 1309.03L734.03 1308.62L734.67 1308.21L735.32 1307.79L735.96 1307.38L736.61 1306.96L737.25 1306.54L737.89 1306.12L738.54 1305.69L739.18 1305.27L739.82 1304.84L740.46 1304.42L741.11 1303.99L741.75 1303.56L742.39 1303.13L743.03 1302.70L743.67 1302.26L744.31 1301.83L744.95 1301.40L745.59 1300.96L746.24 1300.53L746.88 1300.09L747.52 1299.65L748.16 1299.21L748.80 1298.77L749.45 1298.33L750.09 1297.89L750.74 1297.45L751.38 1297.01L752.03 1296.57L752.67 1296.13L753.32 1295.70L753.97 1295.26L754.62 1294.82L755.27 1294.39L755.92 1293.95L756.58 1293.52L757.23 1293.09L757.89 1292.67L758.55 1292.25L759.21 1291.83L759.87 1291.41L760.53 1291.00L761.20 1290.59L761.86 1290.19L762.53 1289.79L763.20 1289.40L763.88 1289.02L764.55 1288.63L765.23 1288.26L765.91 1287.89L766.60 1287.53L767.28 1287.18L767.97 1286.83L768.66 1286.49L769.36 1286.16L770.06 1285.83L770.76 1285.52L771.46 1285.21L772.17 1284.92L772.88 1284.63L773.59 1284.35L774.31 1284.08L775.03 1283.82L775.75 1283.58L776.48 1283.34L777.21 1283.12L777.95 1282.90L778.69 1282.70L779.43 1282.51L780.18 1282.33L780.93 1282.17L781.69 1282.02L782.45 1281.88L783.21 1281.75L783.97 1281.64L784.74 1281.54L785.51 1281.45L786.28 1281.38L787.05 1281.32L787.83 1281.28L788.60 1281.25L789.38 1281.23L790.15 1281.23L790.92 1281.24L791.70 1281.27L792.47 1281.31L793.24 1281.37L794.01 1281.45L794.78 1281.53L795.54 1281.64L796.30 1281.76L797.06 1281.89L797.82 1282.05L798.57 1282.21L799.31 1282.40L800.06 1282.60L800.79 1282.82L801.53 1283.05L802.26 1283.30L802.98 1283.56L803.70 1283.83L804.42 1284.12L805.13 1284.42L805.83 1284.73L806.54 1285.05L807.24 1285.38L807.93 1285.72L808.63 1286.06L809.32 1286.42L810.00 1286.77L810.68 1287.14L811.36 1287.51L812.04 1287.88L812.71 1288.26L813.38 1288.64L814.05 1289.03L814.71 1289.43L815.37 1289.82L816.03 1290.23L816.69 1290.64L817.34 1291.05L817.99 1291.46L818.64 1291.88L819.28 1292.31L819.92 1292.74L820.56 1293.17L821.20 1293.61L821.84 1294.05L822.47 1294.49L823.10 1294.94L823.73 1295.39L824.35 1295.84L824.98 1296.30L825.60 1296.76L826.22 1297.22L826.83 1297.69L827.45 1298.16L828.06 1298.63L828.68 1299.11L829.29 1299.58L829.89 1300.06L830.50 1300.55L831.11 1301.03L831.71 1301.52L832.31 1302.01L832.91 1302.50L833.51 1302.99L834.11 1303.49L834.70 1303.98L835.30 1304.48L835.89 1304.98L836.49 1305.48L837.08 1305.99L837.67 1306.49L838.26 1307.00L838.85 1307.50L839.43 1308.01L840.02 1308.52L840.61 1309.03L841.19 1309.54L841.77 1310.05L842.36 1310.56L842.94 1311.07L843.53 1311.59L844.11 1312.10L844.69 1312.61L845.27 1313.12L845.85 1313.64L846.44 1314.15L847.02 1314.66L847.60 1315.17L848.18 1315.68L848.76 1316.20L849.34 1316.71L849.93 1317.22L850.51 1317.73L851.09 1318.23L851.68 1318.74L852.26 1319.25L852.85 1319.75L853.43 1320.26L854.02 1320.76L854.61 1321.26L855.20 1321.76L855.79 1322.26L856.38 1322.76L856.97 1323.25L857.56 1323.74L858.16 1324.24L858.76 1324.72L859.35 1325.21L859.95 1325.70L860.55 1326.18L861.16 1326.66L861.76 1327.14L862.37 1327.61L862.98 1328.08L863.59 1328.55L864.20 1329.02L864.81 1329.48L865.43 1329.94L866.05 1330.40L866.67 1330.86L867.29 1331.31L867.92 1331.75L868.55 1332.20L869.18 1332.64L869.81 1333.08L870.45 1333.51L871.09 1333.94L871.73 1334.36L872.38 1334.78L873.02 1335.20L873.67 1335.62L874.33 1336.03L874.98 1336.43L875.64 1336.83L876.30 1337.23L876.96 1337.63L877.63 1338.02L878.30 1338.40L878.97 1338.79L879.64 1339.16L880.31 1339.54L880.99 1339.91L881.67 1340.28L882.35 1340.64L883.03 1341.00L883.72 1341.35L884.41 1341.70L885.10 1342.05L885.79 1342.39L886.48 1342.73L887.18 1343.07L887.88 1343.40L888.58 1343.73L889.28 1344.05L889.98 1344.37L890.69 1344.68L891.40 1344.99L892.11 1345.30L892.82 1345.60L893.53 1345.90L894.24 1346.19L894.96 1346.48L895.67 1346.77L896.39 1347.05L897.11 1347.33L897.84 1347.60L898.56 1347.87L899.28 1348.14L900.01 1348.40L900.74 1348.65L901.47 1348.91L902.20 1349.16L902.93 1349.40L903.66 1349.64L904.39 1349.88L905.13 1350.11L905.87 1350.34L906.60 1350.56L907.34 1350.78L908.08 1351.00L908.82 1351.21L909.57 1351.42L910.31 1351.63L911.05 1351.83L911.80 1352.03L912.55 1352.23L913.29 1352.42L914.04 1352.61L914.79 1352.79L915.54 1352.97L916.29 1353.15L917.05 1353.32L917.80 1353.50L918.55 1353.66L919.31 1353.83L920.06 1353.99L920.82 1354.15L921.58 1354.31L922.33 1354.46L923.09 1354.61L923.85 1354.76L924.61 1354.90L925.37 1355.04L926.14 1355.18L926.90 1355.32L927.66 1355.45L928.42 1355.58L929.19 1355.71L929.95 1355.83L930.72 1355.96L931.48 1356.08L932.25 1356.19L933.02 1356.31L933.78 1356.42L934.55 1356.53L935.32 1356.64L936.09 1356.75L936.86 1356.85L937.62 1356.95L938.39 1357.05L939.16 1357.15L939.93 1357.24L940.70 1357.34L941.47 1357.43L942.24 1357.52L943.01 1357.60L943.79 1357.69L944.56 1357.77L945.33 1357.85L946.10 1357.93L946.87 1358.01L947.64 1358.09L948.41 1358.16L949.19 1358.24L949.96 1358.31L950.73 1358.38L951.50 1358.45L952.27 1358.52L953.04 1358.58L953.82 1358.65L954.59 1358.71L955.36 1358.77L956.13 1358.83L956.90 1358.89L957.67 1358.95L958.44 1359.01L959.21 1359.07L959.98 1359.12L960.75 1359.18L961.52 1359.23L962.29 1359.28L963.06 1359.34L963.83 1359.39L964.59 1359.44L965.36 1359.49L966.13 1359.54L966.90 1359.58L967.66 1359.63L968.43 1359.68L969.19 1359.73L969.96 1359.77L970.72 1359.82L971.49 1359.86L972.25 1359.91L973.01 1359.95L973.77 1360.00" fill="none" stroke="#ff8a2a" stroke-width="4.80" stroke-linejoin="round" stroke-linecap="round" clip-path="url(#cb)"/><path d="M107.31 1378.53L108.19 1378.57L109.07 1378.60L109.95 1378.64L110.83 1378.68L111.71 1378.71L112.59 1378.75L113.47 1378.78L114.35 1378.82L115.23 1378.86L116.11 1378.89L116.99 1378.93L117.87 1378.97L118.75 1379.00L119.63 1379.04L120.51 1379.08L121.39 1379.11L122.27 1379.15L123.15 1379.19L124.04 1379.22L124.92 1379.26L125.80 1379.30L126.68 1379.33L127.56 1379.37L128.44 1379.41L129.32 1379.45L130.20 1379.48L131.08 1379.52L131.96 1379.56L132.84 1379.60L133.72 1379.63L134.60 1379.67L135.48 1379.71L136.36 1379.75L137.24 1379.79L138.13 1379.82L139.01 1379.86L139.89 1379.90L140.77 1379.94L141.65 1379.98L142.53 1380.01L143.41 1380.05L144.29 1380.09L145.17 1380.13L146.05 1380.17L146.93 1380.20L147.81 1380.24L148.69 1380.28L149.58 1380.32L150.46 1380.36L151.34 1380.40L152.22 1380.43L153.10 1380.47L153.98 1380.51L154.86 1380.55L155.74 1380.59L156.62 1380.63L157.50 1380.66L158.38 1380.70L159.26 1380.74L160.15 1380.78L161.03 1380.82L161.91 1380.86L162.79 1380.90L163.67 1380.93L164.55 1380.97L165.43 1381.01L166.31 1381.05L167.19 1381.09L168.07 1381.13L168.95 1381.16L169.84 1381.20L170.72 1381.24L171.60 1381.28L172.48 1381.32L173.36 1381.36L174.24 1381.40L175.12 1381.43L176.00 1381.47L176.88 1381.51L177.76 1381.55L178.65 1381.59L179.53 1381.62L180.41 1381.66L181.29 1381.70L182.17 1381.74L183.05 1381.78L183.93 1381.82L184.81 1381.85L185.69 1381.89L186.57 1381.93L187.46 1381.97L188.34 1382.01L189.22 1382.04L190.10 1382.08L190.98 1382.12L191.86 1382.16L192.74 1382.19L193.62 1382.23L194.50 1382.27L195.39 1382.31L196.27 1382.35L197.15 1382.38L198.03 1382.42L198.91 1382.46L199.79 1382.49L200.67 1382.53L201.55 1382.57L202.43 1382.61L203.32 1382.64L204.20 1382.68L205.08 1382.72L205.96 1382.75L206.84 1382.79L207.72 1382.83L208.60 1382.86L209.48 1382.90L210.36 1382.94L211.25 1382.97L212.13 1383.01L213.01 1383.05L213.89 1383.08L214.77 1383.12L215.65 1383.15L216.53 1383.19L217.41 1383.23L218.30 1383.26L219.18 1383.30L220.06 1383.33L220.94 1383.37L221.82 1383.40L222.70 1383.44L223.58 1383.47L224.46 1383.51L225.35 1383.54L226.23 1383.58L227.11 1383.61L227.99 1383.65L228.87 1383.68L229.75 1383.72L230.63 1383.75L231.51 1383.79L232.40 1383.82L233.28 1383.86L234.16 1383.89L235.04 1383.92L235.92 1383.96L236.80 1383.99L237.68 1384.02L238.56 1384.06L239.45 1384.09L240.33 1384.12L241.21 1384.16L242.09 1384.19L242.97 1384.22L243.85 1384.25L244.73 1384.29L245.61 1384.32L246.50 1384.35L247.38 1384.38L248.26 1384.42L249.14 1384.45L250.02 1384.48L250.90 1384.51L251.78 1384.54L252.67 1384.57L253.55 1384.60L254.43 1384.64L255.31 1384.67L256.19 1384.70L257.07 1384.73L257.95 1384.76L258.83 1384.79L259.72 1384.82L260.60 1384.85L261.48 1384.88L262.36 1384.91L263.24 1384.94L264.12 1384.97L265.00 1384.99L265.89 1385.02L266.77 1385.05L267.65 1385.08L268.53 1385.11L269.41 1385.14L270.29 1385.17L271.17 1385.19L272.06 1385.22L272.94 1385.25L273.82 1385.28L274.70 1385.30L275.58 1385.33L276.46 1385.36L277.34 1385.38L278.23 1385.41L279.11 1385.44L279.99 1385.46L280.87 1385.49L281.75 1385.51L282.63 1385.54L283.51 1385.56L284.39 1385.59L285.28 1385.61L286.16 1385.64L287.04 1385.66L287.92 1385.69L288.80 1385.71L289.68 1385.74L290.56 1385.76L291.45 1385.78L292.33 1385.81L293.21 1385.83L294.09 1385.85L294.97 1385.88L295.85 1385.90L296.73 1385.92L297.62 1385.94L298.50 1385.96L299.38 1385.99L300.26 1386.01L301.14 1386.03L302.02 1386.05L302.90 1386.07L303.79 1386.09L304.67 1386.11L305.55 1386.13L306.43 1386.15L307.31 1386.17L308.19 1386.19L309.07 1386.21L309.96 1386.23L310.84 1386.25L311.72 1386.26L312.60 1386.28L313.48 1386.30L314.36 1386.32L315.24 1386.33L316.13 1386.35L317.01 1386.37L317.89 1386.39L318.77 1386.40L319.65 1386.42L320.53 1386.43L321.41 1386.45L322.30 1386.46L323.18 1386.48L324.06 1386.49L324.94 1386.51L325.82 1386.52L326.70 1386.54L327.58 1386.55L328.47 1386.57L329.35 1386.58L330.23 1386.59L331.11 1386.60L331.99 1386.62L332.87 1386.63L333.75 1386.64L334.64 1386.65L335.52 1386.66L336.40 1386.67L337.28 1386.69L338.16 1386.70L339.04 1386.71L339.92 1386.72L340.80 1386.73L341.69 1386.74L342.57 1386.74L343.45 1386.75L344.33 1386.76L345.21 1386.77L346.09 1386.78L346.97 1386.79L347.86 1386.79L348.74 1386.80L349.62 1386.81L350.50 1386.81L351.38 1386.82L352.26 1386.82L353.14 1386.83L354.03 1386.84L354.91 1386.84L355.79 1386.85L356.67 1386.85L357.55 1386.85L358.43 1386.86L359.31 1386.86L360.19 1386.86L361.08 1386.87L361.96 1386.87L362.84 1386.87L363.72 1386.87L364.60 1386.87L365.48 1386.87L366.36 1386.88L367.25 1386.88L368.13 1386.88L369.01 1386.88L369.89 1386.87L370.77 1386.87L371.65 1386.87L372.53 1386.87L373.41 1386.87L374.30 1386.87L375.18 1386.86L376.06 1386.86L376.94 1386.86L377.82 1386.85L378.70 1386.85L379.58 1386.85L380.46 1386.84L381.35 1386.84L382.23 1386.83L383.11 1386.82L383.99 1386.82L384.87 1386.81L385.75 1386.81L386.63 1386.80L387.52 1386.79L388.40 1386.78L389.28 1386.77L390.16 1386.77L391.04 1386.76L391.92 1386.75L392.80 1386.74L393.68 1386.73L394.56 1386.72L395.45 1386.71L396.33 1386.69L397.21 1386.68L398.09 1386.67L398.97 1386.66L399.85 1386.65L400.73 1386.63L401.61 1386.62L402.50 1386.61L403.38 1386.59L404.26 1386.58L405.14 1386.56L406.02 1386.55L406.90 1386.53L407.78 1386.51L408.66 1386.50L409.55 1386.48L410.43 1386.46L411.31 1386.44L412.19 1386.43L413.07 1386.41L413.95 1386.39L414.83 1386.37L415.71 1386.35L416.59 1386.33L417.48 1386.31L418.36 1386.29L419.24 1386.26L420.12 1386.24L421.00 1386.22L421.88 1386.20L422.76 1386.17L423.64 1386.15L424.52 1386.13L425.41 1386.10L426.29 1386.08L427.17 1386.05L428.05 1386.03L428.93 1386.00L429.81 1385.97L430.69 1385.95L431.57 1385.92L432.45 1385.89L433.33 1385.86L434.22 1385.83L435.10 1385.80L435.98 1385.77L436.86 1385.74L437.74 1385.71L438.62 1385.68L439.50 1385.65L440.38 1385.62L441.26 1385.59L442.14 1385.55L443.03 1385.52L443.91 1385.49L444.79 1385.45L445.67 1385.42L446.55 1385.38L447.43 1385.35L448.31 1385.31L449.19 1385.28L450.07 1385.24L450.95 1385.20L451.83 1385.16L452.72 1385.12L453.60 1385.09L454.48 1385.05L455.36 1385.01L456.24 1384.97L457.12 1384.93L458.00 1384.88L458.88 1384.84L459.76 1384.80L460.64 1384.76L461.52 1384.72L462.40 1384.67L463.29 1384.63L464.17 1384.58L465.05 1384.54L465.93 1384.49L466.81 1384.45L467.69 1384.40L468.57 1384.35L469.45 1384.31L470.33 1384.26L471.21 1384.21L472.09 1384.16L472.97 1384.11L473.85 1384.06L474.74 1384.01L475.62 1383.96L476.50 1383.91L477.38 1383.85L478.26 1383.80L479.14 1383.75L480.02 1383.69L480.90 1383.64L481.78 1383.58L482.66 1383.53L483.54 1383.47L484.42 1383.41L485.30 1383.35L486.18 1383.29L487.06 1383.23L487.94 1383.17L488.82 1383.11L489.70 1383.05L490.58 1382.98L491.46 1382.92L492.34 1382.85L493.22 1382.79L494.10 1382.72L494.98 1382.65L495.86 1382.58L496.74 1382.51L497.62 1382.44L498.50 1382.37L499.38 1382.30L500.25 1382.22L501.13 1382.15L502.01 1382.07L502.89 1382.00L503.77 1381.92L504.65 1381.84L505.52 1381.76L506.40 1381.68L507.28 1381.59L508.16 1381.51L509.04 1381.43L509.91 1381.34L510.79 1381.25L511.67 1381.16L512.55 1381.07L513.42 1380.98L514.30 1380.89L515.18 1380.80L516.05 1380.70L516.93 1380.61L517.80 1380.51L518.68 1380.41L519.56 1380.31L520.43 1380.21L521.31 1380.10L522.18 1380.00L523.06 1379.89L523.93 1379.79L524.81 1379.68L525.68 1379.57L526.56 1379.46L527.43 1379.34L528.31 1379.23L529.18 1379.11L530.05 1379.00L530.93 1378.88L531.80 1378.76L532.67 1378.63L533.55 1378.51L534.42 1378.38L535.29 1378.26L536.16 1378.13L537.03 1378.00L537.91 1377.86L538.78 1377.73L539.65 1377.59L540.52 1377.46L541.39 1377.32L542.26 1377.18L543.13 1377.03L544.00 1376.89L544.87 1376.74L545.74 1376.60L546.61 1376.45L547.48 1376.30L548.35 1376.15L549.22 1375.99L550.09 1375.84L550.95 1375.68L551.82 1375.53L552.69 1375.37L553.56 1375.21L554.43 1375.05L555.29 1374.89L556.16 1374.73L557.03 1374.56L557.89 1374.40L558.76 1374.24L559.63 1374.07L560.49 1373.90L561.36 1373.74L562.23 1373.57L563.09 1373.40L563.96 1373.23L564.82 1373.06L565.69 1372.89L566.55 1372.72L567.42 1372.55L568.29 1372.38L569.15 1372.20L570.01 1372.03L570.88 1371.86L571.74 1371.69L572.61 1371.51L573.47 1371.34L574.34 1371.17L575.20 1370.99L576.07 1370.82L576.93 1370.65L577.79 1370.47L578.66 1370.30L579.52 1370.12L580.39 1369.95L581.25 1369.78L582.11 1369.61L582.98 1369.43L583.84 1369.26L584.70 1369.09L585.57 1368.92L586.43 1368.75L587.29 1368.57L588.16 1368.40L589.02 1368.23L589.88 1368.06L590.75 1367.90L591.61 1367.73L592.47 1367.56L593.34 1367.39L594.20 1367.22L595.06 1367.06L595.93 1366.89L596.79 1366.73L597.66 1366.56L598.52 1366.40L599.38 1366.24L600.25 1366.07L601.11 1365.91L601.98 1365.75L602.84 1365.59L603.71 1365.44L604.57 1365.28L605.44 1365.12L606.30 1364.97L607.17 1364.81L608.03 1364.66L608.90 1364.50L609.77 1364.35L610.63 1364.20L611.50 1364.05L612.37 1363.90L613.23 1363.76L614.10 1363.61L614.97 1363.47L615.84 1363.32L616.71 1363.18L617.57 1363.04L618.44 1362.90L619.31 1362.76L620.18 1362.63L621.05 1362.49L621.92 1362.36L622.79 1362.23L623.66 1362.10L624.53 1361.97L625.41 1361.84L626.28 1361.71L627.15 1361.59L628.02 1361.47L628.90 1361.35L629.77 1361.23L630.64 1361.11L631.52 1360.99L632.39 1360.88L633.27 1360.77L634.15 1360.66L635.02 1360.55L635.90 1360.44L636.78 1360.34L637.65 1360.23L638.53 1360.13L639.41 1360.03L640.29 1359.94L641.17 1359.84L642.05 1359.75L642.93 1359.66L643.81 1359.57L644.70 1359.48L645.58 1359.39L646.46 1359.31L647.34 1359.22L648.23 1359.14L649.11 1359.06L649.99 1358.98L650.88 1358.89L651.76 1358.81L652.64 1358.73L653.53 1358.65L654.41 1358.57L655.30 1358.49L656.18 1358.41L657.06 1358.33L657.95 1358.25L658.83 1358.17L659.71 1358.08L660.60 1358.00L661.48 1357.91L662.36 1357.83L663.24 1357.74L664.13 1357.65L665.01 1357.56L665.89 1357.47L666.77 1357.38L667.65 1357.29L668.53 1357.19L669.41 1357.09L670.29 1356.99L671.16 1356.88L672.04 1356.78L672.92 1356.67L673.79 1356.56L674.67 1356.44L675.54 1356.33L676.41 1356.21L677.29 1356.08L678.16 1355.96L679.03 1355.83L679.90 1355.69L680.77 1355.55L681.64 1355.41L682.50 1355.27L683.37 1355.12L684.23 1354.96L685.10 1354.81L685.96 1354.65L686.82 1354.48L687.68 1354.31L688.54 1354.14L689.40 1353.97L690.26 1353.79L691.11 1353.60L691.97 1353.42L692.82 1353.23L693.68 1353.03L694.53 1352.84L695.38 1352.63L696.23 1352.43L697.08 1352.22L697.93 1352.01L698.78 1351.80L699.63 1351.58L700.47 1351.35L701.32 1351.13L702.16 1350.90L703.01 1350.67L703.85 1350.43L704.69 1350.19L705.53 1349.95L706.37 1349.70L707.21 1349.45L708.04 1349.20L708.88 1348.94L709.71 1348.68L710.55 1348.42L711.38 1348.15L712.21 1347.88L713.04 1347.61L713.88 1347.33L714.70 1347.05L715.53 1346.77L716.36 1346.48L717.19 1346.20L718.01 1345.90L718.84 1345.61L719.66 1345.31L720.48 1345.01L721.31 1344.70L722.13 1344.39L722.95 1344.08L723.77 1343.77L724.59 1343.45L725.40 1343.14L726.22 1342.82L727.04 1342.49L727.86 1342.17L728.68 1341.85L729.50 1341.52L730.32 1341.20L731.14 1340.87L731.95 1340.54L732.77 1340.21L733.60 1339.88L734.42 1339.56L735.24 1339.23L736.06 1338.90L736.89 1338.57L737.71 1338.24L738.54 1337.92L739.37 1337.59L740.20 1337.27L741.03 1336.95L741.86 1336.63L742.70 1336.31L743.53 1335.99L744.37 1335.68L745.21 1335.36L746.05 1335.05L746.89 1334.75L747.73 1334.44L748.58 1334.14L749.42 1333.84L750.27 1333.54L751.11 1333.25L751.96 1332.96L752.81 1332.68L753.66 1332.40L754.51 1332.12L755.37 1331.85L756.22 1331.58L757.07 1331.31L757.93 1331.05L758.79 1330.80L759.64 1330.55L760.50 1330.31L761.36 1330.07L762.22 1329.83L763.08 1329.61L763.94 1329.38L764.80 1329.17L765.66 1328.96L766.52 1328.75L767.39 1328.56L768.25 1328.37L769.12 1328.18L769.98 1328.01L770.85 1327.84L771.71 1327.68L772.58 1327.52L773.44 1327.37L774.31 1327.23L775.17 1327.10L776.04 1326.98L776.91 1326.87L777.78 1326.76L778.64 1326.66L779.51 1326.57L780.38 1326.49L781.24 1326.42L782.11 1326.36L782.98 1326.31L783.85 1326.26L784.71 1326.23L785.58 1326.21L786.45 1326.19L787.31 1326.19L788.18 1326.20L789.05 1326.22L789.91 1326.25L790.78 1326.29L791.64 1326.34L792.51 1326.40L793.37 1326.47L794.24 1326.55L795.10 1326.64L795.96 1326.75L796.82 1326.86L797.68 1326.98L798.54 1327.11L799.40 1327.25L800.26 1327.41L801.12 1327.57L801.97 1327.74L802.83 1327.91L803.68 1328.10L804.53 1328.30L805.39 1328.51L806.24 1328.72L807.08 1328.94L807.93 1329.17L808.78 1329.41L809.62 1329.66L810.46 1329.91L811.30 1330.18L812.14 1330.45L812.97 1330.73L813.81 1331.01L814.64 1331.31L815.47 1331.61L816.30 1331.91L817.13 1332.23L817.95 1332.55L818.77 1332.88L819.59 1333.21L820.41 1333.55L821.22 1333.90L822.04 1334.25L822.85 1334.61L823.65 1334.97L824.46 1335.34L825.27 1335.71L826.07 1336.09L826.87 1336.47L827.67 1336.86L828.47 1337.24L829.27 1337.63L830.06 1338.03L830.86 1338.42L831.66 1338.82L832.45 1339.22L833.24 1339.62L834.04 1340.02L834.83 1340.42L835.62 1340.82L836.41 1341.23L837.21 1341.63L838.00 1342.03L838.79 1342.43L839.58 1342.83L840.38 1343.23L841.17 1343.63L841.97 1344.02L842.76 1344.41L843.56 1344.80L844.35 1345.19L845.15 1345.58L845.95 1345.96L846.74 1346.34L847.54 1346.72L848.34 1347.10L849.14 1347.48L849.94 1347.85L850.74 1348.22L851.55 1348.59L852.35 1348.96L853.15 1349.32L853.96 1349.68L854.76 1350.04L855.57 1350.40L856.37 1350.75L857.18 1351.10L857.99 1351.45L858.80 1351.79L859.61 1352.13L860.42 1352.47L861.23 1352.81L862.04 1353.14L862.86 1353.47L863.67 1353.80L864.49 1354.12L865.30 1354.44L866.12 1354.76L866.94 1355.07L867.76 1355.38L868.58 1355.69L869.40 1355.99L870.23 1356.29L871.05 1356.58L871.88 1356.88L872.70 1357.16L873.53 1357.45L874.36 1357.73L875.19 1358.01L876.02 1358.28L876.85 1358.55L877.68 1358.81L878.52 1359.07L879.35 1359.33L880.19 1359.58L881.03 1359.83L881.87 1360.08L882.71 1360.32L883.55 1360.55L884.40 1360.78L885.24 1361.01L886.09 1361.23L886.94 1361.45L887.78 1361.66L888.64 1361.87L889.49 1362.07L890.34 1362.27L891.20 1362.47L892.05 1362.66L892.91 1362.84L893.77 1363.02L894.63 1363.20L895.49 1363.37L896.36 1363.54L897.22 1363.70L898.09 1363.86L898.95 1364.01L899.82 1364.16L900.69 1364.31L901.56 1364.45L902.43 1364.59L903.30 1364.73L904.18 1364.86L905.05 1364.99L905.93 1365.11L906.80 1365.23L907.68 1365.35L908.56 1365.46L909.44 1365.57L910.32 1365.68L911.20 1365.79L912.08 1365.89L912.96 1365.99L913.84 1366.08L914.72 1366.18L915.61 1366.27L916.49 1366.35L917.38 1366.44L918.26 1366.52L919.15 1366.60L920.03 1366.68L920.92 1366.75L921.81 1366.83L922.70 1366.90L923.58 1366.96L924.47 1367.03L925.36 1367.10L926.25 1367.16L927.14 1367.22L928.03 1367.28L928.91 1367.34L929.80 1367.39L930.69 1367.45L931.58 1367.50L932.47 1367.55L933.36 1367.60L934.25 1367.65L935.14 1367.69L936.03 1367.74L936.92 1367.79L937.81 1367.83L938.70 1367.87L939.59 1367.92L940.47 1367.96L941.36 1368.00L942.25 1368.04L943.14 1368.08L944.02 1368.12L944.91 1368.16L945.80 1368.19L946.68 1368.23L947.57 1368.27L948.45 1368.31L949.34 1368.35L950.22 1368.38L951.11 1368.42L951.99 1368.46L952.87 1368.50L953.75 1368.54L954.63 1368.58L955.51 1368.61L956.39 1368.65L957.27 1368.69L958.15 1368.74L959.02 1368.78L959.90 1368.82L960.77 1368.86L961.65 1368.91L962.52 1368.95L963.39 1369.00L964.26 1369.05L965.13 1369.09L966.00 1369.14L966.87 1369.20L967.73 1369.25L968.60 1369.30L969.46 1369.36L970.32 1369.42L971.18 1369.47L972.04 1369.53L972.90 1369.60L973.76 1369.66" fill="none" stroke="#7010a0" stroke-width="4.80" stroke-linejoin="round" stroke-linecap="round" clip-path="url(#cb)"/><path d="M107.31 1386.00L108.51 1386.02L109.70 1386.04L110.90 1386.05L112.10 1386.07L113.30 1386.09L114.50 1386.11L115.70 1386.13L116.90 1386.15L118.09 1386.17L119.29 1386.19L120.49 1386.21L121.69 1386.23L122.89 1386.25L124.09 1386.27L125.29 1386.29L126.48 1386.31L127.68 1386.33L128.88 1386.35L130.08 1386.37L131.28 1386.39L132.48 1386.41L133.68 1386.43L134.88 1386.45L136.07 1386.47L137.27 1386.49L138.47 1386.51L139.67 1386.54L140.87 1386.56L142.07 1386.58L143.27 1386.60L144.47 1386.62L145.66 1386.64L146.86 1386.67L148.06 1386.69L149.26 1386.71L150.46 1386.73L151.66 1386.76L152.86 1386.78L154.06 1386.80L155.26 1386.82L156.45 1386.85L157.65 1386.87L158.85 1386.89L160.05 1386.91L161.25 1386.94L162.45 1386.96L163.65 1386.98L164.85 1387.01L166.05 1387.03L167.25 1387.05L168.44 1387.08L169.64 1387.10L170.84 1387.12L172.04 1387.15L173.24 1387.17L174.44 1387.19L175.64 1387.22L176.84 1387.24L178.04 1387.26L179.24 1387.29L180.44 1387.31L181.63 1387.33L182.83 1387.36L184.03 1387.38L185.23 1387.41L186.43 1387.43L187.63 1387.45L188.83 1387.48L190.03 1387.50L191.23 1387.53L192.43 1387.55L193.63 1387.57L194.83 1387.60L196.03 1387.62L197.22 1387.65L198.42 1387.67L199.62 1387.69L200.82 1387.72L202.02 1387.74L203.22 1387.77L204.42 1387.79L205.62 1387.81L206.82 1387.84L208.02 1387.86L209.22 1387.89L210.42 1387.91L211.62 1387.93L212.82 1387.96L214.02 1387.98L215.21 1388.00L216.41 1388.03L217.61 1388.05L218.81 1388.08L220.01 1388.10L221.21 1388.12L222.41 1388.15L223.61 1388.17L224.81 1388.19L226.01 1388.22L227.21 1388.24L228.41 1388.26L229.61 1388.29L230.81 1388.31L232.01 1388.33L233.21 1388.36L234.41 1388.38L235.60 1388.40L236.80 1388.43L238.00 1388.45L239.20 1388.47L240.40 1388.50L241.60 1388.52L242.80 1388.54L244.00 1388.56L245.20 1388.59L246.40 1388.61L247.60 1388.63L248.80 1388.65L250.00 1388.68L251.20 1388.70L252.40 1388.72L253.60 1388.74L254.80 1388.76L256.00 1388.79L257.20 1388.81L258.40 1388.83L259.59 1388.85L260.79 1388.87L261.99 1388.89L263.19 1388.91L264.39 1388.94L265.59 1388.96L266.79 1388.98L267.99 1389.00L269.19 1389.02L270.39 1389.04L271.59 1389.06L272.79 1389.08L273.99 1389.10L275.19 1389.12L276.39 1389.14L277.59 1389.16L278.79 1389.18L279.99 1389.20L281.19 1389.22L282.39 1389.24L283.59 1389.26L284.79 1389.28L285.99 1389.30L287.19 1389.31L288.38 1389.33L289.58 1389.35L290.78 1389.37L291.98 1389.39L293.18 1389.41L294.38 1389.42L295.58 1389.44L296.78 1389.46L297.98 1389.48L299.18 1389.49L300.38 1389.51L301.58 1389.53L302.78 1389.54L303.98 1389.56L305.18 1389.58L306.38 1389.59L307.58 1389.61L308.78 1389.62L309.98 1389.64L311.18 1389.66L312.38 1389.67L313.58 1389.69L314.78 1389.70L315.98 1389.72L317.18 1389.73L318.37 1389.74L319.57 1389.76L320.77 1389.77L321.97 1389.79L323.17 1389.80L324.37 1389.81L325.57 1389.83L326.77 1389.84L327.97 1389.85L329.17 1389.86L330.37 1389.88L331.57 1389.89L332.77 1389.90L333.97 1389.91L335.17 1389.92L336.37 1389.93L337.57 1389.94L338.77 1389.95L339.97 1389.97L341.17 1389.98L342.37 1389.99L343.57 1389.99L344.77 1390.00L345.97 1390.01L347.16 1390.02L348.36 1390.03L349.56 1390.04L350.76 1390.05L351.96 1390.06L353.16 1390.06L354.36 1390.07L355.56 1390.08L356.76 1390.09L357.96 1390.09L359.16 1390.10L360.36 1390.10L361.56 1390.11L362.76 1390.12L363.96 1390.12L365.16 1390.13L366.36 1390.13L367.56 1390.14L368.76 1390.14L369.96 1390.14L371.16 1390.15L372.35 1390.15L373.55 1390.15L374.75 1390.16L375.95 1390.16L377.15 1390.16L378.35 1390.16L379.55 1390.17L380.75 1390.17L381.95 1390.17L383.15 1390.17L384.35 1390.17L385.55 1390.17L386.75 1390.17L387.95 1390.17L389.15 1390.17L390.35 1390.17L391.55 1390.17L392.75 1390.16L393.94 1390.16L395.14 1390.16L396.34 1390.16L397.54 1390.15L398.74 1390.15L399.94 1390.15L401.14 1390.14L402.34 1390.14L403.54 1390.13L404.74 1390.13L405.94 1390.12L407.14 1390.12L408.34 1390.11L409.54 1390.10L410.74 1390.10L411.93 1390.09L413.13 1390.08L414.33 1390.08L415.53 1390.07L416.73 1390.06L417.93 1390.05L419.13 1390.04L420.33 1390.03L421.53 1390.02L422.73 1390.01L423.93 1390.00L425.13 1389.99L426.33 1389.98L427.52 1389.96L428.72 1389.95L429.92 1389.94L431.12 1389.93L432.32 1389.91L433.52 1389.90L434.72 1389.89L435.92 1389.87L437.12 1389.86L438.32 1389.84L439.52 1389.82L440.71 1389.81L441.91 1389.79L443.11 1389.77L444.31 1389.76L445.51 1389.74L446.71 1389.72L447.91 1389.70L449.11 1389.68L450.31 1389.66L451.51 1389.64L452.70 1389.62L453.90 1389.60L455.10 1389.58L456.30 1389.56L457.50 1389.54L458.70 1389.52L459.90 1389.49L461.10 1389.47L462.30 1389.45L463.50 1389.42L464.69 1389.40L465.89 1389.37L467.09 1389.35L468.29 1389.32L469.49 1389.30L470.69 1389.27L471.89 1389.24L473.09 1389.21L474.28 1389.19L475.48 1389.16L476.68 1389.13L477.88 1389.10L479.08 1389.07L480.28 1389.04L481.48 1389.01L482.68 1388.97L483.87 1388.94L485.07 1388.91L486.27 1388.88L487.47 1388.84L488.67 1388.81L489.87 1388.78L491.07 1388.74L492.26 1388.71L493.46 1388.67L494.66 1388.63L495.86 1388.60L497.06 1388.56L498.26 1388.52L499.46 1388.48L500.65 1388.45L501.85 1388.41L503.05 1388.37L504.25 1388.33L505.45 1388.29L506.65 1388.24L507.85 1388.20L509.04 1388.16L510.24 1388.12L511.44 1388.07L512.64 1388.03L513.84 1387.99L515.04 1387.94L516.23 1387.90L517.43 1387.85L518.63 1387.80L519.83 1387.76L521.03 1387.71L522.23 1387.66L523.42 1387.61L524.62 1387.56L525.82 1387.51L527.02 1387.46L528.22 1387.41L529.41 1387.36L530.61 1387.31L531.81 1387.26L533.01 1387.21L534.21 1387.15L535.40 1387.10L536.60 1387.04L537.80 1386.99L539.00 1386.93L540.20 1386.88L541.39 1386.82L542.59 1386.77L543.79 1386.71L544.99 1386.65L546.19 1386.60L547.39 1386.54L548.58 1386.48L549.78 1386.43L550.98 1386.37L552.18 1386.31L553.38 1386.25L554.57 1386.20L555.77 1386.14L556.97 1386.08L558.17 1386.03L559.37 1385.97L560.56 1385.91L561.76 1385.85L562.96 1385.80L564.16 1385.74L565.36 1385.68L566.55 1385.63L567.75 1385.57L568.95 1385.52L570.15 1385.46L571.35 1385.41L572.55 1385.35L573.74 1385.30L574.94 1385.25L576.14 1385.19L577.34 1385.14L578.54 1385.09L579.74 1385.04L580.94 1384.99L582.13 1384.94L583.33 1384.89L584.53 1384.84L585.73 1384.79L586.93 1384.74L588.13 1384.69L589.33 1384.65L590.52 1384.60L591.72 1384.56L592.92 1384.52L594.12 1384.47L595.32 1384.43L596.52 1384.39L597.72 1384.35L598.92 1384.31L600.12 1384.27L601.32 1384.24L602.52 1384.20L603.72 1384.17L604.92 1384.13L606.11 1384.10L607.31 1384.07L608.51 1384.04L609.71 1384.00L610.91 1383.97L612.11 1383.94L613.31 1383.92L614.51 1383.89L615.71 1383.86L616.91 1383.83L618.11 1383.80L619.31 1383.78L620.51 1383.75L621.71 1383.72L622.91 1383.69L624.11 1383.67L625.31 1383.64L626.51 1383.61L627.71 1383.59L628.91 1383.56L630.11 1383.53L631.31 1383.51L632.51 1383.48L633.71 1383.45L634.91 1383.42L636.11 1383.39L637.31 1383.37L638.51 1383.34L639.70 1383.30L640.90 1383.27L642.10 1383.24L643.30 1383.21L644.50 1383.18L645.70 1383.14L646.90 1383.11L648.10 1383.07L649.30 1383.03L650.50 1383.00L651.69 1382.96L652.89 1382.92L654.09 1382.88L655.29 1382.83L656.49 1382.79L657.69 1382.74L658.88 1382.70L660.08 1382.65L661.28 1382.60L662.48 1382.55L663.67 1382.50L664.87 1382.44L666.07 1382.39L667.27 1382.33L668.46 1382.27L669.66 1382.21L670.86 1382.14L672.05 1382.08L673.25 1382.01L674.45 1381.94L675.64 1381.87L676.84 1381.80L678.03 1381.72L679.23 1381.64L680.43 1381.56L681.62 1381.48L682.82 1381.39L684.01 1381.30L685.21 1381.21L686.40 1381.12L687.59 1381.03L688.79 1380.93L689.98 1380.83L691.18 1380.72L692.37 1380.62L693.56 1380.51L694.76 1380.40L695.95 1380.28L697.14 1380.16L698.34 1380.04L699.53 1379.92L700.72 1379.79L701.91 1379.66L703.10 1379.52L704.30 1379.39L705.49 1379.25L706.68 1379.11L707.87 1378.96L709.06 1378.82L710.25 1378.67L711.44 1378.52L712.63 1378.36L713.82 1378.21L715.01 1378.05L716.20 1377.90L717.39 1377.74L718.58 1377.58L719.77 1377.42L720.96 1377.26L722.15 1377.09L723.34 1376.93L724.53 1376.77L725.72 1376.60L726.91 1376.44L728.10 1376.27L729.29 1376.11L730.48 1375.94L731.67 1375.78L732.86 1375.62L734.05 1375.45L735.24 1375.29L736.43 1375.13L737.62 1374.97L738.82 1374.81L740.01 1374.65L741.20 1374.50L742.39 1374.34L743.58 1374.19L744.77 1374.04L745.97 1373.89L747.16 1373.74L748.35 1373.60L749.54 1373.45L750.74 1373.31L751.93 1373.18L753.12 1373.04L754.32 1372.91L755.51 1372.78L756.70 1372.66L757.90 1372.53L759.09 1372.41L760.29 1372.30L761.49 1372.19L762.68 1372.08L763.88 1371.98L765.08 1371.88L766.27 1371.78L767.47 1371.69L768.67 1371.61L769.87 1371.52L771.06 1371.45L772.26 1371.38L773.46 1371.31L774.66 1371.25L775.85 1371.19L777.05 1371.14L778.25 1371.09L779.45 1371.05L780.65 1371.02L781.84 1370.99L783.04 1370.97L784.24 1370.95L785.44 1370.94L786.63 1370.94L787.83 1370.94L789.03 1370.95L790.22 1370.97L791.42 1370.99L792.61 1371.02L793.81 1371.06L795.00 1371.11L796.19 1371.16L797.39 1371.22L798.58 1371.29L799.77 1371.36L800.97 1371.44L802.16 1371.54L803.35 1371.63L804.54 1371.74L805.73 1371.86L806.91 1371.98L808.10 1372.12L809.29 1372.26L810.47 1372.41L811.66 1372.57L812.84 1372.74L814.03 1372.92L815.21 1373.10L816.39 1373.29L817.57 1373.49L818.76 1373.69L819.94 1373.90L821.12 1374.11L822.30 1374.32L823.48 1374.54L824.66 1374.77L825.84 1375.00L827.02 1375.22L828.19 1375.46L829.37 1375.69L830.55 1375.92L831.73 1376.15L832.91 1376.39L834.09 1376.62L835.27 1376.85L836.45 1377.08L837.63 1377.31L838.81 1377.54L839.99 1377.76L841.17 1377.98L842.35 1378.19L843.53 1378.40L844.71 1378.61L845.89 1378.82L847.08 1379.02L848.26 1379.21L849.44 1379.41L850.63 1379.60L851.81 1379.79L853.00 1379.97L854.18 1380.15L855.37 1380.33L856.55 1380.50L857.74 1380.68L858.92 1380.84L860.11 1381.01L861.30 1381.17L862.48 1381.33L863.67 1381.48L864.86 1381.64L866.05 1381.79L867.24 1381.93L868.42 1382.08L869.61 1382.22L870.80 1382.36L871.99 1382.49L873.18 1382.62L874.37 1382.75L875.56 1382.88L876.75 1383.00L877.95 1383.13L879.14 1383.24L880.33 1383.36L881.52 1383.47L882.71 1383.58L883.91 1383.69L885.10 1383.80L886.29 1383.90L887.48 1384.00L888.68 1384.10L889.87 1384.20L891.07 1384.29L892.26 1384.38L893.45 1384.47L894.65 1384.56L895.84 1384.64L897.04 1384.72L898.24 1384.80L899.43 1384.88L900.63 1384.96L901.82 1385.03L903.02 1385.10L904.22 1385.17L905.41 1385.24L906.61 1385.30L907.81 1385.36L909.00 1385.43L910.20 1385.49L911.40 1385.54L912.60 1385.60L913.79 1385.65L914.99 1385.70L916.19 1385.75L917.39 1385.80L918.59 1385.85L919.79 1385.89L920.98 1385.94L922.18 1385.98L923.38 1386.02L924.58 1386.06L925.78 1386.09L926.98 1386.13L928.18 1386.16L929.38 1386.20L930.58 1386.23L931.78 1386.26L932.98 1386.28L934.18 1386.31L935.38 1386.34L936.58 1386.36L937.78 1386.38L938.98 1386.41L940.18 1386.43L941.38 1386.45L942.58 1386.47L943.78 1386.48L944.99 1386.50L946.19 1386.51L947.39 1386.53L948.59 1386.54L949.79 1386.55L950.99 1386.56L952.19 1386.57L953.39 1386.58L954.59 1386.59L955.80 1386.60L957.00 1386.61L958.20 1386.61L959.40 1386.62L960.60 1386.62L961.80 1386.63L963.01 1386.63L964.21 1386.63L965.41 1386.64L966.61 1386.64L967.81 1386.64L969.01 1386.64L970.21 1386.64L971.42 1386.64L972.62 1386.64L973.82 1386.64" fill="none" stroke="#0818d0" stroke-width="4.80" stroke-linejoin="round" stroke-linecap="round" clip-path="url(#cb)"/><path d="M107.30 1391.52L109.04 1391.55L110.78 1391.57L112.51 1391.60L114.25 1391.63L115.99 1391.66L117.72 1391.69L119.46 1391.72L121.20 1391.75L122.93 1391.78L124.67 1391.80L126.41 1391.83L128.14 1391.86L129.88 1391.89L131.62 1391.92L133.35 1391.95L135.09 1391.98L136.83 1392.00L138.56 1392.03L140.30 1392.06L142.04 1392.09L143.77 1392.12L145.51 1392.15L147.25 1392.18L148.99 1392.21L150.72 1392.23L152.46 1392.26L154.20 1392.29L155.93 1392.32L157.67 1392.35L159.41 1392.38L161.14 1392.40L162.88 1392.43L164.62 1392.46L166.35 1392.49L168.09 1392.52L169.83 1392.54L171.57 1392.57L173.30 1392.60L175.04 1392.63L176.78 1392.66L178.51 1392.68L180.25 1392.71L181.99 1392.74L183.72 1392.77L185.46 1392.79L187.20 1392.82L188.93 1392.85L190.67 1392.88L192.41 1392.90L194.15 1392.93L195.88 1392.96L197.62 1392.98L199.36 1393.01L201.09 1393.04L202.83 1393.06L204.57 1393.09L206.31 1393.12L208.04 1393.14L209.78 1393.17L211.52 1393.19L213.25 1393.22L214.99 1393.25L216.73 1393.27L218.46 1393.30L220.20 1393.32L221.94 1393.35L223.68 1393.37L225.41 1393.40L227.15 1393.42L228.89 1393.45L230.62 1393.47L232.36 1393.50L234.10 1393.52L235.84 1393.55L237.57 1393.57L239.31 1393.60L241.05 1393.62L242.78 1393.64L244.52 1393.67L246.26 1393.69L248.00 1393.72L249.73 1393.74L251.47 1393.76L253.21 1393.78L254.94 1393.81L256.68 1393.83L258.42 1393.85L260.16 1393.88L261.89 1393.90L263.63 1393.92L265.37 1393.94L267.10 1393.96L268.84 1393.98L270.58 1394.01L272.32 1394.03L274.05 1394.05L275.79 1394.07L277.53 1394.09L279.26 1394.11L281.00 1394.13L282.74 1394.15L284.48 1394.17L286.21 1394.19L287.95 1394.21L289.69 1394.23L291.42 1394.25L293.16 1394.27L294.90 1394.28L296.64 1394.30L298.37 1394.32L300.11 1394.34L301.85 1394.36L303.58 1394.38L305.32 1394.39L307.06 1394.41L308.80 1394.43L310.53 1394.44L312.27 1394.46L314.01 1394.48L315.75 1394.49L317.48 1394.51L319.22 1394.52L320.96 1394.54L322.69 1394.55L324.43 1394.57L326.17 1394.58L327.91 1394.60L329.64 1394.61L331.38 1394.63L333.12 1394.64L334.86 1394.65L336.59 1394.67L338.33 1394.68L340.07 1394.69L341.80 1394.70L343.54 1394.72L345.28 1394.73L347.02 1394.74L348.75 1394.75L350.49 1394.76L352.23 1394.77L353.96 1394.78L355.70 1394.79L357.44 1394.80L359.18 1394.81L360.91 1394.82L362.65 1394.83L364.39 1394.84L366.13 1394.85L367.86 1394.86L369.60 1394.87L371.34 1394.87L373.07 1394.88L374.81 1394.89L376.55 1394.89L378.29 1394.90L380.02 1394.91L381.76 1394.91L383.50 1394.92L385.24 1394.92L386.97 1394.93L388.71 1394.93L390.45 1394.94L392.18 1394.94L393.92 1394.94L395.66 1394.95L397.40 1394.95L399.13 1394.95L400.87 1394.96L402.61 1394.96L404.34 1394.96L406.08 1394.96L407.82 1394.96L409.56 1394.96L411.29 1394.96L413.03 1394.96L414.77 1394.96L416.51 1394.96L418.24 1394.96L419.98 1394.96L421.72 1394.96L423.45 1394.95L425.19 1394.95L426.93 1394.95L428.67 1394.95L430.40 1394.94L432.14 1394.94L433.88 1394.93L435.61 1394.93L437.35 1394.92L439.09 1394.92L440.83 1394.91L442.56 1394.91L444.30 1394.90L446.04 1394.89L447.78 1394.88L449.51 1394.88L451.25 1394.87L452.99 1394.86L454.72 1394.85L456.46 1394.84L458.20 1394.83L459.94 1394.82L461.67 1394.81L463.41 1394.80L465.15 1394.79L466.88 1394.78L468.62 1394.76L470.36 1394.75L472.10 1394.74L473.83 1394.72L475.57 1394.71L477.31 1394.70L479.04 1394.68L480.78 1394.67L482.52 1394.65L484.26 1394.63L485.99 1394.62L487.73 1394.60L489.47 1394.58L491.20 1394.57L492.94 1394.55L494.68 1394.53L496.42 1394.51L498.15 1394.49L499.89 1394.47L501.63 1394.45L503.36 1394.43L505.10 1394.41L506.84 1394.39L508.58 1394.36L510.31 1394.34L512.05 1394.32L513.79 1394.29L515.52 1394.27L517.26 1394.24L519.00 1394.22L520.73 1394.19L522.47 1394.17L524.21 1394.14L525.95 1394.12L527.68 1394.09L529.42 1394.06L531.16 1394.03L532.89 1394.01L534.63 1393.98L536.37 1393.95L538.11 1393.92L539.84 1393.89L541.58 1393.86L543.32 1393.83L545.05 1393.80L546.79 1393.76L548.53 1393.73L550.26 1393.70L552.00 1393.67L553.74 1393.63L555.47 1393.60L557.21 1393.57L558.95 1393.53L560.69 1393.50L562.42 1393.46L564.16 1393.43L565.90 1393.39L567.63 1393.36L569.37 1393.32L571.11 1393.28L572.84 1393.25L574.58 1393.21L576.32 1393.17L578.05 1393.13L579.79 1393.09L581.53 1393.05L583.26 1393.02L585.00 1392.98L586.74 1392.94L588.48 1392.90L590.21 1392.86L591.95 1392.81L593.69 1392.77L595.42 1392.73L597.16 1392.69L598.90 1392.65L600.63 1392.60L602.37 1392.56L604.11 1392.52L605.84 1392.47L607.58 1392.43L609.32 1392.39L611.05 1392.34L612.79 1392.30L614.53 1392.25L616.26 1392.21L618.00 1392.16L619.74 1392.11L621.47 1392.07L623.21 1392.02L624.95 1391.97L626.68 1391.93L628.42 1391.88L630.16 1391.83L631.89 1391.78L633.63 1391.73L635.37 1391.69L637.10 1391.64L638.84 1391.59L640.58 1391.54L642.31 1391.49L644.05 1391.44L645.78 1391.39L647.52 1391.34L649.26 1391.29L650.99 1391.24L652.73 1391.18L654.47 1391.13L656.20 1391.08L657.94 1391.03L659.68 1390.98L661.41 1390.92L663.15 1390.87L664.89 1390.82L666.62 1390.76L668.36 1390.71L670.09 1390.66L671.83 1390.60L673.57 1390.55L675.30 1390.49L677.04 1390.44L678.78 1390.38L680.51 1390.33L682.25 1390.27L683.98 1390.22L685.72 1390.16L687.46 1390.10L689.19 1390.05L690.93 1389.99L692.66 1389.93L694.40 1389.88L696.14 1389.82L697.87 1389.76L699.61 1389.71L701.35 1389.65L703.08 1389.59L704.82 1389.53L706.55 1389.47L708.29 1389.41L710.03 1389.36L711.76 1389.30L713.50 1389.24L715.23 1389.18L716.97 1389.12L718.71 1389.06L720.44 1389.00L722.18 1388.94L723.91 1388.88L725.65 1388.82L727.38 1388.76L729.12 1388.70L730.86 1388.64L732.59 1388.58L734.33 1388.51L736.06 1388.45L737.80 1388.39L739.54 1388.33L741.27 1388.27L743.01 1388.21L744.74 1388.14L746.48 1388.08L748.21 1388.02L749.95 1387.96L751.68 1387.89L753.42 1387.83L755.16 1387.77L756.89 1387.71L758.63 1387.64L760.36 1387.58L762.10 1387.52L763.83 1387.45L765.57 1387.39L767.30 1387.33L769.04 1387.27L770.78 1387.21L772.51 1387.15L774.25 1387.10L775.98 1387.05L777.72 1387.00L779.45 1386.95L781.19 1386.91L782.92 1386.87L784.66 1386.84L786.39 1386.81L788.13 1386.78L789.86 1386.76L791.60 1386.75L793.33 1386.74L795.07 1386.74L796.80 1386.74L798.54 1386.75L800.27 1386.77L802.01 1386.80L803.74 1386.83L805.47 1386.87L807.21 1386.92L808.94 1386.97L810.68 1387.03L812.41 1387.10L814.15 1387.17L815.88 1387.25L817.61 1387.33L819.35 1387.42L821.08 1387.52L822.82 1387.62L824.55 1387.72L826.28 1387.84L828.02 1387.95L829.75 1388.07L831.48 1388.19L833.22 1388.32L834.95 1388.45L836.69 1388.58L838.42 1388.71L840.15 1388.85L841.89 1388.98L843.62 1389.12L845.35 1389.26L847.09 1389.40L848.82 1389.54L850.55 1389.68L852.29 1389.82L854.02 1389.95L855.76 1390.09L857.49 1390.22L859.22 1390.36L860.96 1390.49L862.69 1390.61L864.43 1390.74L866.16 1390.86L867.89 1390.98L869.63 1391.10L871.36 1391.21L873.10 1391.32L874.83 1391.43L876.57 1391.54L878.30 1391.65L880.03 1391.75L881.77 1391.85L883.50 1391.95L885.24 1392.04L886.97 1392.14L888.71 1392.23L890.44 1392.32L892.18 1392.40L893.91 1392.49L895.65 1392.57L897.38 1392.65L899.12 1392.72L900.85 1392.80L902.59 1392.87L904.33 1392.94L906.06 1393.01L907.80 1393.08L909.53 1393.14L911.27 1393.20L913.00 1393.26L914.74 1393.32L916.48 1393.38L918.21 1393.43L919.95 1393.48L921.68 1393.53L923.42 1393.58L925.16 1393.62L926.89 1393.67L928.63 1393.71L930.37 1393.75L932.10 1393.78L933.84 1393.82L935.58 1393.85L937.31 1393.88L939.05 1393.91L940.79 1393.94L942.52 1393.97L944.26 1393.99L946.00 1394.01L947.73 1394.03L949.47 1394.05L951.21 1394.07L952.95 1394.08L954.68 1394.10L956.42 1394.11L958.16 1394.12L959.90 1394.13L961.64 1394.13L963.37 1394.14L965.11 1394.14L966.85 1394.14L968.59 1394.14L970.33 1394.14L972.06 1394.13L973.80 1394.13" fill="none" stroke="#dc0000" stroke-width="4.80" stroke-linejoin="round" stroke-linecap="round" clip-path="url(#cb)"/><g stroke="#000" stroke-width="3.8" stroke-linecap="butt"><line x1="107.30" y1="1439.50" x2="107.30" y2="1426.70"/><line x1="323.93" y1="1439.50" x2="323.93" y2="1426.70"/><line x1="540.55" y1="1439.50" x2="540.55" y2="1426.70"/><line x1="757.17" y1="1439.50" x2="757.17" y2="1426.70"/><line x1="973.80" y1="1439.50" x2="973.80" y2="1426.70"/><line x1="215.61" y1="1439.50" x2="215.61" y2="1433.00"/><line x1="432.24" y1="1439.50" x2="432.24" y2="1433.00"/><line x1="648.86" y1="1439.50" x2="648.86" y2="1433.00"/><line x1="865.49" y1="1439.50" x2="865.49" y2="1433.00"/><line x1="107.30" y1="1416.00" x2="120.10" y2="1416.00"/><line x1="107.30" y1="1321.57" x2="120.10" y2="1321.57"/><line x1="107.30" y1="1227.14" x2="120.10" y2="1227.14"/><line x1="107.30" y1="1132.71" x2="120.10" y2="1132.71"/><line x1="107.30" y1="1038.28" x2="120.10" y2="1038.28"/><line x1="107.30" y1="943.85" x2="120.10" y2="943.85"/><line x1="107.30" y1="849.42" x2="120.10" y2="849.42"/><line x1="107.30" y1="1368.79" x2="113.80" y2="1368.79"/><line x1="107.30" y1="1274.36" x2="113.80" y2="1274.36"/><line x1="107.30" y1="1179.92" x2="113.80" y2="1179.92"/><line x1="107.30" y1="1085.50" x2="113.80" y2="1085.50"/><line x1="107.30" y1="991.07" x2="113.80" y2="991.07"/><line x1="107.30" y1="896.63" x2="113.80" y2="896.63"/><rect x="107.30" y="802.50" width="866.50" height="637.00" fill="none"/></g><line x1="166.8" y1="857.90" x2="218.4" y2="857.90" stroke="#000000" stroke-width="4.6" stroke-linecap="round"/><line x1="166.8" y1="887.70" x2="218.4" y2="887.70" stroke="#0a5a3c" stroke-width="4.6" stroke-linecap="round"/><line x1="166.8" y1="917.40" x2="218.4" y2="917.40" stroke="#f07a1a" stroke-width="4.6" stroke-linecap="round"/><line x1="166.8" y1="946.70" x2="218.4" y2="946.70" stroke="#5e0078" stroke-width="4.6" stroke-linecap="round"/><line x1="166.8" y1="976.00" x2="218.4" y2="976.00" stroke="#0000b8" stroke-width="4.6" stroke-linecap="round"/><line x1="166.8" y1="1005.20" x2="218.4" y2="1005.20" stroke="#c80000" stroke-width="4.6" stroke-linecap="round"/><g stroke="#f07878" stroke-width="2.00"><line x1="182.52" y1="1651.05" x2="317.08" y2="2018.94"/><line x1="331.88" y1="2036.77" x2="453.72" y2="2109.07"/><line x1="475.85" y1="2119.57" x2="595.75" y2="2163.31"/><line x1="618.94" y1="2171.49" x2="738.66" y2="2212.22"/><line x1="762.50" y1="2217.76" x2="881.10" y2="2233.20"/></g><g stroke="#7c7c7c" stroke-width="2.00"><line x1="184.30" y1="1650.24" x2="315.30" y2="1884.60"/><line x1="329.61" y1="1904.40" x2="455.99" y2="2042.17"/><line x1="475.79" y1="2055.63" x2="595.81" y2="2101.53"/><line x1="617.79" y1="2112.34" x2="739.81" y2="2187.00"/><line x1="762.57" y1="2194.27" x2="881.03" y2="2202.50"/></g><rect x="170.90" y="1632.10" width="14.8" height="14.8" fill="#d40000"/><rect x="313.90" y="2023.09" width="14.8" height="14.8" fill="#d40000"/><rect x="456.90" y="2107.95" width="14.8" height="14.8" fill="#d40000"/><rect x="599.90" y="2160.12" width="14.8" height="14.8" fill="#d40000"/><rect x="742.90" y="2208.78" width="14.8" height="14.8" fill="#d40000"/><rect x="885.90" y="2227.38" width="14.8" height="14.8" fill="#d40000"/><circle cx="178.30" cy="1639.50" r="8.2" fill="#000"/><circle cx="321.30" cy="1895.34" r="8.2" fill="#000"/><circle cx="464.30" cy="2051.23" r="8.2" fill="#000"/><circle cx="607.30" cy="2105.92" r="8.2" fill="#000"/><circle cx="750.30" cy="2193.42" r="8.2" fill="#000"/><circle cx="893.30" cy="2203.35" r="8.2" fill="#000"/><g stroke="#000" stroke-width="3.8" stroke-linecap="butt"><line x1="178.30" y1="2300.50" x2="178.30" y2="2287.30"/><line x1="321.30" y1="2300.50" x2="321.30" y2="2287.30"/><line x1="464.30" y1="2300.50" x2="464.30" y2="2287.30"/><line x1="607.30" y1="2300.50" x2="607.30" y2="2287.30"/><line x1="750.30" y1="2300.50" x2="750.30" y2="2287.30"/><line x1="893.30" y1="2300.50" x2="893.30" y2="2287.30"/><line x1="249.80" y1="2300.50" x2="249.80" y2="2293.50"/><line x1="392.80" y1="2300.50" x2="392.80" y2="2293.50"/><line x1="535.80" y1="2300.50" x2="535.80" y2="2293.50"/><line x1="678.80" y1="2300.50" x2="678.80" y2="2293.50"/><line x1="821.80" y1="2300.50" x2="821.80" y2="2293.50"/><line x1="107.50" y1="2268.10" x2="120.70" y2="2268.10"/><line x1="107.50" y1="2142.38" x2="120.70" y2="2142.38"/><line x1="107.50" y1="2016.66" x2="120.70" y2="2016.66"/><line x1="107.50" y1="1890.94" x2="120.70" y2="1890.94"/><line x1="107.50" y1="1765.22" x2="120.70" y2="1765.22"/><line x1="107.50" y1="1639.50" x2="120.70" y2="1639.50"/><line x1="107.50" y1="2205.24" x2="114.50" y2="2205.24"/><line x1="107.50" y1="2079.52" x2="114.50" y2="2079.52"/><line x1="107.50" y1="1953.80" x2="114.50" y2="1953.80"/><line x1="107.50" y1="1828.08" x2="114.50" y2="1828.08"/><line x1="107.50" y1="1702.36" x2="114.50" y2="1702.36"/><rect x="107.50" y="1609.00" width="857.50" height="691.50" fill="none"/></g><g stroke="#f29494" stroke-width="1.8"><line x1="586.7" y1="1658.9" x2="613" y2="1658.9"/><line x1="634.8" y1="1658.9" x2="660.2" y2="1658.9"/></g><rect x="616.2" y="1651.2" width="15" height="15" fill="#d40000"/><g stroke="#989898" stroke-width="1.8"><line x1="586.7" y1="1705.7" x2="613" y2="1705.7"/><line x1="634.8" y1="1705.7" x2="660.2" y2="1705.7"/></g><circle cx="623.7" cy="1705.7" r="8.2" fill="#000"/><g stroke="#000" stroke-width="0.6" stroke-linejoin="round"><text font-size="28.00" text-anchor="end" transform="translate(90.50 620.10) scale(1.000 1.030)">0.0</text><text font-size="28.00" text-anchor="end" transform="translate(90.50 527.10) scale(1.000 1.030)">0.2</text><text font-size="28.00" text-anchor="end" transform="translate(90.50 434.10) scale(1.000 1.030)">0.4</text><text font-size="28.00" text-anchor="end" transform="translate(90.50 341.10) scale(1.000 1.030)">0.6</text><text font-size="28.00" text-anchor="end" transform="translate(90.50 248.10) scale(1.000 1.030)">0.8</text><text font-size="28.00" text-anchor="end" transform="translate(90.50 155.10) scale(1.000 1.030)">1.0</text><text font-size="28.00" text-anchor="end" transform="translate(90.50 62.10) scale(1.000 1.030)">1.2</text><text font-size="28.00" text-anchor="middle" transform="translate(103.50 670.00) scale(1.000 1.030)">400</text><text font-size="28.00" text-anchor="middle" transform="translate(316.75 670.00) scale(1.000 1.030)">450</text><text font-size="28.00" text-anchor="middle" transform="translate(530.00 670.00) scale(1.000 1.030)">500</text><text font-size="28.00" text-anchor="middle" transform="translate(743.25 670.00) scale(1.000 1.030)">550</text><text font-size="28.00" text-anchor="middle" transform="translate(956.50 670.00) scale(1.000 1.030)">600</text><text font-size="33.70" text-anchor="middle" transform="translate(529.30 722.00) scale(1.000 1.000)">Wavelength (nm)</text><text font-size="33.60" text-anchor="middle" transform="translate(36.90 321.65) rotate(-90) scale(1.000 1.040)">Absorbance (A.U.)</text><text font-size="33.00" text-anchor="start" transform="translate(5.20 25.00) scale(1.000 1.000)">(a)</text><text font-size="23.70" text-anchor="start" transform="translate(220.60 70.60) scale(1.000 1.000)">Ref</text><text font-size="23.70" text-anchor="start" transform="translate(220.60 98.90) scale(1.000 1.000)">Graphene/TiO<tspan font-size="16" dy="6.9">2</tspan></text><text font-size="23.70" text-anchor="start" transform="translate(220.60 132.60) scale(1.000 1.000)">TiO<tspan font-size="16" dy="6.9">2</tspan></text><text font-size="28.50" text-anchor="end" transform="translate(93.80 1424.50) scale(1.000 1.030)">0.0</text><text font-size="28.50" text-anchor="end" transform="translate(93.80 1330.07) scale(1.000 1.030)">0.2</text><text font-size="28.50" text-anchor="end" transform="translate(93.80 1235.64) scale(1.000 1.030)">0.4</text><text font-size="28.50" text-anchor="end" transform="translate(93.80 1141.21) scale(1.000 1.030)">0.6</text><text font-size="28.50" text-anchor="end" transform="translate(93.80 1046.78) scale(1.000 1.030)">0.8</text><text font-size="28.50" text-anchor="end" transform="translate(93.80 952.35) scale(1.000 1.030)">1.0</text><text font-size="28.50" text-anchor="end" transform="translate(93.80 857.92) scale(1.000 1.030)">1.2</text><text font-size="28.50" text-anchor="middle" transform="translate(107.30 1475.30) scale(1.000 1.030)">400</text><text font-size="28.50" text-anchor="middle" transform="translate(323.93 1475.30) scale(1.000 1.030)">450</text><text font-size="28.50" text-anchor="middle" transform="translate(540.55 1475.30) scale(1.000 1.030)">500</text><text font-size="28.50" text-anchor="middle" transform="translate(757.17 1475.30) scale(1.000 1.030)">550</text><text font-size="28.50" text-anchor="middle" transform="translate(973.80 1475.30) scale(1.000 1.030)">600</text><text font-size="34.40" text-anchor="middle" transform="translate(541.75 1527.60) scale(1.000 1.000)">Wavelength (nm)</text><text font-size="34.00" text-anchor="middle" transform="translate(39.80 1119.35) rotate(-90) scale(1.000 1.040)">Absorbance (A.U.)</text><text font-size="33.00" text-anchor="start" transform="translate(2.00 817.70) scale(1.000 1.000)">(b)</text><text font-size="23.70" text-anchor="start" transform="translate(226.80 866.20) scale(1.000 1.000)">0 min</text><text font-size="23.70" text-anchor="start" transform="translate(226.80 896.00) scale(1.000 1.000)">10 min</text><text font-size="23.70" text-anchor="start" transform="translate(226.80 925.70) scale(1.000 1.000)">20 min</text><text font-size="23.70" text-anchor="start" transform="translate(226.80 955.00) scale(1.000 1.000)">30 min</text><text font-size="23.70" text-anchor="start" transform="translate(226.80 984.30) scale(1.000 1.000)">40 min</text><text font-size="23.70" text-anchor="start" transform="translate(226.80 1013.50) scale(1.000 1.000)">50 min</text><text font-size="29.50" text-anchor="end" transform="translate(92.30 2276.90) scale(1.000 1.040)">0.0</text><text font-size="29.50" text-anchor="end" transform="translate(92.30 2151.18) scale(1.000 1.040)">0.2</text><text font-size="29.50" text-anchor="end" transform="translate(92.30 2025.46) scale(1.000 1.040)">0.4</text><text font-size="29.50" text-anchor="end" transform="translate(92.30 1899.74) scale(1.000 1.040)">0.6</text><text font-size="29.50" text-anchor="end" transform="translate(92.30 1774.02) scale(1.000 1.040)">0.8</text><text font-size="29.50" text-anchor="end" transform="translate(92.30 1648.30) scale(1.000 1.040)">1.0</text><text font-size="29.50" text-anchor="middle" transform="translate(178.30 2337.30) scale(1.000 1.040)">0</text><text font-size="29.50" text-anchor="middle" transform="translate(321.30 2337.30) scale(1.000 1.040)">10</text><text font-size="29.50" text-anchor="middle" transform="translate(464.30 2337.30) scale(1.000 1.040)">20</text><text font-size="29.50" text-anchor="middle" transform="translate(607.30 2337.30) scale(1.000 1.040)">30</text><text font-size="29.50" text-anchor="middle" transform="translate(750.30 2337.30) scale(1.000 1.040)">40</text><text font-size="29.50" text-anchor="middle" transform="translate(893.30 2337.30) scale(1.000 1.040)">50</text><text font-size="36.60" text-anchor="middle" transform="translate(536.50 2392.70) scale(1.000 1.000)">Time (min)</text><text font-size="36.00" text-anchor="middle" transform="translate(30.30 1954.50) rotate(-90) scale(1.000 1.000)">C/C<tspan font-size="25" dy="8.5">o</tspan></text><text font-size="33.00" text-anchor="start" transform="translate(-0.75 1617.00) scale(1.000 1.000)">(c)</text><text font-size="32.50" text-anchor="start" transform="translate(669.50 1669.30) scale(1.000 1.000)">Graphene/TiO<tspan font-size="21" dy="8">2</tspan></text><text font-size="32.50" text-anchor="start" transform="translate(669.50 1716.60) scale(1.000 1.000)">TiO<tspan font-size="21" dy="8">2</tspan></text></g></svg>
</body></html>
